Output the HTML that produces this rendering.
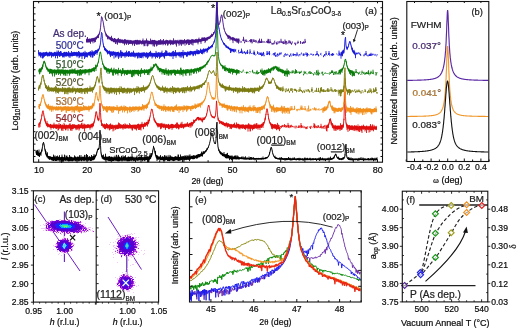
<!DOCTYPE html>
<html><head><meta charset="utf-8"><style>
html,body{margin:0;padding:0;background:#fff;width:520px;height:328px;overflow:hidden}
svg{display:block}
text{stroke:#222;stroke-width:0.22px}
</style></head><body>
<svg width="520" height="328" viewBox="0 0 520 328">
<rect width="520" height="328" fill="#fff"/>
<path d="M36 151.7 36.5 150.9 37 152.2 37.5 151.7 38 151.7 38.5 152.6 39 152.6 39.5 152.7 40 152.9 40.5 151.9 41 151.5 41.5 150.3 42 148.6 42.5 146 43 143.1 43.5 142 44 143.6 44.5 146.3 45 148.9 45.5 150.9 46 151.9 46.5 153.8 47 154.3 47.5 155 48 155.8 48.5 155.9 49 155.9 49.5 156.2 50 156.1 50.5 156.4 51 156.3 51.5 156.9 52 157.1 52.5 156.8 53 157.2 53.5 156.8 54 156.7 54.5 156.4 55 156.2 55.5 157.4 56 156.1 56.5 156.4 57 156 57.5 157.4 58 157 58.5 156.8 59 156.4 59.5 157.1 60 156.9 60.5 157.2 61 156.9 61.5 156.8 62 156.8 62.5 156.5 63 157.3 63.5 156.7 64 157.5 64.5 156.7 65 156.9 65.5 157.4 66 157.3 66.5 157.5 67 157.1 67.5 157 68 156.9 68.5 157.5 69 156.6 69.5 157.2 70 157.2 70.5 156.3 71 156.7 71.5 156.7 72 156.9 72.5 157.3 73 157.4 73.5 157.4 74 157.1 74.5 157.4 75 156.9 75.5 156.2 76 156.5 76.5 157.2 77 157.2 77.5 156.5 78 156.2 78.5 156.7 79 157.3 79.5 157 80 157.4 80.5 157 81 156.3 81.5 157.3 82 157 82.5 156.7 83 156.2 83.5 156.7 84 156.9 84.5 156.6 85 157.2 85.5 157.4 86 156.3 86.5 156.9 87 156.2 87.5 157.3 88 157.5 88.5 156.7 89 156.4 89.5 156 90 156.5 90.5 157.3 91 156.5 91.5 156.7 92 156.9 92.5 155.9 93 156 93.5 155.7 94 155.8 94.5 155.4 95 155 95.5 155 96 153.8 96.5 152.2 97 150.9 97.5 149.1 98 148.2 98.5 148.6 99 148.2 99.5 143.3 100 129.9 100.5 144.8 101 151.3 101.5 153.7 102 155.1 102.5 155.2 103 155.5 103.5 156.8 104 157 104.5 156.9 105 155.8 105.5 156.7 106 156.1 106.5 156.9 107 156.5 107.5 156.9 108 156.3 108.5 156.8 109 156.1 109.5 156.3 110 156.1 110.5 157.1 111 157.2 111.5 156.6 112 156.6 112.5 157 113 157.4 113.5 157.3 114 156.1 114.5 157.2 115 157.2 115.5 156.9 116 157.5 116.5 157.4 117 156.5 117.5 156.9 118 157.4 118.5 156.3 119 157.3 119.5 156.6 120 156.6 120.5 157.6 121 157.6 121.5 156.5 122 157.5 122.5 157.4 123 156.4 123.5 156.9 124 156.3 124.5 156.3 125 156.6 125.5 157.6 126 156.9 126.5 157.3 127 157.4 127.5 157 128 156.5 128.5 156.3 129 156.9 129.5 156.9 130 156.4 130.5 156.8 131 156.4 131.5 156.9 132 156.2 132.5 156.6 133 157 133.5 157.4 134 156.3 134.5 157.6 135 157.6 135.5 157.6 136 156.4 136.5 156.6 137 157.6 137.5 157.6 138 157.4 138.5 156.6 139 157.1 139.5 156.4 140 156.2 140.5 156.6 141 156.9 141.5 156.3 142 157.2 142.5 156.5 143 157.5 143.5 157.1 144 156.6 144.5 156.4 145 156.8 145.5 156.7 146 156.3 146.5 156.3 147 156.2 147.5 155.9 148 157 148.5 156.6 149 155.8 149.5 155.4 150 155.3 150.5 155.5 151 154.5 151.5 154.1 152 153.5 152.5 150.8 153 148.7 153.5 146.8 154 147 154.5 149.4 155 152 155.5 152.7 156 154.4 156.5 154.9 157 155.3 157.5 155.2 158 155.9 158.5 156.4 159 156.4 159.5 156.7 160 156.1 160.5 156 161 157 161.5 157.3 162 156.1 162.5 156.4 163 156 163.5 156.9 164 157.1 164.5 156.1 165 157.4 165.5 156.3 166 156.3 166.5 156.2 167 156.8 167.5 157.1 168 157.4 168.5 156.8 169 156 169.5 156.9 170 156.7 170.5 157.2 171 156.4 171.5 156.2 172 157 172.5 156.6 173 157 173.5 157 174 157.3 174.5 156.8 175 156.1 175.5 156.2 176 156.3 176.5 156.8 177 156.6 177.5 156.4 178 157.1 178.5 156.1 179 156.9 179.5 156.7 180 157.2 180.5 156.6 181 156.1 181.5 156.6 182 156.4 182.5 156.3 183 155.8 183.5 155.9 184 156.4 184.5 156.6 185 155.8 185.5 156.2 186 155.8 186.5 156.7 187 156.5 187.5 155.9 188 156 188.5 156.3 189 156.2 189.5 156.2 190 155.5 190.5 156.5 191 156.2 191.5 155.5 192 156.1 192.5 155.5 193 155.7 193.5 155.1 194 155 194.5 155.6 195 155.6 195.5 155.7 196 155.1 196.5 155 197 154.5 197.5 154.4 198 154.2 198.5 154.1 199 154.1 199.5 154.1 200 154.2 200.5 153.4 201 153.1 201.5 153.6 202 153.2 202.5 152.6 203 152.6 203.5 152 204 151.2 204.5 151.4 205 150.7 205.5 150.2 206 149.9 206.5 149.3 207 148.6 207.5 148.1 208 147.2 208.5 145.9 209 145 209.5 143.4 210 141.3 210.5 138.7 211 135.8 211.5 133.4 212 132.6 212.5 134.2 213 136.6 213.5 139.4 214 141.4 214.5 142.9 215 143.6 215.5 143.3 216 139.7 216.5 125.8 217 121.8 217.5 140.5 218 146.3 218.5 148.6 219 150.1 219.5 150.5 220 151 220.5 151.3 221 151.8 221.5 152.2 222 152.7 222.5 152.8 223 153.4 223.5 153.6 224 154 224.5 153.9 225 154.3 225.5 154.3 226 154.1 226.5 154.6 227 154.9 227.5 155.1 228 154.9 228.5 155 229 155 229.5 155.8 230 155.7 230.5 155.7 231 155.6 231.5 156 232 156.5 232.5 155.9 233 156.7 233.5 156.4 234 155.9 234.5 156.1 235 156.2 235.5 156.9 236 157.2 236.5 157.2 237 156.6 237.5 156.5 238 156.5 238.5 157.1 239 156.9 239.5 156.9 240 157.6 240.5 157.2 241 157.1 241.5 157.5 242 157.4 242.5 157.8 243 157.8 243.5 157.8 244 157.6 244.5 157.4 245 157.6 245.5 157.7 246 157.9 246.5 158 247 157.8 247.5 157.8 248 157.9 248.5 158.1 249 157.5 249.5 157.8 250 157.8 250.5 157.8 251 157.8 251.5 157.8 252 157.8 252.5 158 253 158.1 253.5 157.9 254 157.7 254.5 158 255 157.9 255.5 158.2 256 157.9 256.5 158.1 257 157.7 257.5 158.2 258 158.1 258.5 157.7 259 158.2 259.5 158 260 157.9 260.5 157.9 261 157.8 261.5 157.5 262 158.2 262.5 157.7 263 157.9 263.5 157.9 264 158 264.5 157.8 265 157.3 265.5 157.2 266 157 266.5 157.1 267 157.1 267.5 156.8 268 156.3 268.5 155.5 269 154.6 269.5 153 270 151.3 270.5 148.8 271 147.1 271.5 147.2 272 149.2 272.5 151.8 273 153.4 273.5 154.8 274 155.8 274.5 156.4 275 156.7 275.5 157.3 276 157.1 276.5 157.6 277 157.4 277.5 157.9 278 157.8 278.5 158.1 279 157.9 279.5 157.8 280 157.9 280.5 158.2 281 157.7 281.5 157.8 282 157.8 282.5 158.1 283 158.1 283.5 158.3 284 158.4 284.5 158.1 285 158 285.5 158.2 286 158.1 286.5 158.1 287 158.2 287.5 158.3 288 157.9 288.5 158.5 289 158.4 289.5 158 290 158.2 290.5 158.2 291 158.3 291.5 158.4 292 158.2 292.5 158.2 293 158.4 293.5 158.3 294 158.3 294.5 158.2 295 158.5 295.5 158.6 296 158.6 296.5 158.4 297 158.3 297.5 158.1 298 158.4 298.5 158.1 299 158.4 299.5 158.6 300 158.7 300.5 158.3 301 158.4 301.5 158.6 302 158.5 302.5 158.2 303 158 303.5 158.7 304 158.7 304.5 158.7 305 158.5 305.5 158.4 306 158.5 306.5 158.2 307 158.5 307.5 158.5 308 158.5 308.5 158.4 309 158.6 309.5 158.3 310 158.3 310.5 158.3 311 158.4 311.5 158.5 312 158.4 312.5 158.2 313 158.1 313.5 158.2 314 158.6 314.5 158.5 315 158.2 315.5 158.1 316 158.6 316.5 158.6 317 158.6 317.5 158.3 318 158.6 318.5 158.3 319 158.4 319.5 158.2 320 158.5 320.5 158.3 321 158.1 321.5 158.6 322 158.5 322.5 158.3 323 158.1 323.5 158.4 324 158.5 324.5 158.3 325 158.4 325.5 158.4 326 158.3 326.5 158.6 327 158.7 327.5 158.3 328 158.2 328.5 158.4 329 158.4 329.5 158.2 330 158.4 330.5 158.4 331 158.1 331.5 158.2 332 158 332.5 157.8 333 157.6 333.5 157 334 156.3 334.5 155.7 335 154.1 335.5 153.6 336 154 336.5 155.3 337 156.4 337.5 156.9 338 157.4 338.5 157.9 339 157.5 339.5 158.1 340 158.2 340.5 158.4 341 158.1 341.5 158.3 342 157.9 342.5 158 343 157.9 343.5 158 344 157.5 344.5 156.9 345 155 345.5 146.9 346 144 346.5 153.9 347 156.7 347.5 157.6 348 157.8 348.5 157.8 349 158.4 349.5 158 350 158.1 350.5 158.6 351 158.4 351.5 158.6 352 158.4 352.5 158.2 353 158.1 353.5 158.7 354 158.7 354.5 158.2 355 158.8 355.5 158.2 356 158.5 356.5 158.4 357 158.2 357.5 158.7 358 158.3 358.5 158.4 359 158.2 359.5 158.4 360 158.3 360.5 158.2 361 158.6 361.5 158.6 362 158.8 362.5 158.3 363 158.5 363.5 158.2 364 158.6 364.5 158.2 365 158.6 365.5 158.3 366 158.7 366.5 158.8 367 158.7 367.5 158.3 368 158.3 368.5 158.8 369 158.7 369.5 158.4 370 158.7 370.5 158.3 371 158.3 371.5 158.7 372 158.8 372.5 158.6 373 158.6 373.5 158.6 374 158.5 374.5 158.2 375 158.7 375.5 158.2 376 158.4 376.5 158.5 377 158.7 L377 160.4 376.5 160.1 376 160.4 375.5 160.5 375 160.6 374.5 160.4 374 160.3 373.5 160.6 373 160 372.5 160.6 372 160 371.5 160.5 371 160.5 370.5 160.3 370 160.3 369.5 160.6 369 160.2 368.5 160.6 368 160.4 367.5 160 367 160.5 366.5 160.1 366 160.4 365.5 160.2 365 160.2 364.5 160.5 364 160.2 363.5 160.6 363 160.2 362.5 160.2 362 160 361.5 160.2 361 160 360.5 160 360 160.3 359.5 160.5 359 160.1 358.5 160.6 358 160.2 357.5 160.5 357 160.6 356.5 160 356 160.1 355.5 160.5 355 160 354.5 160.2 354 160.3 353.5 160.5 353 160.4 352.5 159.9 352 160.2 351.5 160.2 351 160.5 350.5 160.1 350 160.4 349.5 159.9 349 159.9 348.5 160.1 348 159.5 347.5 159.1 347 158.3 346.5 155.2 346 144.2 345.5 147.5 345 156.2 344.5 158.6 344 159.1 343.5 159.4 343 159.6 342.5 159.7 342 159.8 341.5 160.2 341 159.9 340.5 159.7 340 159.8 339.5 159.9 339 159.9 338.5 159.5 338 159 337.5 158.8 337 158.2 336.5 157 336 155.8 335.5 154.9 335 155.7 334.5 156.9 334 158.3 333.5 159 333 159.3 332.5 159.5 332 159.7 331.5 160 331 159.7 330.5 160.2 330 160 329.5 159.8 329 159.9 328.5 160.1 328 160.1 327.5 160.2 327 160.2 326.5 160.2 326 160.1 325.5 160.4 325 160.4 324.5 160.3 324 160.5 323.5 160.5 323 160.1 322.5 160.5 322 160 321.5 160.5 321 160 320.5 160.5 320 160.3 319.5 160.5 319 160.1 318.5 160.3 318 160.1 317.5 160.3 317 159.9 316.5 160 316 159.9 315.5 159.9 315 160 314.5 160 314 159.9 313.5 160.3 313 160.2 312.5 160 312 160.5 311.5 160 311 160.5 310.5 160.5 310 159.9 309.5 160 309 160.4 308.5 159.8 308 160.4 307.5 160.1 307 160.2 306.5 160.2 306 160 305.5 160.3 305 160.3 304.5 160.3 304 160.4 303.5 160.3 303 160.5 302.5 160.1 302 160.1 301.5 160.3 301 160 300.5 160.3 300 160.3 299.5 160.5 299 160.4 298.5 160.2 298 160.1 297.5 160 297 160 296.5 160.5 296 160.3 295.5 160.2 295 159.8 294.5 159.9 294 160.1 293.5 160.1 293 160 292.5 160.3 292 160.3 291.5 160.4 291 160.3 290.5 160.4 290 160.4 289.5 160 289 160 288.5 159.8 288 160.1 287.5 160.3 287 159.7 286.5 160.2 286 160.2 285.5 160.1 285 159.7 284.5 159.7 284 160 283.5 160.1 283 159.7 282.5 159.7 282 159.8 281.5 159.7 281 159.6 280.5 160 280 159.9 279.5 159.7 279 159.3 278.5 159.4 278 159.6 277.5 159.4 277 159 276.5 159.1 276 158.9 275.5 158.7 275 158.4 274.5 157.9 274 157.1 273.5 156.3 273 155 272.5 152.7 272 150.4 271.5 147.9 271 147.7 270.5 149.6 270 152.5 269.5 154.4 269 155.8 268.5 157.1 268 157.5 267.5 158.5 267 158.3 266.5 158.6 266 158.7 265.5 159.3 265 159.2 264.5 159.1 264 159.6 263.5 159.6 263 159.4 262.5 159.3 262 159.7 261.5 159.7 261 159.6 260.5 159.5 260 159.8 259.5 159.6 259 159.4 258.5 159.7 258 159.6 257.5 159.4 257 160 256.5 159.5 256 159.5 255.5 159.7 255 159.4 254.5 159.6 254 159.6 253.5 159.8 253 159.6 252.5 159.3 252 159.8 251.5 159.7 251 159.6 250.5 159.8 250 159.7 249.5 159.9 249 159.7 248.5 159.4 248 159.2 247.5 159.5 247 159.5 246.5 159.7 246 159.4 245.5 159.7 245 159.4 244.5 159.6 244 159.8 243.5 159.6 243 159.3 242.5 159.3 242 159.2 241.5 159.3 241 159.1 240.5 159.1 240 159.3 239.5 159.5 239 159.4 238.5 159.5 238 159.4 237.5 159.2 237 159.2 236.5 159.6 236 159.4 235.5 159.5 235 159.1 234.5 159.3 234 159.4 233.5 159.3 233 159.3 232.5 159.1 232 158.8 231.5 159 231 159 230.5 159.4 230 158.7 229.5 158.6 229 158.5 228.5 158.3 228 158.7 227.5 158.2 227 158.2 226.5 158.4 226 158.4 225.5 158.1 225 157.7 224.5 156.8 224 156.8 223.5 156.4 223 155.9 222.5 156.3 222 155.8 221.5 154.8 221 154.6 220.5 154.5 220 153.8 219.5 153 219 151.5 218.5 150.2 218 147.7 217.5 141.1 217 122.4 216.5 126.4 216 140.4 215.5 143.8 215 144.2 214.5 143.5 214 142.1 213.5 140 213 137.2 212.5 134.6 212 133.3 211.5 134 211 136.4 210.5 139.3 210 141.9 209.5 144 209 145.8 208.5 147 208 148.7 207.5 149.5 207 150.5 206.5 151.5 206 152.2 205.5 152.3 205 153.3 204.5 154.1 204 153.8 203.5 154.3 203 154.9 202.5 155.4 202 155.9 201.5 156.3 201 156.4 200.5 156.4 200 157.1 199.5 157.2 199 157.5 198.5 157.2 198 158.1 197.5 158.4 197 158.5 196.5 158.8 196 158.6 195.5 158 195 158.8 194.5 158.9 194 159.3 193.5 159 193 159.7 192.5 159.1 192 159 191.5 158.8 191 159 190.5 159.5 190 160.2 189.5 159.4 189 160.3 188.5 159.9 188 159.6 187.5 160 187 159.8 186.5 160 186 160.5 185.5 159.7 185 159.9 184.5 160 184 160.9 183.5 159.8 183 159.8 182.5 159.6 182 159.8 181.5 160.2 181 160.4 180.5 160.5 180 160.4 179.5 160.7 179 161 178.5 160.7 178 161.2 177.5 160.3 177 160.4 176.5 160.3 176 159.8 175.5 160.5 175 160.7 174.5 160.8 174 161 173.5 161.2 173 161 172.5 160.7 172 160.4 171.5 160.5 171 160 170.5 160.6 170 161 169.5 161.2 169 161.2 168.5 160.9 168 160.7 167.5 161.2 167 160.5 166.5 160 166 160 165.5 160.6 165 160.6 164.5 160.8 164 160.7 163.5 161 163 160.5 162.5 159.9 162 160.6 161.5 159.9 161 160.3 160.5 160.3 160 160 159.5 159.6 159 159.7 158.5 159.6 158 160.3 157.5 159.5 157 159.5 156.5 158.6 156 158.2 155.5 156.6 155 153.9 154.5 151.2 154 148 153.5 147.8 153 150.8 152.5 153.5 152 156.2 151.5 157 151 158.8 150.5 158.9 150 159.5 149.5 160.1 149 159.7 148.5 159.5 148 160.1 147.5 160.3 147 160.4 146.5 159.9 146 159.9 145.5 160.6 145 160.8 144.5 161.4 144 160.2 143.5 160.1 143 161.2 142.5 161.5 142 160.3 141.5 160.5 141 160.3 140.5 160.3 140 160.6 139.5 160.2 139 160.6 138.5 160.4 138 161 137.5 161 137 160.3 136.5 161.1 136 160.3 135.5 161.5 135 160.5 134.5 161.3 134 160.7 133.5 161.5 133 160.6 132.5 160.3 132 161.4 131.5 160.8 131 160.8 130.5 160.8 130 160.8 129.5 161.2 129 161.6 128.5 161 128 161.4 127.5 161.3 127 161.2 126.5 161.3 126 160.2 125.5 161.3 125 160.3 124.5 161.3 124 160.4 123.5 161 123 160.2 122.5 161.3 122 161.6 121.5 161.2 121 160.3 120.5 161.1 120 160.7 119.5 161.2 119 161.6 118.5 161.2 118 161.4 117.5 161.2 117 161.1 116.5 160.7 116 161 115.5 160.8 115 160.4 114.5 160.6 114 161.1 113.5 161 113 161.1 112.5 161.3 112 161.1 111.5 160.8 111 161.5 110.5 161 110 160.9 109.5 161.1 109 161.4 108.5 160.7 108 161 107.5 160.3 107 160.8 106.5 160.1 106 160 105.5 161 105 159.7 104.5 160.6 104 159.5 103.5 159.4 103 159.7 102.5 158.6 102 159.1 101.5 157.3 101 154.6 100.5 145.8 100 130.6 99.5 143.7 99 149.8 98.5 150.2 98 149.4 97.5 151 97 153.5 96.5 155.3 96 156.6 95.5 157.6 95 158.8 94.5 159.5 94 160.2 93.5 159.8 93 160.8 92.5 160.1 92 160.6 91.5 160.9 91 161 90.5 161 90 161.2 89.5 160.4 89 160.1 88.5 161.2 88 160.8 87.5 160.4 87 161.4 86.5 160.4 86 161.1 85.5 160.1 85 161.1 84.5 160.4 84 161.5 83.5 160.6 83 161 82.5 160.2 82 160.7 81.5 161.6 81 160.9 80.5 160.5 80 160.4 79.5 161.6 79 160.5 78.5 161.5 78 161.3 77.5 160.3 77 161.6 76.5 160.6 76 161 75.5 161.4 75 160.6 74.5 160.4 74 161.2 73.5 160.4 73 161 72.5 161.3 72 161.5 71.5 160.7 71 161.4 70.5 160.7 70 161.3 69.5 161.2 69 161.3 68.5 161.4 68 161.3 67.5 160.8 67 160.8 66.5 160.6 66 160.7 65.5 161.1 65 160.7 64.5 160.3 64 161.2 63.5 161.6 63 161 62.5 161.4 62 161.5 61.5 160.6 61 161.6 60.5 160.3 60 160.2 59.5 160.9 59 160.3 58.5 160.8 58 160.4 57.5 160.4 57 160.8 56.5 161.1 56 161.1 55.5 160.9 55 161 54.5 160.3 54 161 53.5 161 53 161.1 52.5 160.6 52 160.8 51.5 160.3 51 159.9 50.5 159.5 50 159.5 49.5 159.9 49 159.7 48.5 158.5 48 159.3 47.5 157.6 47 157.8 46.5 156.7 46 155.9 45.5 154.2 45 151.5 44.5 147.8 44 144.6 43.5 142.6 43 144.2 42.5 147.5 42 151.1 41.5 152.3 41 153.9 40.5 155.4 40 155.3 39.5 156.5 39 156.7 38.5 155.9 38 156 37.5 155.8 37 155.1 36.5 155 36 154.8Z" fill="#000000" stroke="none"/><path d="M36 153.4 L36.5 153.6 L37 153.8 L37.5 154 L38 154.2 L38.5 154.3 L39 154.3 L39.5 154.3 L40 154.1 L40.5 153.6 L41 152.7 L41.5 151.4 L42 149.5 L42.5 146.7 L43 143.7 L43.5 142.3 L44 144 L44.5 147.2 L45 150.2 L45.5 152.4 L46 154 L46.5 155.1 L47 155.9 L47.5 156.5 L48 157 L48.5 157.3 L49 157.7 L49.5 158 L50 158.2 L50.5 158.3 L51 158.4 L51.5 158.5 L52 158.5 L52.5 158.6 L53 158.6 L53.5 158.6 L54 158.7 L54.5 158.7 L55 158.7 L55.5 158.7 L56 158.7 L56.5 158.8 L57 158.8 L57.5 158.8 L58 158.8 L58.5 158.8 L59 158.8 L59.5 158.8 L60 158.8 L60.5 158.8 L61 158.9 L61.5 158.9 L62 158.9 L62.5 158.9 L63 158.9 L63.5 158.9 L64 158.9 L64.5 158.9 L65 158.9 L65.5 158.9 L66 158.9 L66.5 158.9 L67 158.9 L67.5 158.9 L68 158.9 L68.5 158.9 L69 158.9 L69.5 158.9 L70 158.9 L70.5 158.9 L71 158.9 L71.5 158.9 L72 158.9 L72.5 158.9 L73 158.9 L73.5 158.9 L74 158.9 L74.5 158.9 L75 158.9 L75.5 158.9 L76 158.9 L76.5 158.9 L77 158.9 L77.5 158.9 L78 158.9 L78.5 158.9 L79 158.9 L79.5 158.9 L80 158.9 L80.5 158.9 L81 158.9 L81.5 158.9 L82 158.9 L82.5 158.9 L83 158.9 L83.5 158.9 L84 158.9 L84.5 158.9 L85 158.9 L85.5 158.8 L86 158.8 L86.5 158.8 L87 158.8 L87.5 158.8 L88 158.8 L88.5 158.8 L89 158.7 L89.5 158.7 L90 158.7 L90.5 158.6 L91 158.6 L91.5 158.5 L92 158.4 L92.5 158.3 L93 158.2 L93.5 158 L94 157.8 L94.5 157.5 L95 157.1 L95.5 156.5 L96 155.5 L96.5 154.1 L97 152.1 L97.5 149.9 L98 148.8 L98.5 149.2 L99 149.1 L99.5 143.5 L100 130.2 L100.5 145.3 L101 153.1 L101.5 155.7 L102 156.8 L102.5 157.4 L103 157.8 L103.5 158 L104 158.2 L104.5 158.4 L105 158.5 L105.5 158.5 L106 158.6 L106.5 158.6 L107 158.7 L107.5 158.7 L108 158.7 L108.5 158.8 L109 158.8 L109.5 158.8 L110 158.8 L110.5 158.8 L111 158.9 L111.5 158.9 L112 158.9 L112.5 158.9 L113 158.9 L113.5 158.9 L114 158.9 L114.5 158.9 L115 158.9 L115.5 158.9 L116 158.9 L116.5 158.9 L117 158.9 L117.5 158.9 L118 158.9 L118.5 158.9 L119 158.9 L119.5 158.9 L120 158.9 L120.5 158.9 L121 158.9 L121.5 158.9 L122 158.9 L122.5 158.9 L123 159 L123.5 159 L124 159 L124.5 159 L125 159 L125.5 159 L126 159 L126.5 159 L127 159 L127.5 159 L128 158.9 L128.5 158.9 L129 158.9 L129.5 158.9 L130 158.9 L130.5 158.9 L131 158.9 L131.5 158.9 L132 158.9 L132.5 158.9 L133 158.9 L133.5 158.9 L134 158.9 L134.5 158.9 L135 158.9 L135.5 158.9 L136 158.9 L136.5 158.9 L137 158.9 L137.5 158.9 L138 158.9 L138.5 158.9 L139 158.9 L139.5 158.9 L140 158.9 L140.5 158.9 L141 158.8 L141.5 158.8 L142 158.8 L142.5 158.8 L143 158.8 L143.5 158.8 L144 158.8 L144.5 158.7 L145 158.7 L145.5 158.7 L146 158.6 L146.5 158.6 L147 158.5 L147.5 158.4 L148 158.4 L148.5 158.2 L149 158.1 L149.5 157.9 L150 157.6 L150.5 157.2 L151 156.7 L151.5 155.8 L152 154.5 L152.5 152.5 L153 149.6 L153.5 147.2 L154 147.5 L154.5 150.2 L155 152.9 L155.5 154.8 L156 156 L156.5 156.8 L157 157.3 L157.5 157.6 L158 157.9 L158.5 158.1 L159 158.2 L159.5 158.3 L160 158.4 L160.5 158.5 L161 158.5 L161.5 158.5 L162 158.6 L162.5 158.6 L163 158.6 L163.5 158.6 L164 158.7 L164.5 158.7 L165 158.7 L165.5 158.7 L166 158.7 L166.5 158.7 L167 158.7 L167.5 158.7 L168 158.7 L168.5 158.7 L169 158.7 L169.5 158.7 L170 158.7 L170.5 158.7 L171 158.7 L171.5 158.7 L172 158.7 L172.5 158.7 L173 158.6 L173.5 158.6 L174 158.6 L174.5 158.6 L175 158.6 L175.5 158.6 L176 158.6 L176.5 158.6 L177 158.6 L177.5 158.5 L178 158.5 L178.5 158.5 L179 158.5 L179.5 158.5 L180 158.5 L180.5 158.4 L181 158.4 L181.5 158.4 L182 158.4 L182.5 158.4 L183 158.3 L183.5 158.3 L184 158.3 L184.5 158.2 L185 158.2 L185.5 158.2 L186 158.1 L186.5 158.1 L187 158.1 L187.5 158 L188 158 L188.5 157.9 L189 157.9 L189.5 157.8 L190 157.8 L190.5 157.7 L191 157.7 L191.5 157.6 L192 157.5 L192.5 157.5 L193 157.4 L193.5 157.3 L194 157.2 L194.5 157.1 L195 157 L195.5 156.9 L196 156.8 L196.5 156.7 L197 156.5 L197.5 156.4 L198 156.2 L198.5 156.1 L199 155.9 L199.5 155.7 L200 155.5 L200.5 155.2 L201 155 L201.5 154.7 L202 154.4 L202.5 154.1 L203 153.7 L203.5 153.4 L204 152.9 L204.5 152.5 L205 152 L205.5 151.4 L206 150.8 L206.5 150.2 L207 149.5 L207.5 148.6 L208 147.7 L208.5 146.6 L209 145.3 L209.5 143.7 L210 141.6 L210.5 139.1 L211 136.2 L211.5 133.7 L212 133 L212.5 134.4 L213 137 L213.5 139.6 L214 141.7 L214.5 143.1 L215 143.9 L215.5 143.5 L216 140.1 L216.5 126 L217 122.1 L217.5 140.7 L218 146.9 L218.5 149.4 L219 150.8 L219.5 151.7 L220 152.4 L220.5 153 L221 153.4 L221.5 153.9 L222 154.2 L222.5 154.6 L223 154.9 L223.5 155.2 L224 155.4 L224.5 155.6 L225 155.8 L225.5 156 L226 156.2 L226.5 156.4 L227 156.5 L227.5 156.7 L228 156.8 L228.5 156.9 L229 157 L229.5 157.2 L230 157.3 L230.5 157.3 L231 157.4 L231.5 157.5 L232 157.6 L232.5 157.7 L233 157.7 L233.5 157.8 L234 157.8 L234.5 157.9 L235 158 L235.5 158 L236 158.1 L236.5 158.1 L237 158.1 L237.5 158.2 L238 158.2 L238.5 158.3 L239 158.3 L239.5 158.3 L240 158.4 L240.5 158.4 L241 158.4 L241.5 158.4 L242 158.5 L242.5 158.5 L243 158.5 L243.5 158.5 L244 158.6 L244.5 158.6 L245 158.6 L245.5 158.6 L246 158.6 L246.5 158.6 L247 158.7 L247.5 158.7 L248 158.7 L248.5 158.7 L249 158.7 L249.5 158.7 L250 158.7 L250.5 158.7 L251 158.8 L251.5 158.8 L252 158.8 L252.5 158.8 L253 158.8 L253.5 158.8 L254 158.8 L254.5 158.8 L255 158.8 L255.5 158.8 L256 158.8 L256.5 158.8 L257 158.8 L257.5 158.8 L258 158.8 L258.5 158.8 L259 158.8 L259.5 158.8 L260 158.8 L260.5 158.8 L261 158.8 L261.5 158.7 L262 158.7 L262.5 158.7 L263 158.6 L263.5 158.6 L264 158.5 L264.5 158.5 L265 158.4 L265.5 158.3 L266 158.1 L266.5 158 L267 157.7 L267.5 157.4 L268 156.9 L268.5 156.3 L269 155.3 L269.5 153.9 L270 151.8 L270.5 149.3 L271 147.3 L271.5 147.6 L272 149.8 L272.5 152.3 L273 154.2 L273.5 155.6 L274 156.5 L274.5 157.1 L275 157.5 L275.5 157.9 L276 158.1 L276.5 158.3 L277 158.4 L277.5 158.5 L278 158.6 L278.5 158.7 L279 158.7 L279.5 158.8 L280 158.8 L280.5 158.9 L281 158.9 L281.5 158.9 L282 159 L282.5 159 L283 159 L283.5 159 L284 159 L284.5 159.1 L285 159.1 L285.5 159.1 L286 159.1 L286.5 159.1 L287 159.1 L287.5 159.1 L288 159.1 L288.5 159.1 L289 159.1 L289.5 159.2 L290 159.2 L290.5 159.2 L291 159.2 L291.5 159.2 L292 159.2 L292.5 159.2 L293 159.2 L293.5 159.2 L294 159.2 L294.5 159.2 L295 159.2 L295.5 159.2 L296 159.2 L296.5 159.2 L297 159.2 L297.5 159.2 L298 159.2 L298.5 159.2 L299 159.2 L299.5 159.2 L300 159.2 L300.5 159.2 L301 159.2 L301.5 159.3 L302 159.3 L302.5 159.3 L303 159.3 L303.5 159.3 L304 159.3 L304.5 159.3 L305 159.3 L305.5 159.3 L306 159.3 L306.5 159.3 L307 159.3 L307.5 159.3 L308 159.3 L308.5 159.3 L309 159.3 L309.5 159.3 L310 159.3 L310.5 159.3 L311 159.3 L311.5 159.3 L312 159.3 L312.5 159.3 L313 159.3 L313.5 159.3 L314 159.3 L314.5 159.3 L315 159.3 L315.5 159.3 L316 159.3 L316.5 159.3 L317 159.3 L317.5 159.3 L318 159.3 L318.5 159.3 L319 159.3 L319.5 159.3 L320 159.3 L320.5 159.3 L321 159.3 L321.5 159.3 L322 159.3 L322.5 159.3 L323 159.3 L323.5 159.3 L324 159.3 L324.5 159.3 L325 159.3 L325.5 159.3 L326 159.3 L326.5 159.2 L327 159.2 L327.5 159.2 L328 159.2 L328.5 159.2 L329 159.2 L329.5 159.1 L330 159.1 L330.5 159 L331 159 L331.5 158.9 L332 158.7 L332.5 158.6 L333 158.3 L333.5 157.9 L334 157.2 L334.5 156.2 L335 155 L335.5 154.4 L336 155 L336.5 156.2 L337 157.2 L337.5 157.9 L338 158.3 L338.5 158.5 L339 158.7 L339.5 158.8 L340 158.9 L340.5 159 L341 159 L341.5 159 L342 159 L342.5 159 L343 158.9 L343.5 158.7 L344 158.4 L344.5 157.7 L345 155.5 L345.5 147.2 L346 144.1 L346.5 154.7 L347 157.4 L347.5 158.4 L348 158.7 L348.5 159 L349 159.1 L349.5 159.2 L350 159.2 L350.5 159.2 L351 159.3 L351.5 159.3 L352 159.3 L352.5 159.3 L353 159.3 L353.5 159.3 L354 159.4 L354.5 159.4 L355 159.4 L355.5 159.4 L356 159.4 L356.5 159.4 L357 159.4 L357.5 159.4 L358 159.4 L358.5 159.4 L359 159.4 L359.5 159.4 L360 159.4 L360.5 159.4 L361 159.4 L361.5 159.4 L362 159.4 L362.5 159.4 L363 159.4 L363.5 159.4 L364 159.4 L364.5 159.4 L365 159.4 L365.5 159.4 L366 159.4 L366.5 159.4 L367 159.4 L367.5 159.4 L368 159.4 L368.5 159.4 L369 159.4 L369.5 159.4 L370 159.4 L370.5 159.4 L371 159.4 L371.5 159.4 L372 159.4 L372.5 159.4 L373 159.5 L373.5 159.5 L374 159.5 L374.5 159.5 L375 159.5 L375.5 159.5 L376 159.5 L376.5 159.5 L377 159.5M36 153.4v-3M36.5 153.6v-3M37.5 154v-4.1M38 154.2v-3.2M39 154.3v-4.8M39.5 154.3v2.7M41 152.7v3M42 149.5v2.1M43 143.7v0.9M45.5 152.4v-2.9M46 154v-2.9M47.5 156.5v-4.2M53.5 158.6v-4M55 158.7v-3.3M57.5 158.8v-3.2M59.5 158.8v-3.6M60 158.8v3.2M61.5 158.9v4.1M62 158.9v-4.3M64.5 158.9v-4.3M65 158.9v-3.5M66.5 158.9v-3.1M67 158.9v-3.4M69.5 158.9v-3.9M74.5 158.9v-3.5M77 158.9v4M79.5 158.9v-3.7M81 158.9v-3.8M84.5 158.9v-4M86 158.8v-3.7M86.5 158.8v-4.8M87.5 158.8v-3.8M91.5 158.5v-3.5M94 157.8v-3.8M98.5 149.2v-1.3M99.5 143.5v0.6M103.5 158v-3.5M105.5 158.5v-4.8M106 158.6v4M115 158.9v-3.3M116.5 158.9v-4.1M118 158.9v-3.3M118.5 158.9v-4M121.5 158.9v-3.1M123 159v-3.7M125.5 159v-3.8M132 158.9v-5.3M137 158.9v-3.5M141 158.8v3.9M141.5 158.8v-4M145 158.7v-3.5M147.5 158.4v4M148.5 158.2v4.1M149 158.1v3.6M150 157.6v-4.3M151 156.7v-3.5M151.5 155.8v-2.6M153.5 147.2v-1.3M155.5 154.8v-4M157 157.3v3.7M160.5 158.5v-3.4M164 158.7v3.9M164.5 158.7v-3.5M165 158.7v-3.4M167 158.7v-3.3M169 158.7v-3.8M170.5 158.7v-3.3M178 158.5v-4M178.5 158.5v-3.8M180.5 158.4v-3.9M182.5 158.4v3.6M185 158.2v-3M187 158.1v-3.1M189 157.9v-3.1M189.5 157.8v3.4M190 157.8v-3.4M201.5 154.7v-3.1M202.5 154.1v2.5M203 153.7v-2.2M203.5 153.4v-2.1M207 149.5v-1.5M208.5 146.6v1M215.5 143.5v-0.5M217.5 140.7v-0.5M219 150.8v-1.7M224 155.4v-3.4M226.5 156.4v-2.7M227.5 156.7v-3.8M229.5 157.2v3M231.5 157.5v2.5M232 157.6v-2.3M232.5 157.7v2.8M235 158v-2.7M235.5 158v-2.3M236 158.1v-2.1M237 158.1v-2.9M238 158.2v-2.3M241.5 158.4v-1.7M242 158.5v-1.7M243 158.5v-2.1M244 158.6v-1.7M245.5 158.6v-2.3M247 158.7v-1.5M249 158.7v-2.2M250.5 158.7v-1.7M251.5 158.8v-1.7M253 158.8v-1.6M253.5 158.8v-1.4M255 158.8v1.6M263 158.6v-2.1M269.5 153.9v-1.7M270.5 149.3v0.8M275 157.5v-1.9M280 158.8v-1.6M281.5 158.9v-1.7M285 159.1v1.7M288.5 159.1v-2.1M290 159.2v-1.5M293 159.2v-1.7M294.5 159.2v-1.8M299 159.2v-1.4M300 159.2v-1.3M303 159.3v1.5M304.5 159.3v-1.5M305 159.3v-1.8M306 159.3v-1.4M307.5 159.3v-1.5M310 159.3v-1.6M316.5 159.3v1.8M319 159.3v-1.7M319.5 159.3v1.6M320 159.3v-1.7M320.5 159.3v-2.1M322.5 159.3v-1.6M325.5 159.3v1.9M328 159.2v-1.4M329 159.2v-1.7M330.5 159v-2.4M334 157.2v1.4M334.5 156.2v1.1M336 155v-1.1M338.5 158.5v-1.8M343 158.9v-1.9M343.5 158.7v-1.6M345 155.5v-1.2M348.5 159v-1.7M349 159.1v-1.9M351 159.3v-1.9M353 159.3v1.5M358 159.4v1.4M359 159.4v-1.6M361 159.4v-2.3M363 159.4v-1.9M363.5 159.4v1.8M368.5 159.4v-1.4M371 159.4v-1.5M372 159.4v-1.9M372.5 159.4v-1.4M373 159.5v-1.5M373.5 159.5v1.8M375 159.5v-1.8M376.5 159.5v-1.4M377 159.5v-2.2" fill="none" stroke="#000000" stroke-width="0.9" stroke-linejoin="round"/><path d="M38.5 123 39 122.9 39.5 122.3 40 121.6 40.5 119.8 41 118.7 41.5 116.6 42 114 42.5 111.3 43 110.6 43.5 112.4 44 114.9 44.5 118.1 45 119 45.5 120.5 46 121.4 46.5 123 47 123.3 47.5 122.7 48 123.6 48.5 123.5 49 124.4 49.5 124.4 50 124.1 50.5 123.8 51 124.2 51.5 124.9 52 123.8 52.5 124.9 53 124.5 53.5 124.3 54 124.7 54.5 124.6 55 123.9 55.5 124.6 56 124.5 56.5 123.8 57 124.9 57.5 124 58 124.8 58.5 124.9 59 124 59.5 125.3 60 124.1 60.5 124.1 61 124 61.5 125.3 62 125.1 62.5 124.2 63 124.8 63.5 125.4 64 124.4 64.5 124.2 65 124 65.5 125.2 66 125.1 66.5 124.2 67 125.3 67.5 125 68 124.8 68.5 124.8 69 124.6 69.5 124.1 70 124.5 70.5 124.5 71 124.6 71.5 125.1 72 124.8 72.5 124 73 124.1 73.5 124.3 74 124.7 74.5 124.1 75 124.5 75.5 124.9 76 124.7 76.5 125.2 77 124.6 77.5 125 78 124.3 78.5 124.2 79 123.9 79.5 124.2 80 125.3 80.5 124.3 81 124.2 81.5 124.1 82 124.7 82.5 124.7 83 124.6 83.5 125.1 84 123.9 84.5 123.9 85 124.9 85.5 123.9 86 125 86.5 125.1 87 124.1 87.5 124 88 124.9 88.5 123.7 89 124.5 89.5 124.7 90 124.5 90.5 124.6 91 123.5 91.5 124.1 92 123.3 92.5 123.3 93 123.3 93.5 122 94 120.6 94.5 120 95 117 95.5 114.3 96 111.4 96.5 111.7 97 114.1 97.5 117 98 118.3 98.5 118.7 99 117.3 99.5 111.6 100 102.9 100.5 112 101 118.5 101.5 121 102 123.2 102.5 123.6 103 123.5 103.5 124.4 104 123.9 104.5 123.5 105 124.5 105.5 124 106 124.8 106.5 124 107 123.9 107.5 124 108 124.6 108.5 124.8 109 125.2 109.5 124.1 110 124 110.5 124.5 111 124.2 111.5 125.1 112 124.3 112.5 125 113 124.3 113.5 125.4 114 124.9 114.5 125.1 115 125.4 115.5 125.1 116 124.1 116.5 125 117 125.3 117.5 124.4 118 124.3 118.5 124.9 119 124.1 119.5 124.4 120 124.6 120.5 124.1 121 124.2 121.5 124.5 122 125.1 122.5 124.7 123 124.5 123.5 124.1 124 124 124.5 125.3 125 124.6 125.5 124 126 124.8 126.5 124.3 127 125.1 127.5 124.1 128 125.1 128.5 125 129 125 129.5 125.2 130 124.4 130.5 124.1 131 125.1 131.5 125 132 124.7 132.5 124.9 133 124.3 133.5 125.1 134 124.4 134.5 124.5 135 125 135.5 124.5 136 124.6 136.5 125 137 124.6 137.5 124.1 138 123.8 138.5 123.6 139 123.9 139.5 124.3 140 124.7 140.5 123.8 141 123.9 141.5 123.4 142 124.2 142.5 123.6 143 124.3 143.5 123.8 144 123.5 144.5 122.9 145 123.3 145.5 122.7 146 122 146.5 121.8 147 122 147.5 121.9 148 120.8 148.5 119.9 149 119.1 149.5 117.7 150 116.3 150.5 113.9 151 111.2 151.5 109 152 108.7 152.5 110.6 153 113.3 153.5 115.4 154 117.6 154.5 119.1 155 119.6 155.5 120.6 156 121.3 156.5 122.2 157 122.8 157.5 123 158 123.2 158.5 123.1 159 123.4 159.5 123.3 160 123.8 160.5 123.3 161 123 161.5 123.3 162 123.7 162.5 124.2 163 123.5 163.5 123.5 164 124.6 164.5 123.6 165 123.5 165.5 124.6 166 124.6 166.5 123.9 167 124.2 167.5 124.8 168 124.1 168.5 123.8 169 123.9 169.5 124.9 170 124.9 170.5 124.2 171 124 171.5 123.7 172 124 172.5 124 173 123.7 173.5 124.4 174 124.7 174.5 124.8 175 124.4 175.5 123.7 176 124.1 176.5 124.9 177 123.6 177.5 123.7 178 124.8 178.5 123.7 179 124.6 179.5 124.7 180 124.2 180.5 123.7 181 124.3 181.5 124.1 182 123.5 182.5 124.4 183 123.7 183.5 124.1 184 124.4 184.5 123.4 185 123.4 185.5 123.7 186 123.6 186.5 123.6 187 123.2 187.5 124 188 123.8 188.5 123.7 189 123.5 189.5 122.8 190 122.9 190.5 122.4 191 122.4 191.5 121.8 192 121.7 192.5 122.3 193 121.9 193.5 120.8 194 120.2 194.5 119.8 195 120 195.5 118.9 196 118.7 196.5 118 197 117.1 197.5 116.9 198 116.7 198.5 116.9 199 116.9 199.5 117.7 200 117.8 200.5 117.7 201 118 201.5 118.8 202 118.7 202.5 118.5 203 118.2 203.5 118.3 204 117.6 204.5 117.3 205 117.1 205.5 116.6 206 115.7 206.5 114.4 207 112.5 207.5 109.9 208 106.7 208.5 104.7 209 105.5 209.5 108.2 210 110.8 210.5 112.8 211 114.2 211.5 115 212 115.4 212.5 116.1 213 116 213.5 116.5 214 116.4 214.5 116.5 215 115.9 215.5 114.5 216 109.7 216.5 100.6 217 106.5 217.5 114.2 218 117 218.5 118.4 219 119.7 219.5 120.5 220 120 220.5 120.9 221 121.5 221.5 120.9 222 121.1 222.5 121.6 223 122.4 223.5 121.6 224 122.3 224.5 122.9 225 123 225.5 123.2 226 122.3 226.5 122.4 227 122.5 227.5 123.4 228 123.1 228.5 123.2 229 123.6 229.5 124.1 230 124.2 230.5 124.2 231 123.8 231.5 123.9 232 124.5 232.5 124.5 233 124.1 233.5 123.8 234 124 234.5 123.7 235 124 235.5 124.7 236 124.8 236.5 124.4 237 124.1 237.5 123.8 238 123.8 238.5 123.7 239 123.9 239.5 124.6 240 124.4 240.5 125.1 241 123.9 241.5 124.4 242 125.2 242.5 124 243 124.3 243.5 123.9 244 125.2 244.5 124.7 245 125.2 245.5 124 246 125.2 246.5 124.4 247 124.4 247.5 124.6 248 124.8 248.5 124.8 249 124.3 249.5 124.6 250 125 250.5 124.4 251 124.5 251.5 124.9 252 124.5 252.5 125.3 253 124.9 253.5 124.3 254 124.3 254.5 124.4 255 124 255.5 124.9 256 124.1 256.5 124.3 257 124.3 257.5 124.9 258 125.2 258.5 124.1 259 125.1 259.5 124.2 260 125 260.5 124.6 261 124.1 261.5 123.4 262 123.9 262.5 122.7 263 122.3 263.5 122 264 121.7 264.5 120.5 265 118.4 265.5 116.4 266 113.4 266.5 110 267 108.5 267.5 109.9 268 113.4 268.5 116.4 269 118.6 269.5 120.5 270 121.9 270.5 121.9 271 123.4 271.5 123.6 272 123.5 272.5 124.1 273 124.1 273.5 124.8 274 124 274.5 124.1 275 124.8 275.5 124.1 276 124.3 276.5 124.7 277 125.3 277.5 125.7 278 124.4 278.5 124.4 279 124.9 279.5 125 L279.5 129.1 279 129.4 278.5 129.5 278 128.9 277.5 129.5 277 129.2 276.5 129 276 128.3 275.5 129.2 275 128.7 274.5 128.4 274 128.7 273.5 128.4 273 127.8 272.5 127.9 272 127.8 271.5 127 271 126.9 270.5 125.5 270 124.2 269.5 123.2 269 120.9 268.5 118.4 268 114.4 267.5 110.6 267 109 266.5 110.6 266 114.3 265.5 118.5 265 121 264.5 122.7 264 124.7 263.5 125.8 263 125.8 262.5 127.1 262 127.4 261.5 128 261 128.1 260.5 127.5 260 127.7 259.5 128.3 259 128.2 258.5 127.9 258 128.4 257.5 128.2 257 128.3 256.5 129 256 128.5 255.5 128.6 255 128.1 254.5 129.2 254 128.9 253.5 129.3 253 129.1 252.5 128.7 252 128.9 251.5 128.8 251 128.7 250.5 128.7 250 129.3 249.5 128.7 249 128.6 248.5 128.8 248 128.9 247.5 128 247 129.3 246.5 128.2 246 128.1 245.5 128.4 245 128.7 244.5 129.2 244 129 243.5 127.7 243 129.1 242.5 128.9 242 128 241.5 128.4 241 128.4 240.5 128.1 240 128.3 239.5 128.5 239 128.8 238.5 127.9 238 128.8 237.5 127.6 237 127.4 236.5 128.5 236 128.5 235.5 127.6 235 128.3 234.5 127.7 234 127.5 233.5 127.9 233 127 232.5 128.1 232 127.8 231.5 127.3 231 127.9 230.5 127.6 230 126.6 229.5 126.9 229 127.1 228.5 126.6 228 127.2 227.5 127 227 126.7 226.5 125.8 226 125.8 225.5 126.1 225 126.1 224.5 126.3 224 125.9 223.5 125.2 223 124.9 222.5 124.9 222 124.6 221.5 124 221 124.4 220.5 123.2 220 123.2 219.5 122.8 219 121.7 218.5 121.4 218 119.1 217.5 115.6 217 107.3 216.5 101.3 216 110.4 215.5 115.9 215 117.7 214.5 118.7 214 118.2 213.5 118.2 213 118 212.5 117.7 212 117.1 211.5 116.6 211 115.3 210.5 113.6 210 111.4 209.5 108.6 209 106 208.5 105.4 208 107.3 207.5 110.4 207 113.5 206.5 115.7 206 117.3 205.5 118.3 205 119.2 204.5 119.9 204 119.9 203.5 120.3 203 120.4 202.5 120.6 202 120.7 201.5 120.6 201 121 200.5 120.2 200 120 199.5 119.8 199 119.3 198.5 119.3 198 119.2 197.5 119.1 197 119.8 196.5 119.9 196 120.7 195.5 121.2 195 122.6 194.5 123 194 123.1 193.5 124.5 193 124 192.5 125.3 192 124.9 191.5 125.7 191 125.3 190.5 126.5 190 125.5 189.5 126.1 189 127.1 188.5 127.2 188 127 187.5 126.7 187 126.3 186.5 127.2 186 126.6 185.5 127.3 185 127.5 184.5 127.3 184 127.7 183.5 127.9 183 128 182.5 127.2 182 128.3 181.5 128.1 181 127.7 180.5 128.1 180 127.2 179.5 127.4 179 128.4 178.5 128 178 128.1 177.5 128 177 128.4 176.5 128.8 176 128.5 175.5 127.7 175 127.8 174.5 127.7 174 127.9 173.5 128.2 173 128 172.5 128.6 172 128 171.5 128 171 127.9 170.5 128.8 170 127.8 169.5 127.6 169 128.2 168.5 128.4 168 128.4 167.5 128.1 167 127.7 166.5 128.1 166 128 165.5 128.4 165 128.5 164.5 127.2 164 128.4 163.5 127.6 163 128.2 162.5 127.1 162 127.2 161.5 127.6 161 127 160.5 127.7 160 127.5 159.5 126.9 159 126.2 158.5 127.1 158 126.7 157.5 126.6 157 125.8 156.5 125.2 156 124.1 155.5 123.2 155 122.7 154.5 121.8 154 119.3 153.5 117.4 153 114.5 152.5 111.3 152 109.4 151.5 109.6 151 111.9 150.5 115.1 150 117.8 149.5 120 149 121.3 148.5 123.1 148 123.8 147.5 124.5 147 125.1 146.5 125.6 146 125.7 145.5 126.9 145 126.6 144.5 127 144 126.7 143.5 127.4 143 127.1 142.5 127.6 142 127.1 141.5 127.8 141 127.5 140.5 127.9 140 127.8 139.5 127.8 139 127.8 138.5 127.7 138 128.1 137.5 128.8 137 128.7 136.5 128.2 136 128.6 135.5 129.1 135 129.1 134.5 128.9 134 128.3 133.5 128.7 133 128 132.5 128.8 132 128.9 131.5 128.5 131 128.3 130.5 128.3 130 129.2 129.5 128 129 128.4 128.5 128.8 128 128.2 127.5 128.3 127 128.6 126.5 128.3 126 128.4 125.5 128.7 125 128.8 124.5 128.8 124 128.2 123.5 128.3 123 128.7 122.5 128.5 122 127.9 121.5 128.4 121 128.3 120.5 129.1 120 128.1 119.5 128.6 119 128.8 118.5 128.7 118 129.3 117.5 128.8 117 129.4 116.5 129 116 128.4 115.5 128.4 115 128.3 114.5 128.3 114 128.2 113.5 128.9 113 128.5 112.5 128.8 112 129 111.5 129.1 111 128.9 110.5 128.8 110 128.6 109.5 128 109 128.8 108.5 128 108 127.9 107.5 128.6 107 127.9 106.5 128.6 106 127.8 105.5 128.9 105 127.5 104.5 128 104 127.8 103.5 127.6 103 127.9 102.5 126.7 102 125.5 101.5 124.8 101 121.2 100.5 113 100 103.5 99.5 112.1 99 119.4 98.5 121.1 98 121.4 97.5 118.8 97 115.7 96.5 112.2 96 112 95.5 115.5 95 119.4 94.5 122.5 94 124.3 93.5 125.8 93 126.4 92.5 127.3 92 126.8 91.5 127.3 91 127.7 90.5 127.7 90 128.4 89.5 128 89 127.6 88.5 128.1 88 127.9 87.5 128.2 87 127.8 86.5 128 86 129 85.5 127.9 85 128.8 84.5 128.4 84 128.3 83.5 129.2 83 127.9 82.5 129.2 82 129.1 81.5 127.9 81 128.2 80.5 128.2 80 128.3 79.5 129.3 79 129.4 78.5 128.6 78 128.1 77.5 129.3 77 129.4 76.5 128.2 76 128.4 75.5 128.7 75 128.4 74.5 128.1 74 128.3 73.5 128.9 73 129.2 72.5 128.9 72 128.9 71.5 129.3 71 129 70.5 128.3 70 128.8 69.5 128.8 69 128.4 68.5 128.3 68 128.6 67.5 128.6 67 128.8 66.5 128.5 66 129.1 65.5 128.5 65 128.8 64.5 128.7 64 129.3 63.5 128.5 63 128.8 62.5 129.1 62 128.7 61.5 128.1 61 128.9 60.5 128.5 60 127.9 59.5 129.2 59 128.4 58.5 128.1 58 128 57.5 128.3 57 128.6 56.5 128.9 56 129 55.5 128.4 55 128.3 54.5 127.8 54 128.3 53.5 129 53 128.2 52.5 127.9 52 127.8 51.5 127.9 51 127.9 50.5 127.8 50 128.6 49.5 127.2 49 127.1 48.5 126.7 48 127.7 47.5 127.2 47 126.4 46.5 125.9 46 125.4 45.5 123.5 45 122.2 44.5 119.5 44 116.9 43.5 113.3 43 111.1 42.5 112 42 115.2 41.5 118.5 41 121.6 40.5 123.7 40 124.5 39.5 125.8 39 126.9 38.5 126.8ZM325.5 125.8 326 124.6 326.5 125.4 327 125.5 327.5 124.6 328 124.3 328.5 123.5 329 122.2 329.5 119.7 330 118 330.5 118 331 120.3 331.5 122.1 332 123.1 332.5 124.6 333 124 333.5 124.8 334 125.7 334.5 125.6 335 124.6 335.5 125.1 336 126.1 336.5 126 337 124.7 337.5 125.9 338 125.5 338.5 125.3 339 126.2 339.5 125.5 340 125.3 340.5 126 341 125.2 341.5 124.7 342 124.7 342.5 124.9 343 123.9 343.5 122.6 344 117.8 344.5 98.7 345 91.5 345.5 115.8 346 122.1 346.5 123.1 347 124.1 347.5 124.2 348 125.3 348.5 125.1 349 125.2 349.5 124.8 350 125.2 350.5 125.6 351 126.1 351.5 125.2 352 125 352.5 125.5 353 125.7 353.5 126.5 354 125 354.5 125.2 355 125.5 355.5 125.7 356 125.4 356.5 125.2 357 126 357.5 126.3 358 126 358.5 126.4 359 125.9 359.5 125.4 360 126 360.5 125.9 361 126.3 361.5 125.1 362 126.3 362.5 125.2 363 126.2 363.5 125.2 364 126.4 364.5 125.7 365 125.7 365.5 126.4 366 125.7 366.5 125.8 367 125.3 367.5 126.5 368 125.9 368.5 126.6 369 125.4 369.5 126.6 370 125.3 370.5 125.5 371 125.2 371.5 125.8 372 126.5 372.5 125.5 373 126.6 373.5 126.5 374 126.2 374.5 125.9 375 126.5 375.5 125.9 376 126.4 376.5 126.3 377 125.3 L377 130.4 376.5 129.6 376 130 375.5 130 375 129.3 374.5 129.7 374 129.5 373.5 129.4 373 130.1 372.5 130.3 372 130.6 371.5 130.5 371 130 370.5 130.3 370 129.9 369.5 129.4 369 129.7 368.5 129.9 368 129.7 367.5 130.6 367 129.2 366.5 129.4 366 129.4 365.5 130.4 365 129.6 364.5 129.5 364 129.2 363.5 130.3 363 129.1 362.5 129.6 362 129.5 361.5 130 361 130.5 360.5 129.7 360 129.4 359.5 129.9 359 129.4 358.5 129.5 358 130.4 357.5 130.1 357 130 356.5 129.9 356 130.2 355.5 129.6 355 129.9 354.5 129.3 354 130.4 353.5 129.3 353 129.9 352.5 130.4 352 129.4 351.5 130.2 351 130.1 350.5 129.9 350 129.4 349.5 130 349 129 348.5 128.5 348 129.2 347.5 128.7 347 128.4 346.5 127.6 346 124.9 345.5 117.5 345 92 344.5 99.3 344 119.5 343.5 125.4 343 126.9 342.5 128.8 342 128.9 341.5 129 341 128.9 340.5 129.7 340 129.5 339.5 129 339 129.6 338.5 129.3 338 130 337.5 129.6 337 130.1 336.5 129.1 336 129.5 335.5 129.7 335 128.7 334.5 128.5 334 128.9 333.5 129.1 333 127.7 332.5 128.5 332 127.5 331.5 125.6 331 123.4 330.5 120.4 330 120 329.5 122.7 329 125.6 328.5 127.2 328 128.3 327.5 127.7 327 128.4 326.5 128.5 326 129.2 325.5 129.4Z" fill="#e01010" stroke="none"/><path d="M38.5 124.9 L39 124.4 L39.5 123.9 L40 123 L40.5 121.8 L41 120.1 L41.5 117.7 L42 114.6 L42.5 111.7 L43 110.8 L43.5 112.7 L44 115.9 L44.5 118.8 L45 120.9 L45.5 122.4 L46 123.4 L46.5 124.1 L47 124.6 L47.5 125 L48 125.3 L48.5 125.6 L49 125.7 L49.5 125.9 L50 126 L50.5 126.1 L51 126.2 L51.5 126.2 L52 126.3 L52.5 126.3 L53 126.4 L53.5 126.4 L54 126.4 L54.5 126.5 L55 126.5 L55.5 126.5 L56 126.5 L56.5 126.6 L57 126.6 L57.5 126.6 L58 126.6 L58.5 126.6 L59 126.6 L59.5 126.6 L60 126.6 L60.5 126.6 L61 126.6 L61.5 126.7 L62 126.7 L62.5 126.7 L63 126.7 L63.5 126.7 L64 126.7 L64.5 126.7 L65 126.7 L65.5 126.7 L66 126.7 L66.5 126.7 L67 126.7 L67.5 126.7 L68 126.7 L68.5 126.7 L69 126.7 L69.5 126.7 L70 126.7 L70.5 126.7 L71 126.7 L71.5 126.7 L72 126.7 L72.5 126.7 L73 126.7 L73.5 126.7 L74 126.7 L74.5 126.7 L75 126.7 L75.5 126.7 L76 126.7 L76.5 126.7 L77 126.7 L77.5 126.7 L78 126.7 L78.5 126.7 L79 126.7 L79.5 126.7 L80 126.7 L80.5 126.7 L81 126.7 L81.5 126.7 L82 126.7 L82.5 126.6 L83 126.6 L83.5 126.6 L84 126.6 L84.5 126.6 L85 126.6 L85.5 126.6 L86 126.5 L86.5 126.5 L87 126.5 L87.5 126.4 L88 126.4 L88.5 126.3 L89 126.3 L89.5 126.2 L90 126.1 L90.5 126 L91 125.8 L91.5 125.6 L92 125.4 L92.5 125 L93 124.5 L93.5 123.8 L94 122.7 L94.5 121 L95 118.4 L95.5 114.8 L96 111.7 L96.5 111.9 L97 115.1 L97.5 118.1 L98 119.9 L98.5 120.2 L99 118.3 L99.5 111.8 L100 103.2 L100.5 112.6 L101 120 L101.5 122.9 L102 124.3 L102.5 125 L103 125.4 L103.5 125.7 L104 125.9 L104.5 126.1 L105 126.2 L105.5 126.3 L106 126.3 L106.5 126.4 L107 126.4 L107.5 126.5 L108 126.5 L108.5 126.5 L109 126.6 L109.5 126.6 L110 126.6 L110.5 126.6 L111 126.6 L111.5 126.6 L112 126.6 L112.5 126.7 L113 126.7 L113.5 126.7 L114 126.7 L114.5 126.7 L115 126.7 L115.5 126.7 L116 126.7 L116.5 126.7 L117 126.7 L117.5 126.7 L118 126.7 L118.5 126.7 L119 126.7 L119.5 126.7 L120 126.7 L120.5 126.7 L121 126.7 L121.5 126.7 L122 126.7 L122.5 126.7 L123 126.7 L123.5 126.7 L124 126.7 L124.5 126.7 L125 126.7 L125.5 126.7 L126 126.7 L126.5 126.7 L127 126.6 L127.5 126.6 L128 126.6 L128.5 126.6 L129 126.6 L129.5 126.6 L130 126.6 L130.5 126.6 L131 126.6 L131.5 126.6 L132 126.5 L132.5 126.5 L133 126.5 L133.5 126.5 L134 126.5 L134.5 126.5 L135 126.4 L135.5 126.4 L136 126.4 L136.5 126.4 L137 126.3 L137.5 126.3 L138 126.3 L138.5 126.2 L139 126.2 L139.5 126.1 L140 126.1 L140.5 126 L141 125.9 L141.5 125.9 L142 125.8 L142.5 125.7 L143 125.6 L143.5 125.4 L144 125.3 L144.5 125.1 L145 124.9 L145.5 124.7 L146 124.4 L146.5 124 L147 123.6 L147.5 123.1 L148 122.5 L148.5 121.6 L149 120.5 L149.5 119 L150 117 L150.5 114.4 L151 111.5 L151.5 109.2 L152 109 L152.5 110.9 L153 113.8 L153.5 116.5 L154 118.6 L154.5 120.2 L155 121.4 L155.5 122.3 L156 122.9 L156.5 123.5 L157 123.9 L157.5 124.2 L158 124.5 L158.5 124.8 L159 125 L159.5 125.1 L160 125.3 L160.5 125.4 L161 125.5 L161.5 125.6 L162 125.7 L162.5 125.8 L163 125.8 L163.5 125.9 L164 125.9 L164.5 126 L165 126 L165.5 126 L166 126.1 L166.5 126.1 L167 126.1 L167.5 126.1 L168 126.2 L168.5 126.2 L169 126.2 L169.5 126.2 L170 126.2 L170.5 126.2 L171 126.2 L171.5 126.2 L172 126.2 L172.5 126.2 L173 126.2 L173.5 126.2 L174 126.2 L174.5 126.2 L175 126.2 L175.5 126.1 L176 126.1 L176.5 126.1 L177 126.1 L177.5 126.1 L178 126.1 L178.5 126 L179 126 L179.5 126 L180 126 L180.5 125.9 L181 125.9 L181.5 125.9 L182 125.8 L182.5 125.8 L183 125.7 L183.5 125.7 L184 125.6 L184.5 125.6 L185 125.5 L185.5 125.5 L186 125.4 L186.5 125.3 L187 125.2 L187.5 125.1 L188 125 L188.5 124.9 L189 124.8 L189.5 124.6 L190 124.5 L190.5 124.3 L191 124.1 L191.5 123.9 L192 123.6 L192.5 123.3 L193 122.9 L193.5 122.5 L194 122.1 L194.5 121.5 L195 120.9 L195.5 120.3 L196 119.6 L196.5 118.9 L197 118.4 L197.5 118 L198 117.9 L198.5 118 L199 118.2 L199.5 118.5 L200 118.9 L200.5 119.2 L201 119.4 L201.5 119.6 L202 119.6 L202.5 119.6 L203 119.5 L203.5 119.3 L204 119 L204.5 118.6 L205 118 L205.5 117.3 L206 116.3 L206.5 114.9 L207 112.9 L207.5 110.2 L208 107.1 L208.5 105 L209 105.8 L209.5 108.4 L210 111.2 L210.5 113.2 L211 114.6 L211.5 115.6 L212 116.3 L212.5 116.8 L213 117.2 L213.5 117.5 L214 117.6 L214.5 117.5 L215 116.9 L215.5 115.1 L216 110.1 L216.5 100.9 L217 106.9 L217.5 114.9 L218 118.2 L218.5 119.8 L219 120.7 L219.5 121.4 L220 121.8 L220.5 122.2 L221 122.5 L221.5 122.8 L222 123.1 L222.5 123.3 L223 123.5 L223.5 123.7 L224 123.9 L224.5 124.1 L225 124.2 L225.5 124.4 L226 124.5 L226.5 124.7 L227 124.8 L227.5 124.9 L228 125 L228.5 125.1 L229 125.2 L229.5 125.3 L230 125.4 L230.5 125.4 L231 125.5 L231.5 125.6 L232 125.7 L232.5 125.7 L233 125.8 L233.5 125.8 L234 125.9 L234.5 125.9 L235 126 L235.5 126 L236 126.1 L236.5 126.1 L237 126.2 L237.5 126.2 L238 126.2 L238.5 126.3 L239 126.3 L239.5 126.3 L240 126.4 L240.5 126.4 L241 126.4 L241.5 126.4 L242 126.5 L242.5 126.5 L243 126.5 L243.5 126.5 L244 126.5 L244.5 126.6 L245 126.6 L245.5 126.6 L246 126.6 L246.5 126.6 L247 126.6 L247.5 126.7 L248 126.7 L248.5 126.7 L249 126.7 L249.5 126.7 L250 126.7 L250.5 126.7 L251 126.7 L251.5 126.7 L252 126.7 L252.5 126.7 L253 126.7 L253.5 126.7 L254 126.7 L254.5 126.7 L255 126.7 L255.5 126.7 L256 126.6 L256.5 126.6 L257 126.6 L257.5 126.5 L258 126.5 L258.5 126.4 L259 126.4 L259.5 126.3 L260 126.2 L260.5 126.1 L261 125.9 L261.5 125.7 L262 125.4 L262.5 125.1 L263 124.6 L263.5 124 L264 123.1 L264.5 121.8 L265 120 L265.5 117.3 L266 113.9 L266.5 110.4 L267 108.7 L267.5 110.4 L268 113.9 L268.5 117.4 L269 120 L269.5 121.9 L270 123.2 L270.5 124.1 L271 124.7 L271.5 125.2 L272 125.6 L272.5 125.8 L273 126.1 L273.5 126.2 L274 126.4 L274.5 126.5 L275 126.6 L275.5 126.7 L276 126.8 L276.5 126.8 L277 126.9 L277.5 126.9 L278 127 L278.5 127 L279 127 L279.5 127.1M325.5 127.2 L326 127.1 L326.5 126.9 L327 126.7 L327.5 126.4 L328 125.9 L328.5 125 L329 123.6 L329.5 121.3 L330 119 L330.5 119.3 L331 121.8 L331.5 123.9 L332 125.2 L332.5 126 L333 126.5 L333.5 126.8 L334 127 L334.5 127.1 L335 127.2 L335.5 127.3 L336 127.3 L336.5 127.4 L337 127.4 L337.5 127.4 L338 127.4 L338.5 127.4 L339 127.4 L339.5 127.4 L340 127.3 L340.5 127.3 L341 127.2 L341.5 127 L342 126.8 L342.5 126.4 L343 125.6 L343.5 123.8 L344 118.7 L344.5 98.9 L345 91.7 L345.5 116.7 L346 123.3 L346.5 125.4 L347 126.3 L347.5 126.8 L348 127.1 L348.5 127.3 L349 127.4 L349.5 127.5 L350 127.5 L350.5 127.6 L351 127.6 L351.5 127.6 L352 127.7 L352.5 127.7 L353 127.7 L353.5 127.7 L354 127.7 L354.5 127.7 L355 127.8 L355.5 127.8 L356 127.8 L356.5 127.8 L357 127.8 L357.5 127.8 L358 127.8 L358.5 127.8 L359 127.8 L359.5 127.8 L360 127.8 L360.5 127.8 L361 127.8 L361.5 127.8 L362 127.8 L362.5 127.9 L363 127.9 L363.5 127.9 L364 127.9 L364.5 127.9 L365 127.9 L365.5 127.9 L366 127.9 L366.5 127.9 L367 127.9 L367.5 127.9 L368 127.9 L368.5 127.9 L369 127.9 L369.5 127.9 L370 127.9 L370.5 127.9 L371 127.9 L371.5 127.9 L372 127.9 L372.5 127.9 L373 127.9 L373.5 127.9 L374 127.9 L374.5 127.9 L375 127.9 L375.5 127.9 L376 127.9 L376.5 127.9 L377 127.9M39 124.4v3.4M40 123v4.1M42 114.6v1.2M43 110.8v0.5M45 120.9v-2.7M47 124.6v-3.7M51 126.2v3.5M54 126.4v-3.7M58 126.6v4.1M58.5 126.6v3.4M59 126.6v-3.7M61.5 126.7v3.8M62 126.7v3.9M63 126.7v4.2M64 126.7v-3.8M65.5 126.7v3.6M66 126.7v3.5M68 126.7v4M70 126.7v-3.6M70.5 126.7v3.7M71 126.7v4M72 126.7v4.1M76 126.7v3.5M77 126.7v3.1M79 126.7v3.9M81.5 126.7v-3.6M82 126.7v-4M84 126.6v-3.1M84.5 126.6v5M90 126.1v3.6M92 125.4v2.9M93.5 123.8v2.6M95.5 114.8v1.5M96 111.7v0.6M97.5 118.1v-1.8M99 118.3v1.9M101 120v2.4M101.5 122.9v3.1M104.5 126.1v2.9M105.5 126.3v3M106.5 126.4v-3.3M108 126.5v2.9M109.5 126.6v3.8M110 126.6v3.3M110.5 126.6v-3.2M113 126.7v4.7M114 126.7v3.9M115.5 126.7v3.1M118.5 126.7v-4.2M119.5 126.7v-3.5M123 126.7v3M125 126.7v-3.4M129.5 126.6v-3.4M132 126.5v3.8M132.5 126.5v4M135 126.4v3.1M136 126.4v3.1M136.5 126.4v4.1M138.5 126.2v3.8M139.5 126.1v3.8M140 126.1v3.9M140.5 126v3.2M141 125.9v4.6M142 125.8v-3.9M143.5 125.4v3.8M144.5 125.1v-2.7M147.5 123.1v3.4M148 122.5v-2.8M148.5 121.6v2.7M149 120.5v2.1M149.5 119v2M154 118.6v2M158 124.5v3M160.5 125.4v3.8M161.5 125.6v3M162 125.7v-2.9M165.5 126v3.9M168.5 126.2v3M169.5 126.2v3M172 126.2v3.7M176.5 126.1v-3.5M177.5 126.1v-3.6M178.5 126v3.3M179 126v3.2M181 125.9v-3.3M182 125.8v-4M183.5 125.7v3M187.5 125.1v-2.9M190 124.5v3.2M191 124.1v3.4M192 123.6v2.9M192.5 123.3v2.4M193.5 122.5v-2.9M196.5 118.9v1.9M198 117.9v1.9M198.5 118v2.5M199 118.2v1.8M199.5 118.5v1.8M201 119.4v-2M202 119.6v2.3M202.5 119.6v2.8M203 119.5v-2.4M206.5 114.9v-1.3M207.5 110.2v0.8M209 105.8v0.5M211 114.6v1.2M212 116.3v1.2M218 118.2v2.2M219.5 121.4v2.5M226 124.5v2.7M227.5 124.9v2.7M230 125.4v3.6M230.5 125.4v3M231.5 125.6v3.5M234.5 125.9v-3.2M236.5 126.1v-3.7M239 126.3v2.9M240 126.4v3M245.5 126.6v3.2M248 126.7v4.9M248.5 126.7v-3.4M249 126.7v-2.9M250 126.7v4.8M250.5 126.7v4.5M252.5 126.7v3.7M255 126.7v-3.2M256.5 126.6v-3.4M257 126.6v-3.2M258 126.5v3.2M260 126.2v3.8M263 124.6v3.3M265 120v-2.3M265.5 117.3v1.5M266 113.9v1M267.5 110.4v0.8M268 113.9v1.1M268.5 117.4v1.4M271.5 125.2v3.6M272.5 125.8v3.5M276.5 126.8v3.4M277.5 126.9v-4M279.5 127.1v4M326.5 126.9v4.1M327 126.7v4.8M328.5 125v2.9M330 119v2.5M330.5 119.3v1.6M331 121.8v2.7M332.5 126v-2.9M334 127v3.6M335 127.2v3.6M336 127.3v3.7M340 127.3v3.7M340.5 127.3v-4.1M341.5 127v2.9M342 126.8v2.9M343.5 123.8v3.9M344 118.7v1.5M344.5 98.9v0.8M347 126.3v3.8M348 127.1v4.8M349.5 127.5v3.3M354 127.7v3.3M355 127.8v3.3M357 127.8v3.5M358 127.8v-3.4M358.5 127.8v3.7M359.5 127.8v4.2M361 127.8v3.6M361.5 127.8v3.4M362 127.8v5.2M363.5 127.9v-3.2M365 127.9v3.6M366.5 127.9v5.1M369 127.9v4.7M370 127.9v4.1M370.5 127.9v-3.9M372.5 127.9v-3.5M373.5 127.9v3.4M374 127.9v-3.1M280 127.6L280.3 128.4M280 127.6v1.6M280.5 127.3L280.7 126M281 126.8L281.5 125.5M281.5 127.6L281.9 126.8M281.5 127.6v-1.6M282.5 126.9L282.7 124.9M283 127L283.2 125M284 127.4L284.3 126.1M284.5 126.7L284.8 125.4M284.5 126.7v-2.6M285 127L285.5 125M285.5 126.9L286 126.9M285.5 126.9v0M286 127.8L286.4 125.8M286.5 127.1L286.9 126.3M286.5 127.1v-1.6M287 126.7L287.4 125.4M287.5 127.6L287.9 127.6M287.5 127.6v0M288 126.9L288.4 124.9M288 126.9v-4M288.5 127.6L288.7 126.3M288.5 127.6v-2.6M289 126.8L289.3 126.8M289 126.8v0M289.5 127.8L289.9 127.8M290 127.5L290.2 126.2M290 127.5v-2.6M290.5 127.1L290.7 126.3M290.5 127.1v-1.6M291 126.8L291.5 124.8M291.5 126.8L291.8 126.8M291.5 126.8v0M292 127.2L292.3 126.4M292 127.2v-1.6M292.5 127L292.7 126.2M293 127L293.5 127M294 127.2L294.2 125.9M294.5 127.5L294.9 128.3M295 127.6L295.2 127.6M295 127.6v0M295.5 127.5L295.9 128.3M296 127.1L296.2 126.3M296 127.1v-1.6M296.5 127.4L296.9 126.6M297 128L297.4 127.2M298 127.4L298.2 127.4M298 127.4v0M298.5 127.9L298.7 125.9M299 127.7L299.2 126.4M299 127.7v-2.6M299.5 127.5L299.7 127.5M300 127.2L300.2 125.9M300.5 127.4L300.8 128.2M301 127L301.2 125M301 127v-4M301.5 127.7L301.8 126.4M301.5 127.7v-2.6M302 127.5L302.2 127.5M302.5 127.6L302.9 125.6M303 127.9L303.3 127.9M303 127.9v0M303.5 127.6L303.7 126.8M304 127L304.3 126.2M304.5 127.3L304.8 128.1M305 127.6L305.4 128.4M305.5 127.9L306 126.6M306 127.6L306.5 128.4M306 127.6v1.6M306.5 127L306.8 127.8M306.5 127v1.6M307 127.9L307.4 128.7M307.5 127.6L307.7 126.3M309 127.1L309.2 127.1M309 127.1v0M310 127.8L310.3 127M310 127.8v-1.6M310.5 127.4L310.8 128.2M310.5 127.4v1.6M311 127.4L311.5 126.6M311 127.4v-1.6M312 127.2L312.3 127.2M313 127.3L313.4 128.1M313.5 127.1L313.8 126.3M314 127L314.3 125M314 127v-4M314.5 128.1L314.8 126.1M314.5 128.1v-4M315 127.2L315.4 125.9M315 127.2v-2.6M315.5 128.1L315.7 127.3M316 127.6L316.3 127.6M316 127.6v0M316.5 127.2L316.7 125.9M317 128.1L317.2 127.3M317 128.1v-1.6M318 127.7L318.3 126.4M318 127.7v-2.6M318.5 127.1L318.8 126.3M318.5 127.1v-1.6M319.5 127.3L319.8 128.1M320 128.1L320.5 126.1M320.5 127L320.8 127M321 127.8L321.5 125.8M321 127.8v-4M322 127.2L322.3 128M322 127.2v1.6M322.5 127.5L322.9 126.2M323.5 127.4L324 126.6M323.5 127.4v-1.6M324 127.4L324.2 128.2M324 127.4v1.6M324.5 126.9L324.9 124.9" fill="none" stroke="#e01010" stroke-width="0.9" stroke-linejoin="round"/><path d="M38.5 104.4 39 104 39.5 103.9 40 103.5 40.5 102.8 41 101 41.5 99.1 42 97 42.5 94.9 43 93.9 43.5 95.3 44 97.9 44.5 99.9 45 101 45.5 102.3 46 103.2 46.5 104.3 47 104.7 47.5 104.7 48 105.9 48.5 105.3 49 105.9 49.5 105.2 50 106.4 50.5 105.6 51 105.4 51.5 106.4 52 105.5 52.5 105.6 53 106.9 53.5 105.9 54 107 54.5 106.2 55 106.4 55.5 106.7 56 106.6 56.5 105.9 57 106.6 57.5 106.9 58 106.1 58.5 106.5 59 105.9 59.5 106.8 60 106.7 60.5 106 61 106.4 61.5 106.4 62 106.8 62.5 107.2 63 105.8 63.5 107.1 64 105.9 64.5 106.7 65 105.8 65.5 106.6 66 105.8 66.5 106.4 67 106.9 67.5 106.1 68 106.2 68.5 106.2 69 106.6 69.5 106.9 70 106.3 70.5 107.1 71 106.2 71.5 106.3 72 106.7 72.5 106.1 73 107 73.5 106.7 74 106.1 74.5 106.7 75 106.2 75.5 106.3 76 105.8 76.5 105.8 77 106.2 77.5 106 78 107 78.5 106.2 79 106 79.5 106.7 80 106.4 80.5 106.5 81 105.8 81.5 106.8 82 106.6 82.5 107.2 83 106.6 83.5 106.2 84 105.8 84.5 105.8 85 106.7 85.5 105.6 86 106.8 86.5 105.8 87 106.8 87.5 106.4 88 106.8 88.5 105.6 89 105.6 89.5 106.5 90 105.9 90.5 106.1 91 105.6 91.5 105.3 92 105.7 92.5 104.3 93 104.5 93.5 103.5 94 102.9 94.5 101.1 95 98.4 95.5 95 96 92 96.5 92.2 97 95.1 97.5 97.8 98 99.2 98.5 99.3 99 97.9 99.5 92 100 85.5 100.5 93 101 99.3 101.5 102.5 102 103.7 102.5 104.5 103 105.9 103.5 106.2 104 106.2 104.5 106.3 105 106.5 105.5 106.8 106 106.6 106.5 106.1 107 105.8 107.5 106.6 108 106.6 108.5 106.6 109 106.2 109.5 106.1 110 105.9 110.5 106.7 111 106.2 111.5 106.8 112 106.1 112.5 107 113 106 113.5 106.6 114 106.3 114.5 106.6 115 106.9 115.5 106.7 116 107.3 116.5 107.3 117 106.6 117.5 106.7 118 106.2 118.5 107.4 119 106.6 119.5 106.7 120 106.5 120.5 106.3 121 106.6 121.5 106.6 122 106.7 122.5 106.5 123 107.1 123.5 106.6 124 106.4 124.5 107.1 125 105.9 125.5 106.3 126 106 126.5 107 127 106.8 127.5 107 128 107.3 128.5 107.4 129 107 129.5 106.1 130 107.1 130.5 106.3 131 107 131.5 107.3 132 107.1 132.5 106.3 133 106.6 133.5 106.5 134 106.6 134.5 106.9 135 106.5 135.5 105.9 136 106.9 136.5 106.1 137 106.8 137.5 106.8 138 106.6 138.5 106.9 139 105.6 139.5 106.4 140 106.6 140.5 106.8 141 106.7 141.5 106.4 142 106 142.5 105.7 143 105 143.5 105 144 105.8 144.5 105.1 145 104.5 145.5 105.4 146 104.1 146.5 104.4 147 103.5 147.5 103.6 148 102.6 148.5 102 149 101.3 149.5 99.4 150 97.7 150.5 95.9 151 93.7 151.5 91.8 152 91.8 152.5 93.2 153 95.5 153.5 97.6 154 99.4 154.5 101.1 155 102 155.5 102.9 156 103.8 156.5 103.7 157 104.2 157.5 105.1 158 105.2 158.5 104.5 159 105.7 159.5 105.6 160 104.9 160.5 106.2 161 105.9 161.5 105.4 162 106.6 162.5 106.6 163 105.5 163.5 105.9 164 106.5 164.5 106.2 165 106.6 165.5 105.7 166 105.7 166.5 107 167 106.3 167.5 106.8 168 106.5 168.5 106.1 169 106.1 169.5 106.9 170 106.7 170.5 106.6 171 106.6 171.5 106.2 172 106.1 172.5 106.7 173 106.6 173.5 107.1 174 106.7 174.5 105.8 175 106.5 175.5 106.4 176 106.3 176.5 106.4 177 106 177.5 106.8 178 106.7 178.5 105.9 179 106.4 179.5 105.7 180 106.9 180.5 106 181 106.4 181.5 106.4 182 105.8 182.5 106.8 183 106.2 183.5 106.6 184 106.4 184.5 105.7 185 106.3 185.5 105.7 186 106.8 186.5 105.3 187 105.4 187.5 105.7 188 106.3 188.5 105.6 189 106.2 189.5 105.9 190 106.3 190.5 106.2 191 106 191.5 105.9 192 105 192.5 105.7 193 104.8 193.5 105.8 194 105.7 194.5 105.5 195 104.3 195.5 104.3 196 105.2 196.5 103.9 197 104.7 197.5 104.5 198 103.9 198.5 104.2 199 103.1 199.5 103.5 200 103.1 200.5 102.8 201 102.8 201.5 102 202 101.4 202.5 101.4 203 101.4 203.5 100.3 204 99.8 204.5 99.1 205 98.1 205.5 97 206 95.2 206.5 92.7 207 89.3 207.5 85.1 208 82.2 208.5 82.3 209 85.1 209.5 88.8 210 91.8 210.5 93.8 211 95 211.5 95.9 212 96.6 212.5 97.3 213 97.6 213.5 97.8 214 98.3 214.5 97.8 215 97.4 215.5 95.5 216 88.9 216.5 72.9 217 83.8 217.5 95 218 98.9 218.5 100.5 219 101.6 219.5 102 220 102.2 220.5 103.1 221 103.2 221.5 103.5 222 103.9 222.5 103.4 223 103.4 223.5 103.6 224 104.4 224.5 105 225 104.8 225.5 104.7 226 105.1 226.5 104.7 227 104.8 227.5 104.7 228 105.4 228.5 105.8 229 105 229.5 105.1 230 106.2 230.5 106.2 231 105.7 231.5 105.5 232 105.4 232.5 106.7 233 106.6 233.5 106.3 234 106.2 234.5 105.9 235 106.3 235.5 106.4 236 106.8 236.5 106.3 237 106.4 237.5 105.9 238 107 238.5 107.2 239 106.9 239.5 106.9 240 106.8 240.5 107.2 241 106.5 241.5 106.3 242 107.5 242.5 106.3 243 107.5 243.5 107.2 244 106.9 244.5 107 245 107.4 245.5 106.6 246 106.5 246.5 107.4 247 107.5 247.5 107 248 107.6 248.5 106.4 249 106.6 249.5 106.6 250 107.2 250.5 106.7 251 107.3 251.5 107.2 252 107.7 252.5 107.8 253 106.9 253.5 107.6 254 106.4 254.5 107 255 107 255.5 106.5 256 107.4 256.5 107.8 257 107.5 257.5 107.1 258 107.5 258.5 107.3 259 106.6 259.5 107.1 260 107.1 260.5 107.1 261 106.6 261.5 105.8 262 106.8 262.5 105.7 263 105.5 263.5 105.4 264 105.1 264.5 104.5 265 104.1 265.5 102.3 266 100.3 266.5 98.6 267 96.9 267.5 96.1 268 96.7 268.5 99.1 269 101.1 269.5 102 270 103.5 270.5 104.2 271 105.2 271.5 106.3 272 106 272.5 106.1 273 107.1 273.5 106.7 274 106.2 274.5 107.6 275 107.7 275.5 107.7 276 106.9 276.5 106.7 277 107.8 277.5 106.8 278 107.8 278.5 107.4 279 107.1 279.5 108 280 107.5 280.5 107 281 107.8 281.5 107.1 282 107.6 282.5 106.9 283 107.8 283.5 107.1 284 108.3 284.5 107.9 285 108.2 285.5 107.8 286 107.8 286.5 108.1 287 107.8 287.5 107.4 288 107.6 288.5 108.1 289 107.4 289.5 107.4 L289.5 112.2 289 111.2 288.5 111.5 288 111.6 287.5 111.2 287 111.5 286.5 112.3 286 111.2 285.5 111.7 285 111 284.5 112 284 111.8 283.5 112.3 283 110.8 282.5 111.7 282 110.8 281.5 110.8 281 110.8 280.5 111.4 280 111.2 279.5 110.7 279 111.3 278.5 111.3 278 111.4 277.5 111.9 277 110.7 276.5 111.7 276 110.8 275.5 110.8 275 111 274.5 110.8 274 110.5 273.5 110.8 273 110.9 272.5 109.5 272 109.7 271.5 109 271 109 270.5 108.1 270 107 269.5 105.1 269 102.7 268.5 100.7 268 98 267.5 97.3 267 98.1 266.5 100.2 266 103.4 265.5 105.3 265 106.1 264.5 107.6 264 108 263.5 109 263 109.2 262.5 110.3 262 110 261.5 109.9 261 110.6 260.5 110.8 260 111.1 259.5 110.1 259 110.4 258.5 110.9 258 110.5 257.5 110.5 257 110.6 256.5 111 256 111.6 255.5 110.8 255 110.5 254.5 110.5 254 111.3 253.5 111.7 253 110.8 252.5 110.5 252 110.9 251.5 111.5 251 110.9 250.5 111.2 250 110.5 249.5 110.6 249 111.5 248.5 111.6 248 111.4 247.5 110.9 247 111.4 246.5 111.3 246 111.5 245.5 110.2 245 111.4 244.5 111.4 244 110.4 243.5 111.1 243 110.9 242.5 111.1 242 110 241.5 110 241 111.3 240.5 109.9 240 110.6 239.5 110.9 239 110.9 238.5 110.3 238 109.8 237.5 109.8 237 109.7 236.5 109.8 236 109.5 235.5 109.8 235 109.5 234.5 109.3 234 109.9 233.5 110.4 233 109.2 232.5 110.1 232 110.3 231.5 109 231 109.1 230.5 108.9 230 109.8 229.5 109.3 229 108.6 228.5 108.7 228 109.3 227.5 108.9 227 108.8 226.5 108 226 108.5 225.5 108.2 225 107.6 224.5 108.1 224 108 223.5 107 223 107.3 222.5 106.7 222 106.1 221.5 105.9 221 105.5 220.5 105.9 220 104.8 219.5 104.6 219 103.3 218.5 102.9 218 100.6 217.5 96.1 217 84.4 216.5 73.5 216 89.6 215.5 96.4 215 98.8 214.5 99.4 214 99.5 213.5 99.8 213 99.3 212.5 98.6 212 98.1 211.5 97.3 211 96 210.5 94.5 210 92.3 209.5 89.3 209 85.8 208.5 82.9 208 82.8 207.5 85.8 207 89.7 206.5 93.2 206 96 205.5 98.5 205 100 204.5 101.1 204 102.1 203.5 102.5 203 103.3 202.5 103.8 202 104.1 201.5 104.7 201 104.9 200.5 105.8 200 105.6 199.5 106.8 199 106.9 198.5 107.4 198 106.8 197.5 106.9 197 108 196.5 108 196 108.2 195.5 108.2 195 108.5 194.5 108 194 108.6 193.5 109 193 109.3 192.5 109.2 192 109.5 191.5 108.7 191 108.9 190.5 109.6 190 108.9 189.5 108.7 189 109.7 188.5 109.4 188 109.3 187.5 110.1 187 110.4 186.5 109.3 186 109.5 185.5 109.2 185 110.5 184.5 110.6 184 110 183.5 109.4 183 110.6 182.5 110 182 109.4 181.5 110.1 181 110.2 180.5 110.9 180 110.5 179.5 110.3 179 109.8 178.5 109.5 178 110.7 177.5 111 177 110.4 176.5 110.4 176 109.8 175.5 109.9 175 110.4 174.5 109.9 174 110.2 173.5 110.8 173 111 172.5 110.8 172 111.1 171.5 109.7 171 109.7 170.5 110 170 110.3 169.5 111 169 109.7 168.5 110.9 168 110.4 167.5 110.6 167 110 166.5 109.7 166 110.4 165.5 110.4 165 110.4 164.5 110.1 164 109.9 163.5 109.6 163 110.4 162.5 109.5 162 109.7 161.5 110 161 110.1 160.5 109.1 160 108.8 159.5 109.4 159 109.2 158.5 108.6 158 108.3 157.5 108 157 107.8 156.5 106.6 156 106 155.5 105.9 155 104.5 154.5 102.8 154 101.2 153.5 99.4 153 96.3 152.5 93.9 152 92.4 151.5 92.7 151 94.3 150.5 97.2 150 99.9 149.5 102.1 149 103.8 148.5 105.1 148 105.4 147.5 106.8 147 107 146.5 107.8 146 108.1 145.5 108.7 145 108.6 144.5 108.8 144 108.8 143.5 108.5 143 109.6 142.5 109 142 109.9 141.5 110.4 141 110.5 140.5 109.5 140 110.2 139.5 110.5 139 110.1 138.5 110.1 138 110.4 137.5 109.6 137 110.1 136.5 110.2 136 109.7 135.5 111 135 110.6 134.5 109.9 134 109.9 133.5 110.6 133 110.7 132.5 111.1 132 110.4 131.5 110.6 131 110 130.5 111 130 110.3 129.5 110.5 129 110.1 128.5 110.6 128 110.5 127.5 111.2 127 110.2 126.5 110.9 126 110.3 125.5 111 125 110.9 124.5 110.2 124 110.4 123.5 110.7 123 110 122.5 110.5 122 111 121.5 110 121 110.1 120.5 111.3 120 111.2 119.5 111.2 119 110.7 118.5 110.7 118 110.3 117.5 110.3 117 110.9 116.5 110.2 116 110.5 115.5 110 115 109.9 114.5 110.8 114 110 113.5 110.1 113 110.8 112.5 110 112 110.9 111.5 111.2 111 110.7 110.5 111.1 110 110.4 109.5 110 109 110.7 108.5 110.3 108 110.5 107.5 109.9 107 110.1 106.5 110.8 106 110.7 105.5 110.7 105 109.2 104.5 110.4 104 108.9 103.5 108.9 103 109.5 102.5 108.6 102 107.3 101.5 105.4 101 101.4 100.5 93.6 100 86.2 99.5 92.8 99 99.3 98.5 102.2 98 101.2 97.5 99.4 97 96.2 96.5 92.9 96 92.7 95.5 96.1 95 99.9 94.5 103 94 105.4 93.5 106.2 93 108 92.5 108.7 92 108.3 91.5 109.7 91 109.6 90.5 108.9 90 110.1 89.5 110 89 110.5 88.5 110.1 88 110.4 87.5 110 87 110.1 86.5 109.9 86 110.4 85.5 110 85 109.7 84.5 111 84 109.8 83.5 110.7 83 110.2 82.5 111.1 82 111.1 81.5 110.9 81 110.7 80.5 110.9 80 111.2 79.5 111 79 110 78.5 110.7 78 110.3 77.5 109.8 77 110.9 76.5 110.9 76 109.8 75.5 110.8 75 110.5 74.5 110.9 74 110.4 73.5 110.4 73 110.1 72.5 109.9 72 110.5 71.5 109.8 71 110.3 70.5 110.4 70 111.2 69.5 111 69 110.9 68.5 111.2 68 111 67.5 110.9 67 110.4 66.5 110.3 66 110.5 65.5 109.8 65 110.7 64.5 109.9 64 110.3 63.5 111 63 110.5 62.5 110.4 62 110.7 61.5 110.3 61 110.9 60.5 109.7 60 109.8 59.5 109.7 59 110.4 58.5 110.4 58 110.1 57.5 111 57 110 56.5 110.2 56 110.9 55.5 110.4 55 110 54.5 109.5 54 109.4 53.5 110.3 53 109.6 52.5 109.7 52 110.1 51.5 110.1 51 110.2 50.5 110.5 50 109.1 49.5 109 49 109.5 48.5 109.2 48 109.1 47.5 109 47 107.9 46.5 107.4 46 107.4 45.5 105.5 45 104.3 44.5 102.2 44 99.7 43.5 96.8 43 94.8 42.5 95.9 42 98.1 41.5 101.5 41 103.8 40.5 104.7 40 105.9 39.5 106.9 39 108 38.5 108.9ZM322.5 107.5 323 108.1 323.5 107.1 324 107.5 324.5 106.8 325 106.8 325.5 107.7 326 107.2 326.5 106 327 106.6 327.5 105.5 328 103.3 328.5 101.8 329 100.7 329.5 100.4 330 102.1 330.5 103.9 331 105.5 331.5 105.7 332 106.3 332.5 107.3 333 106.6 333.5 107.3 334 107.3 334.5 107.3 335 108.1 335.5 107.3 336 107.9 336.5 107.8 337 108.4 337.5 108.2 338 107.9 338.5 107.5 339 107.9 339.5 107.8 340 107.4 340.5 107.9 341 108.4 341.5 107.5 342 106.8 342.5 107.7 343 106.5 343.5 104.9 344 101.1 344.5 84.4 345 77.9 345.5 99.7 346 105.1 346.5 106.5 347 107.5 347.5 107.4 348 107 348.5 108.2 349 107.2 349.5 108.2 350 107.5 350.5 108 351 107.7 351.5 107.6 352 107.6 352.5 108.7 353 107.6 353.5 108.8 354 107.8 354.5 108.9 355 108.5 355.5 108.8 356 108 356.5 108.5 357 108.1 357.5 108.7 358 108.4 358.5 107.7 359 108.1 359.5 108.3 360 107.9 360.5 107.5 361 108.6 361.5 108.9 362 108.7 362.5 108.8 363 108.5 363.5 107.9 364 107.9 364.5 108.9 365 108.9 365.5 108.6 366 107.8 366.5 108.4 367 108.3 367.5 108.7 368 108.3 368.5 108.2 369 108.6 369.5 108.2 370 108 370.5 108.6 371 108.4 371.5 109 372 108.8 372.5 109.1 373 109.1 373.5 109 374 107.8 374.5 108 375 108.3 375.5 108 376 108.9 376.5 108.6 377 108.3 L377 112.8 376.5 111.9 376 111.8 375.5 112.5 375 111.8 374.5 112.3 374 112.5 373.5 112.3 373 112.9 372.5 112.2 372 112 371.5 112.8 371 112.3 370.5 112.7 370 112.3 369.5 112.1 369 111.9 368.5 111.8 368 112.9 367.5 112.3 367 112.2 366.5 111.8 366 112.6 365.5 112.8 365 112.1 364.5 111.6 364 112.8 363.5 112.2 363 112.9 362.5 112.4 362 112.2 361.5 112.4 361 112.4 360.5 112.3 360 112.5 359.5 112.9 359 111.7 358.5 112.3 358 112.5 357.5 112 357 112.7 356.5 112.5 356 112.4 355.5 112 355 112.2 354.5 112.1 354 112.6 353.5 111.7 353 111.7 352.5 112.1 352 112.3 351.5 111.8 351 112.3 350.5 112.8 350 112.4 349.5 111.8 349 112.5 348.5 111 348 112 347.5 111.8 347 110.7 346.5 110 346 107.9 345.5 101.3 345 78.5 344.5 85 344 103.7 343.5 108.8 343 110.5 342.5 110.3 342 110.7 341.5 112.2 341 111.7 340.5 111.9 340 111.8 339.5 111.1 339 111.3 338.5 111.9 338 111.9 337.5 111.7 337 112 336.5 111.7 336 111.2 335.5 112.1 335 111.2 334.5 110.8 334 111.3 333.5 111.3 333 110.8 332.5 111.1 332 110.6 331.5 109.8 331 107.8 330.5 106.7 330 104.3 329.5 102.2 329 102.2 328.5 104.6 328 106.3 327.5 108.9 327 109.6 326.5 110.3 326 110.8 325.5 110.5 325 111.2 324.5 111.2 324 111.8 323.5 111 323 111.4 322.5 112.1Z" fill="#f28e1c" stroke="none"/><path d="M38.5 106.6 L39 106.2 L39.5 105.7 L40 104.9 L40.5 103.8 L41 102.2 L41.5 100.1 L42 97.5 L42.5 95.2 L43 94.5 L43.5 96 L44 98.6 L44.5 101.1 L45 102.9 L45.5 104.3 L46 105.2 L46.5 105.9 L47 106.4 L47.5 106.8 L48 107.1 L48.5 107.3 L49 107.5 L49.5 107.6 L50 107.7 L50.5 107.8 L51 107.9 L51.5 108 L52 108 L52.5 108.1 L53 108.1 L53.5 108.2 L54 108.2 L54.5 108.2 L55 108.3 L55.5 108.3 L56 108.3 L56.5 108.3 L57 108.3 L57.5 108.3 L58 108.4 L58.5 108.4 L59 108.4 L59.5 108.4 L60 108.4 L60.5 108.4 L61 108.4 L61.5 108.4 L62 108.4 L62.5 108.5 L63 108.5 L63.5 108.5 L64 108.5 L64.5 108.5 L65 108.5 L65.5 108.5 L66 108.5 L66.5 108.5 L67 108.5 L67.5 108.5 L68 108.5 L68.5 108.5 L69 108.5 L69.5 108.5 L70 108.5 L70.5 108.5 L71 108.5 L71.5 108.5 L72 108.5 L72.5 108.5 L73 108.5 L73.5 108.5 L74 108.5 L74.5 108.5 L75 108.5 L75.5 108.5 L76 108.5 L76.5 108.5 L77 108.5 L77.5 108.5 L78 108.5 L78.5 108.5 L79 108.5 L79.5 108.5 L80 108.5 L80.5 108.5 L81 108.5 L81.5 108.5 L82 108.5 L82.5 108.5 L83 108.5 L83.5 108.4 L84 108.4 L84.5 108.4 L85 108.4 L85.5 108.4 L86 108.3 L86.5 108.3 L87 108.3 L87.5 108.2 L88 108.2 L88.5 108.1 L89 108 L89.5 107.9 L90 107.8 L90.5 107.7 L91 107.5 L91.5 107.3 L92 107 L92.5 106.5 L93 105.9 L93.5 105.1 L94 103.8 L94.5 101.9 L95 99.1 L95.5 95.4 L96 92.4 L96.5 92.6 L97 95.6 L97.5 98.6 L98 100.4 L98.5 100.7 L99 98.6 L99.5 92.4 L100 85.8 L100.5 93.3 L101 100.6 L101.5 103.9 L102 105.6 L102.5 106.5 L103 107 L103.5 107.4 L104 107.6 L104.5 107.8 L105 108 L105.5 108.1 L106 108.2 L106.5 108.2 L107 108.3 L107.5 108.3 L108 108.4 L108.5 108.4 L109 108.4 L109.5 108.5 L110 108.5 L110.5 108.5 L111 108.5 L111.5 108.6 L112 108.6 L112.5 108.6 L113 108.6 L113.5 108.6 L114 108.6 L114.5 108.6 L115 108.6 L115.5 108.6 L116 108.6 L116.5 108.7 L117 108.7 L117.5 108.7 L118 108.7 L118.5 108.7 L119 108.7 L119.5 108.7 L120 108.7 L120.5 108.7 L121 108.7 L121.5 108.7 L122 108.7 L122.5 108.7 L123 108.7 L123.5 108.7 L124 108.7 L124.5 108.7 L125 108.7 L125.5 108.7 L126 108.7 L126.5 108.7 L127 108.7 L127.5 108.6 L128 108.6 L128.5 108.6 L129 108.6 L129.5 108.6 L130 108.6 L130.5 108.6 L131 108.6 L131.5 108.6 L132 108.6 L132.5 108.6 L133 108.5 L133.5 108.5 L134 108.5 L134.5 108.5 L135 108.5 L135.5 108.4 L136 108.4 L136.5 108.4 L137 108.4 L137.5 108.3 L138 108.3 L138.5 108.2 L139 108.2 L139.5 108.1 L140 108.1 L140.5 108 L141 107.9 L141.5 107.9 L142 107.8 L142.5 107.7 L143 107.5 L143.5 107.4 L144 107.2 L144.5 107.1 L145 106.8 L145.5 106.6 L146 106.3 L146.5 105.9 L147 105.5 L147.5 104.9 L148 104.2 L148.5 103.4 L149 102.2 L149.5 100.7 L150 98.8 L150.5 96.5 L151 94 L151.5 92.3 L152 92.1 L152.5 93.6 L153 96 L153.5 98.4 L154 100.4 L154.5 101.9 L155 103.1 L155.5 104.1 L156 104.8 L156.5 105.4 L157 105.8 L157.5 106.2 L158 106.5 L158.5 106.8 L159 107 L159.5 107.2 L160 107.3 L160.5 107.5 L161 107.6 L161.5 107.7 L162 107.8 L162.5 107.9 L163 107.9 L163.5 108 L164 108.1 L164.5 108.1 L165 108.2 L165.5 108.2 L166 108.2 L166.5 108.3 L167 108.3 L167.5 108.3 L168 108.3 L168.5 108.3 L169 108.4 L169.5 108.4 L170 108.4 L170.5 108.4 L171 108.4 L171.5 108.4 L172 108.4 L172.5 108.4 L173 108.4 L173.5 108.4 L174 108.4 L174.5 108.4 L175 108.4 L175.5 108.4 L176 108.4 L176.5 108.4 L177 108.4 L177.5 108.4 L178 108.3 L178.5 108.3 L179 108.3 L179.5 108.3 L180 108.3 L180.5 108.3 L181 108.2 L181.5 108.2 L182 108.2 L182.5 108.2 L183 108.1 L183.5 108.1 L184 108.1 L184.5 108.1 L185 108 L185.5 108 L186 107.9 L186.5 107.9 L187 107.9 L187.5 107.8 L188 107.8 L188.5 107.7 L189 107.6 L189.5 107.6 L190 107.5 L190.5 107.4 L191 107.4 L191.5 107.3 L192 107.2 L192.5 107.1 L193 107 L193.5 106.9 L194 106.8 L194.5 106.7 L195 106.6 L195.5 106.4 L196 106.3 L196.5 106.1 L197 106 L197.5 105.8 L198 105.6 L198.5 105.4 L199 105.1 L199.5 104.9 L200 104.6 L200.5 104.3 L201 104 L201.5 103.7 L202 103.2 L202.5 102.8 L203 102.3 L203.5 101.7 L204 101 L204.5 100.1 L205 99 L205.5 97.6 L206 95.6 L206.5 93 L207 89.5 L207.5 85.4 L208 82.4 L208.5 82.5 L209 85.5 L209.5 89.1 L210 92 L210.5 94.1 L211 95.6 L211.5 96.6 L212 97.4 L212.5 98 L213 98.4 L213.5 98.7 L214 98.9 L214.5 98.7 L215 98.1 L215.5 96 L216 89.3 L216.5 73.1 L217 84 L217.5 95.6 L218 99.6 L218.5 101.4 L219 102.4 L219.5 103.1 L220 103.6 L220.5 104 L221 104.4 L221.5 104.7 L222 105 L222.5 105.3 L223 105.5 L223.5 105.7 L224 105.9 L224.5 106.1 L225 106.3 L225.5 106.4 L226 106.6 L226.5 106.7 L227 106.9 L227.5 107 L228 107.1 L228.5 107.2 L229 107.3 L229.5 107.4 L230 107.5 L230.5 107.6 L231 107.7 L231.5 107.8 L232 107.8 L232.5 107.9 L233 108 L233.5 108 L234 108.1 L234.5 108.2 L235 108.2 L235.5 108.3 L236 108.3 L236.5 108.4 L237 108.4 L237.5 108.4 L238 108.5 L238.5 108.5 L239 108.6 L239.5 108.6 L240 108.6 L240.5 108.7 L241 108.7 L241.5 108.7 L242 108.7 L242.5 108.8 L243 108.8 L243.5 108.8 L244 108.8 L244.5 108.9 L245 108.9 L245.5 108.9 L246 108.9 L246.5 108.9 L247 109 L247.5 109 L248 109 L248.5 109 L249 109 L249.5 109 L250 109 L250.5 109 L251 109.1 L251.5 109.1 L252 109.1 L252.5 109.1 L253 109.1 L253.5 109.1 L254 109.1 L254.5 109.1 L255 109.1 L255.5 109 L256 109 L256.5 109 L257 109 L257.5 109 L258 108.9 L258.5 108.9 L259 108.9 L259.5 108.8 L260 108.7 L260.5 108.6 L261 108.5 L261.5 108.4 L262 108.2 L262.5 108 L263 107.7 L263.5 107.3 L264 106.8 L264.5 106.1 L265 105.1 L265.5 103.7 L266 101.9 L266.5 99.6 L267 97.5 L267.5 96.6 L268 97.5 L268.5 99.7 L269 101.9 L269.5 103.8 L270 105.2 L270.5 106.2 L271 106.9 L271.5 107.4 L272 107.8 L272.5 108.2 L273 108.4 L273.5 108.6 L274 108.7 L274.5 108.9 L275 109 L275.5 109.1 L276 109.1 L276.5 109.2 L277 109.3 L277.5 109.3 L278 109.3 L278.5 109.4 L279 109.4 L279.5 109.4 L280 109.5 L280.5 109.5 L281 109.5 L281.5 109.5 L282 109.6 L282.5 109.6 L283 109.6 L283.5 109.6 L284 109.6 L284.5 109.6 L285 109.7 L285.5 109.7 L286 109.7 L286.5 109.7 L287 109.7 L287.5 109.7 L288 109.7 L288.5 109.7 L289 109.7 L289.5 109.7M322.5 109.7 L323 109.7 L323.5 109.6 L324 109.5 L324.5 109.4 L325 109.2 L325.5 109 L326 108.7 L326.5 108.3 L327 107.7 L327.5 106.7 L328 105.3 L328.5 103.3 L329 101.5 L329.5 101.3 L330 102.9 L330.5 104.9 L331 106.5 L331.5 107.5 L332 108.2 L332.5 108.7 L333 109 L333.5 109.2 L334 109.4 L334.5 109.5 L335 109.6 L335.5 109.7 L336 109.7 L336.5 109.8 L337 109.8 L337.5 109.8 L338 109.8 L338.5 109.8 L339 109.8 L339.5 109.8 L340 109.8 L340.5 109.7 L341 109.7 L341.5 109.5 L342 109.3 L342.5 109 L343 108.3 L343.5 106.7 L344 102.2 L344.5 84.6 L345 78.2 L345.5 100.3 L346 106.2 L346.5 108.1 L347 108.9 L347.5 109.4 L348 109.6 L348.5 109.8 L349 109.9 L349.5 110 L350 110 L350.5 110.1 L351 110.1 L351.5 110.1 L352 110.1 L352.5 110.2 L353 110.2 L353.5 110.2 L354 110.2 L354.5 110.2 L355 110.2 L355.5 110.2 L356 110.3 L356.5 110.3 L357 110.3 L357.5 110.3 L358 110.3 L358.5 110.3 L359 110.3 L359.5 110.3 L360 110.3 L360.5 110.3 L361 110.3 L361.5 110.3 L362 110.3 L362.5 110.3 L363 110.3 L363.5 110.3 L364 110.3 L364.5 110.3 L365 110.4 L365.5 110.4 L366 110.4 L366.5 110.4 L367 110.4 L367.5 110.4 L368 110.4 L368.5 110.4 L369 110.4 L369.5 110.4 L370 110.4 L370.5 110.4 L371 110.4 L371.5 110.4 L372 110.4 L372.5 110.4 L373 110.4 L373.5 110.4 L374 110.4 L374.5 110.4 L375 110.4 L375.5 110.4 L376 110.4 L376.5 110.4 L377 110.4M39.5 105.7v3.5M40.5 103.8v2.2M42 97.5v1.3M48.5 107.3v-3.4M49.5 107.6v2.9M51.5 108v3.8M53 108.1v3.3M61.5 108.4v3.5M62 108.4v3.2M66 108.5v4.2M66.5 108.5v4.3M72 108.5v3.9M73 108.5v3M74 108.5v3.7M74.5 108.5v4.3M77.5 108.5v-4.1M78 108.5v3.6M78.5 108.5v3.2M79.5 108.5v4.2M80 108.5v3.3M83.5 108.4v-3.4M89 108v3.7M92.5 106.5v-2.9M93 105.9v-3.1M94 103.8v2.5M99.5 92.4v0.6M100 85.8v0.5M103.5 107.4v3.6M106 108.2v3M106.5 108.2v3.9M107 108.3v4.2M107.5 108.3v3.9M111.5 108.6v3.2M112 108.6v4.4M113 108.6v4.1M113.5 108.6v3.5M117 108.7v-3.7M118.5 108.7v5.1M121.5 108.7v-3M122.5 108.7v3.8M124 108.7v-3.4M124.5 108.7v3.7M127.5 108.6v4.8M129.5 108.6v3.3M130 108.6v4.2M131.5 108.6v3.4M134 108.5v3.4M138 108.3v3.5M138.5 108.2v2.8M142.5 107.7v-3.7M143 107.5v2.8M144 107.2v3.5M146.5 105.9v3.3M147.5 104.9v3.1M149 102.2v1.9M149.5 100.7v1.6M152 92.1v0.6M155 103.1v2.7M161.5 107.7v3.3M163 107.9v2.9M163.5 108v3.2M164 108.1v-3.8M165.5 108.2v3.4M166 108.2v3.6M168 108.3v2.9M169 108.4v3M170.5 108.4v3.3M172.5 108.4v3.3M173 108.4v3M173.5 108.4v3.4M174 108.4v3.7M175.5 108.4v-2.9M176.5 108.4v-4M179 108.3v4.6M183 108.1v4M184 108.1v-3.1M186.5 107.9v3.9M187 107.9v3.1M190.5 107.4v3.3M191 107.4v3.6M195 106.6v-3.1M195.5 106.4v2.6M198 105.6v-2.5M200.5 104.3v3.4M202 103.2v2.2M205.5 97.6v-1.2M208 82.4v0.5M210 92v0.6M212 97.4v1.7M213 98.4v1.4M213.5 98.7v-1.3M215 98.1v1.2M217.5 95.6v0.8M219.5 103.1v2.5M222 105v2.7M222.5 105.3v2.3M224.5 106.1v-2.6M227 106.9v3.1M227.5 107v3.6M228 107.1v3.3M230.5 107.6v3.4M232 107.8v3.6M233 108v3.4M234.5 108.2v3.6M235 108.2v3.4M236.5 108.4v4M240 108.6v4.7M242 108.7v4.7M243.5 108.8v-3.6M245 108.9v3.4M247.5 109v2.9M248.5 109v3.5M250 109v-3.7M253 109.1v-3.3M254 109.1v-4.1M256 109v3.9M257 109v4.1M257.5 109v4M258 108.9v2.8M259 108.9v3.8M260 108.7v4.8M264.5 106.1v3.2M268 97.5v1M270 105.2v3.1M271.5 107.4v4.2M272 107.8v4.2M273.5 108.6v-3.9M274 108.7v3.6M274.5 108.9v3.6M276 109.1v3.4M276.5 109.2v2.9M281.5 109.5v-3.8M282 109.6v3.2M282.5 109.6v4.1M283 109.6v-3.7M284 109.6v3.3M284.5 109.6v-3.4M285 109.7v4.1M286.5 109.7v3.1M288 109.7v4.2M289.5 109.7v4M323 109.7v3.3M325 109.2v-3.2M328 105.3v2.7M330 102.9v-1.9M332.5 108.7v-3.2M334 109.4v3.9M334.5 109.5v3M335 109.6v3.7M344 102.2v1.9M345.5 100.3v1.5M346 106.2v2.9M346.5 108.1v4.7M350 110v3.1M350.5 110.1v-4.1M351 110.1v4.8M353 110.2v-3.3M356 110.3v3M356.5 110.3v3M357 110.3v-3.2M358 110.3v3.9M359 110.3v4.1M361 110.3v3.3M362.5 110.3v4.8M364 110.3v4.6M366 110.4v3.8M367 110.4v-3.1M371 110.4v3.2M371.5 110.4v3.9M372 110.4v3.9M376 110.4v-4M290 109.7L290.2 107.7M290.5 109.2L290.7 110M290.5 109.2v1.6M291 110L291.4 108M291 110v-4M291.5 109.2L291.7 110M292 110.2L292.2 108.2M292 110.2v-4M293.5 110.1L293.9 108.8M294 109.3L294.4 108.5M294.5 109.8L294.9 107.8M294.5 109.8v-4M296.5 110.3L296.9 109M297 109.7L297.5 110.5M297 109.7v1.6M297.5 110.1L297.9 108.8M298 109.6L298.3 109.6M298.5 109.6L298.7 108.8M299 110.2L299.5 108.9M299.5 109.8L299.7 109.8M299.5 109.8v0M300 110.4L300.2 109.6M300.5 109.3L300.9 107.3M301 109.5L301.4 107.5M301 109.5v-4M301.5 109.4L301.9 108.6M301.5 109.4v-1.6M302 109.7L302.3 107.7M302 109.7v-4M302.5 110.1L303 109.3M303 109.7L303.4 108.9M303.5 109.4L303.8 108.1M304.5 109.4L304.9 110.2M305 110L305.3 108M305 110v-4M305.5 109.8L305.7 108.5M306 110.4L306.5 111.2M306.5 109.7L307 109.7M307 110.5L307.2 111.3M307.5 109.7L307.7 108.4M308 109.9L308.3 110.7M308 109.9v1.6M308.5 109.5L308.7 107.5M308.5 109.5v-4M309 110L309.4 110.8M309 110v1.6M309.5 109.7L309.9 108.9M310 110.3L310.2 110.3M310.5 110.4L310.7 109.6M310.5 110.4v-1.6M311.5 110.3L311.8 110.3M311.5 110.3v0M312 109.6L312.5 108.3M313 109.9L313.4 109.9M313 109.9v0M313.5 109.6L313.8 108.3M314 110L314.2 110M314 110v0M314.5 109.8L314.8 108.5M314.5 109.8v-2.6M315 109.7L315.4 110.5M315.5 110.1L315.8 109.3M315.5 110.1v-1.6M316 109.5L316.5 108.7M316 109.5v-1.6M316.5 110.3L316.8 109.5M317 109.3L317.2 110.1M317.5 109.5L317.8 109.5M318 109.6L318.2 110.4M318.5 109.9L318.7 108.6M319 109.8L319.2 108.5M319.5 110.4L320 110.4M320 110L320.2 110M320 110v0M320.5 109.3L320.8 110.1M321 110.2L321.5 108.9M322 109.9L322.2 107.9" fill="none" stroke="#f28e1c" stroke-width="0.9" stroke-linejoin="round"/><path d="M38.5 85.5 39 85.7 39.5 84.5 40 84.8 40.5 83.1 41 81.8 41.5 79.3 42 77.2 42.5 74.9 43 74.8 43.5 76.4 44 79.1 44.5 81.4 45 82.7 45.5 83.6 46 85.2 46.5 85 47 85.5 47.5 86.9 48 86.5 48.5 86.6 49 86.4 49.5 86.9 50 87.8 50.5 87.4 51 87.5 51.5 87.5 52 86.9 52.5 87.8 53 88.1 53.5 87.6 54 87.5 54.5 87.1 55 87.6 55.5 88.1 56 87.2 56.5 87.8 57 87.6 57.5 87.9 58 88.3 58.5 87.6 59 87.5 59.5 88.4 60 88 60.5 88.1 61 88.4 61.5 88.4 62 87.2 62.5 87.4 63 88.1 63.5 87.6 64 88.7 64.5 87.3 65 87.9 65.5 87.5 66 88.3 66.5 88.2 67 88.2 67.5 87.3 68 88.1 68.5 88 69 87.3 69.5 87.4 70 88.2 70.5 88.3 71 87.6 71.5 88.6 72 88.2 72.5 87.5 73 87.4 73.5 88.5 74 88.7 74.5 87.6 75 87.9 75.5 88.5 76 88 76.5 88.7 77 87.7 77.5 88 78 87.7 78.5 88.7 79 87.8 79.5 88.2 80 88 80.5 88.3 81 87.8 81.5 87.9 82 87.9 82.5 88.7 83 88.4 83.5 88.7 84 88.2 84.5 88 85 88.6 85.5 87.7 86 88 86.5 87.9 87 87.8 87.5 87.2 88 87.7 88.5 88.4 89 88.3 89.5 87.4 90 87.9 90.5 87.2 91 87.5 91.5 87.5 92 86.9 92.5 87.5 93 87 93.5 86.7 94 86 94.5 84.7 95 83.9 95.5 82.5 96 80.6 96.5 78.5 97 76.3 97.5 76.2 98 77.8 98.5 79.9 99 80.7 99.5 80 100 77.6 100.5 70.9 101 67.5 101.5 75.1 102 80.7 102.5 83.7 103 85.7 103.5 85.5 104 86 104.5 86.5 105 87.4 105.5 87.2 106 87.1 106.5 88.3 107 87.3 107.5 88.4 108 87.2 108.5 88.3 109 87.3 109.5 88.4 110 88 110.5 87.5 111 87.3 111.5 87.8 112 87.6 112.5 88.3 113 87.8 113.5 88.3 114 87.5 114.5 87.8 115 88.4 115.5 87.8 116 88.8 116.5 87.6 117 87.9 117.5 88.5 118 88 118.5 87.8 119 88 119.5 87.6 120 88.4 120.5 88.5 121 88.4 121.5 88.6 122 88.3 122.5 87.9 123 87.7 123.5 88 124 87.8 124.5 87.5 125 88 125.5 88.9 126 88.1 126.5 89 127 88 127.5 87.5 128 88.2 128.5 87.6 129 88.9 129.5 87.5 130 88.7 130.5 87.7 131 88.5 131.5 88.3 132 88.7 132.5 88.9 133 87.8 133.5 87.8 134 88.7 134.5 87.9 135 88.5 135.5 87.5 136 88.6 136.5 87.9 137 87.4 137.5 87.9 138 87.7 138.5 87.5 139 87.6 139.5 87.4 140 88.2 140.5 87.2 141 87.7 141.5 87 142 87.3 142.5 87.2 143 86.8 143.5 87.9 144 86.7 144.5 87.4 145 86.5 145.5 87.1 146 86.6 146.5 86.8 147 85.6 147.5 85.9 148 85.3 148.5 84.4 149 84.2 149.5 82.8 150 82.2 150.5 80.5 151 79.1 151.5 77.3 152 75.9 152.5 75.2 153 75.5 153.5 76.7 154 78.4 154.5 80.4 155 81.9 155.5 83.1 156 83.6 156.5 84.8 157 84.8 157.5 85.7 158 85.4 158.5 86.5 159 85.8 159.5 86.8 160 87.4 160.5 87.4 161 86.7 161.5 87.7 162 87.7 162.5 86.7 163 87.6 163.5 87.3 164 87.5 164.5 87.7 165 87.1 165.5 88.4 166 88 166.5 87.9 167 87.6 167.5 87.5 168 88.6 168.5 88.5 169 88.3 169.5 88.2 170 87.6 170.5 87.6 171 87.3 171.5 88.1 172 88.1 172.5 88.5 173 87.4 173.5 87.4 174 87.3 174.5 87.6 175 87.4 175.5 87.9 176 87.5 176.5 88.2 177 87.6 177.5 87.6 178 87.8 178.5 87.4 179 87.6 179.5 88.2 180 88.5 180.5 88.1 181 88.3 181.5 87.2 182 87.7 182.5 87.4 183 87.1 183.5 87.3 184 87.2 184.5 87.6 185 87.3 185.5 86.9 186 87.6 186.5 87.2 187 86.8 187.5 87.8 188 88 188.5 87.4 189 86.7 189.5 87.2 190 87.6 190.5 86.4 191 87.1 191.5 87 192 87.5 192.5 86.9 193 86.1 193.5 86.7 194 86.2 194.5 85.9 195 87 195.5 86 196 86.5 196.5 85.9 197 85.4 197.5 85.8 198 85.2 198.5 85.6 199 85 199.5 84.7 200 84.7 200.5 84.7 201 84 201.5 84.4 202 83.9 202.5 83.1 203 83.1 203.5 83.1 204 82.1 204.5 81.5 205 81.5 205.5 80.3 206 80.1 206.5 78.5 207 77.5 207.5 76.1 208 74.1 208.5 72 209 70.5 209.5 70.2 210 70.9 210.5 72.1 211 72.9 211.5 73.1 212 72.4 212.5 71.6 213 70.5 213.5 70.7 214 71.8 214.5 73.7 215 75.1 215.5 75.5 216 74 216.5 66 217 51.8 217.5 67.5 218 76.9 218.5 80 219 81.3 219.5 82.9 220 82.6 220.5 83.6 221 83.6 221.5 84.8 222 84.8 222.5 84.8 223 85 223.5 84.8 224 85.7 224.5 86 225 85.7 225.5 86.4 226 85.6 226.5 86.6 227 87 227.5 86.4 228 87 228.5 86.2 229 87.3 229.5 86.9 230 86.9 230.5 87.1 231 87.8 231.5 87.2 232 87.8 232.5 88 233 86.9 233.5 87.8 234 88.1 234.5 88.3 235 87.1 235.5 87.2 236 87.4 236.5 87.3 237 88.1 237.5 87.7 238 87.5 238.5 88.2 239 87.6 239.5 87.5 240 87.9 240.5 87.8 241 88.7 241.5 88.2 242 88.3 242.5 88.3 243 87.5 243.5 87.5 244 88.7 244.5 88 245 88.6 245.5 87.9 246 87.5 246.5 88.7 247 88.3 247.5 88.4 248 87.9 248.5 87.7 249 88.8 249.5 88.6 250 88.3 250.5 87.5 251 87.7 251.5 87.9 252 87.4 252.5 88.2 253 87.6 253.5 88.3 254 88.3 254.5 87.3 255 87.4 255.5 87.6 256 88.2 256.5 88 257 87 257.5 87.6 258 88.1 258.5 87.7 259 87.1 259.5 86.6 260 87 260.5 87 261 86.1 261.5 86.4 262 86.1 262.5 85.3 263 84.9 263.5 83.9 264 83.4 264.5 82.2 265 81 265.5 79.4 266 78.1 266.5 77.8 267 77.7 267.5 78.6 268 79.9 268.5 81 269 81.3 269.5 81.5 270 81.9 270.5 81.7 271 81.1 271.5 80 272 79.2 272.5 78.2 273 77.7 273.5 78 274 79.2 274.5 80.6 275 82.3 275.5 82.7 276 84.5 276.5 84.5 277 85.3 277.5 85.6 278 86.3 278.5 86.6 279 87.1 279.5 87.7 280 87.1 280.5 87.3 281 87.9 281.5 87.2 L281.5 91 281 91.2 280.5 90.7 280 91.3 279.5 90 279 89.7 278.5 90.3 278 89.1 277.5 88.7 277 88.8 276.5 88.1 276 86.5 275.5 86 275 84 274.5 82 274 80.7 273.5 79.1 273 78.8 272.5 79.3 272 80.9 271.5 82 271 82.9 270.5 83.9 270 84 269.5 83.9 269 83.4 268.5 82.7 268 81.3 267.5 79.9 267 78.9 266.5 78.6 266 79.5 265.5 80.9 265 83 264.5 84.3 264 85.8 263.5 87.1 263 87.6 262.5 88.8 262 88.9 261.5 88.8 261 89.3 260.5 90.1 260 90.3 259.5 90.9 259 90.1 258.5 90.3 258 91.2 257.5 90.9 257 90.8 256.5 91.1 256 91.7 255.5 90.9 255 92.2 254.5 91.9 254 92.3 253.5 91.7 253 92.1 252.5 92.1 252 92.5 251.5 92.2 251 91.4 250.5 92 250 91.8 249.5 92.4 249 92.1 248.5 92.4 248 91.9 247.5 91.9 247 91.4 246.5 92.1 246 91.9 245.5 91.9 245 91.5 244.5 92.4 244 92.1 243.5 91.4 243 92.3 242.5 92.4 242 91.9 241.5 91.5 241 91.6 240.5 91.7 240 91.9 239.5 91.8 239 91.6 238.5 92.3 238 90.9 237.5 92 237 91.1 236.5 91.9 236 91.4 235.5 92 235 91.7 234.5 90.7 234 91.1 233.5 91.8 233 91.7 232.5 90.6 232 90.4 231.5 91.2 231 90.4 230.5 90 230 90.6 229.5 90.5 229 90.4 228.5 90.8 228 90.3 227.5 89.7 227 89.9 226.5 89.9 226 89.1 225.5 89.6 225 88.6 224.5 89 224 88.2 223.5 88.4 223 88.3 222.5 87.9 222 87.7 221.5 87.4 221 87 220.5 86.2 220 86 219.5 85 219 83.6 218.5 81.8 218 77.9 217.5 68.3 217 52.5 216.5 66.6 216 74.6 215.5 76.1 215 75.6 214.5 74.2 214 72.5 213.5 71.2 213 71.1 212.5 72 212 73 211.5 73.7 211 73.5 210.5 72.5 210 71.6 209.5 70.9 209 71 208.5 72.6 208 74.8 207.5 76.7 207 78.7 206.5 80.1 206 81.4 205.5 82.1 205 83.2 204.5 83.7 204 84.7 203.5 85 203 85.5 202.5 85.9 202 86.3 201.5 86.9 201 86.9 200.5 87.4 200 87.4 199.5 88.4 199 88.3 198.5 88.4 198 88.8 197.5 89 197 89.5 196.5 88.8 196 89.1 195.5 90.1 195 89.6 194.5 89.8 194 89.8 193.5 89.7 193 89.6 192.5 90.7 192 90.2 191.5 91 191 90.9 190.5 90.3 190 90.9 189.5 90.3 189 91.1 188.5 91.5 188 90.4 187.5 90.6 187 91.4 186.5 91.5 186 91.1 185.5 90.7 185 91.2 184.5 91.3 184 91.1 183.5 91.8 183 91.6 182.5 91.6 182 90.8 181.5 91.9 181 91.1 180.5 92.1 180 92.3 179.5 92.2 179 91.3 178.5 92.2 178 92.4 177.5 91.5 177 91 176.5 92.5 176 92.3 175.5 92.3 175 91.7 174.5 92.2 174 92 173.5 91.7 173 92 172.5 91.3 172 91.3 171.5 91.6 171 91.1 170.5 92.5 170 92.4 169.5 92.3 169 91.2 168.5 92 168 91.8 167.5 91.2 167 91.8 166.5 92 166 91.1 165.5 92 165 92.1 164.5 91.7 164 92 163.5 91.2 163 91.1 162.5 90.7 162 90.7 161.5 90.3 161 91.2 160.5 91.2 160 89.9 159.5 90.1 159 89.9 158.5 89.6 158 89.6 157.5 88.1 157 88.4 156.5 87.5 156 86.1 155.5 85 155 83.8 154.5 81.9 154 80.2 153.5 77.8 153 76.3 152.5 75.8 152 76.7 151.5 78.6 151 81 150.5 83.1 150 84.4 149.5 86.3 149 86.6 148.5 87.8 148 88.3 147.5 88.7 147 89.7 146.5 89.4 146 89.9 145.5 90.3 145 90.8 144.5 90.5 144 90.4 143.5 91.2 143 91 142.5 90.9 142 91.7 141.5 91.9 141 91.9 140.5 90.9 140 91.3 139.5 91.1 139 91.2 138.5 91.1 138 92.1 137.5 92 137 92.3 136.5 92.2 136 91.5 135.5 91.9 135 91.3 134.5 92.5 134 91.5 133.5 91.3 133 91.7 132.5 91.7 132 92.3 131.5 92.9 131 92.4 130.5 92.3 130 91.6 129.5 91.8 129 92.2 128.5 92.2 128 91.5 127.5 92.1 127 92 126.5 91.8 126 92.2 125.5 91.6 125 92.3 124.5 92.9 124 92.8 123.5 91.7 123 92 122.5 92.9 122 92.3 121.5 92.4 121 91.9 120.5 92 120 92 119.5 92 119 92.7 118.5 92.1 118 92.6 117.5 91.8 117 91.9 116.5 91.5 116 92.7 115.5 92.1 115 92.9 114.5 91.8 114 92.1 113.5 92.5 113 92.6 112.5 91.9 112 92.5 111.5 92.4 111 92.7 110.5 92.4 110 92.4 109.5 91.7 109 92.1 108.5 92.5 108 91.1 107.5 92.2 107 91.2 106.5 92.2 106 91.3 105.5 90.9 105 91.2 104.5 90.5 104 90.7 103.5 89.2 103 88.5 102.5 86.8 102 83.1 101.5 75.7 101 68.3 100.5 71.6 100 78.9 99.5 82.3 99 82.5 98.5 82 98 79.3 97.5 77 97 77.3 96.5 79.6 96 83.2 95.5 85.9 95 86.8 94.5 88.3 94 89.7 93.5 90.3 93 90.5 92.5 90.2 92 91.5 91.5 91.2 91 91.6 90.5 92.1 90 91.3 89.5 92.3 89 91.1 88.5 92.3 88 91.3 87.5 91.3 87 91.9 86.5 91.9 86 91.5 85.5 92.4 85 91.8 84.5 92.2 84 92.5 83.5 92 83 91.5 82.5 92.8 82 91.9 81.5 91.9 81 92.5 80.5 91.8 80 92.7 79.5 92.5 79 92.3 78.5 92.5 78 92.8 77.5 91.6 77 92.4 76.5 92.4 76 92.2 75.5 91.5 75 91.9 74.5 91.3 74 91.6 73.5 92.1 73 92.7 72.5 92.6 72 92.2 71.5 91.5 71 91.7 70.5 92.6 70 92.1 69.5 91.4 69 92.6 68.5 92.2 68 91.8 67.5 92.7 67 91.9 66.5 92.2 66 91.6 65.5 92.7 65 91.6 64.5 92.5 64 91.4 63.5 92.1 63 91.5 62.5 92.4 62 91.7 61.5 92.1 61 91.3 60.5 91.5 60 92.6 59.5 91.4 59 92.1 58.5 91.9 58 91.6 57.5 91.8 57 91.6 56.5 91.8 56 92.5 55.5 92.4 55 91.3 54.5 91 54 91.8 53.5 92.3 53 90.9 52.5 91.4 52 91.7 51.5 91.4 51 91.4 50.5 91.1 50 91.6 49.5 90.7 49 90.3 48.5 90.2 48 90.7 47.5 90.6 47 89.1 46.5 89.6 46 88.9 45.5 87.5 45 86.2 44.5 83.6 44 81 43.5 77.6 43 75.4 42.5 75.8 42 78.2 41.5 81.5 41 84.4 40.5 85.6 40 87.7 39.5 88.4 39 89.8 38.5 89.5ZM338.5 90.2 339 89.8 339.5 90 340 89.5 340.5 89.3 341 89.5 341.5 88.9 342 89.9 342.5 89.4 343 88.9 343.5 87.9 344 84.3 344.5 72.2 345 67.4 345.5 83 346 87.2 346.5 88.2 347 89.5 347.5 89.4 348 90 348.5 89 349 89.2 349.5 89 350 89 350.5 89.5 351 90.2 351.5 90 L351.5 93.2 351 93 350.5 93.8 350 93 349.5 92.9 349 92.9 348.5 93.1 348 92.6 347.5 92.5 347 92.5 346.5 91.4 346 90.3 345.5 85.2 345 68.1 344.5 72.9 344 87 343.5 90.5 343 91.9 342.5 92.2 342 92.5 341.5 93.7 341 93.8 340.5 92.8 340 93.1 339.5 93.2 339 93.9 338.5 94Z" fill="#7c7c12" stroke="none"/><path d="M38.5 87.9 L39 87.4 L39.5 86.8 L40 85.9 L40.5 84.7 L41 82.9 L41.5 80.5 L42 77.7 L42.5 75.4 L43 75.2 L43.5 77.1 L44 80 L44.5 82.5 L45 84.4 L45.5 85.7 L46 86.7 L46.5 87.4 L47 87.9 L47.5 88.3 L48 88.5 L48.5 88.8 L49 89 L49.5 89.1 L50 89.2 L50.5 89.3 L51 89.4 L51.5 89.5 L52 89.5 L52.5 89.6 L53 89.6 L53.5 89.7 L54 89.7 L54.5 89.7 L55 89.7 L55.5 89.8 L56 89.8 L56.5 89.8 L57 89.8 L57.5 89.9 L58 89.9 L58.5 89.9 L59 89.9 L59.5 89.9 L60 89.9 L60.5 89.9 L61 89.9 L61.5 89.9 L62 90 L62.5 90 L63 90 L63.5 90 L64 90 L64.5 90 L65 90 L65.5 90 L66 90 L66.5 90 L67 90 L67.5 90 L68 90 L68.5 90 L69 90 L69.5 90 L70 90 L70.5 90 L71 90 L71.5 90 L72 90 L72.5 90.1 L73 90.1 L73.5 90.1 L74 90.1 L74.5 90.1 L75 90.1 L75.5 90.1 L76 90.1 L76.5 90.1 L77 90.1 L77.5 90.1 L78 90.1 L78.5 90.1 L79 90.1 L79.5 90 L80 90 L80.5 90 L81 90 L81.5 90 L82 90 L82.5 90 L83 90 L83.5 90 L84 90 L84.5 90 L85 90 L85.5 89.9 L86 89.9 L86.5 89.9 L87 89.9 L87.5 89.8 L88 89.8 L88.5 89.8 L89 89.7 L89.5 89.7 L90 89.6 L90.5 89.5 L91 89.4 L91.5 89.3 L92 89.1 L92.5 88.9 L93 88.6 L93.5 88.2 L94 87.6 L94.5 86.9 L95 85.8 L95.5 84.1 L96 81.8 L96.5 78.9 L97 76.7 L97.5 76.7 L98 78.7 L98.5 80.8 L99 81.8 L99.5 81.2 L100 78.1 L100.5 71.3 L101 67.9 L101.5 75.4 L102 81.9 L102.5 85.1 L103 86.8 L103.5 87.8 L104 88.4 L104.5 88.8 L105 89.1 L105.5 89.3 L106 89.4 L106.5 89.6 L107 89.7 L107.5 89.7 L108 89.8 L108.5 89.9 L109 89.9 L109.5 89.9 L110 90 L110.5 90 L111 90 L111.5 90.1 L112 90.1 L112.5 90.1 L113 90.1 L113.5 90.1 L114 90.1 L114.5 90.2 L115 90.2 L115.5 90.2 L116 90.2 L116.5 90.2 L117 90.2 L117.5 90.2 L118 90.2 L118.5 90.2 L119 90.2 L119.5 90.2 L120 90.2 L120.5 90.2 L121 90.2 L121.5 90.2 L122 90.2 L122.5 90.2 L123 90.2 L123.5 90.2 L124 90.2 L124.5 90.2 L125 90.2 L125.5 90.2 L126 90.2 L126.5 90.2 L127 90.2 L127.5 90.2 L128 90.2 L128.5 90.2 L129 90.2 L129.5 90.2 L130 90.2 L130.5 90.2 L131 90.2 L131.5 90.2 L132 90.1 L132.5 90.1 L133 90.1 L133.5 90.1 L134 90.1 L134.5 90.1 L135 90.1 L135.5 90 L136 90 L136.5 90 L137 90 L137.5 89.9 L138 89.9 L138.5 89.9 L139 89.8 L139.5 89.8 L140 89.7 L140.5 89.7 L141 89.6 L141.5 89.5 L142 89.5 L142.5 89.4 L143 89.3 L143.5 89.2 L144 89 L144.5 88.9 L145 88.7 L145.5 88.5 L146 88.3 L146.5 88 L147 87.7 L147.5 87.3 L148 86.8 L148.5 86.2 L149 85.5 L149.5 84.6 L150 83.4 L150.5 81.9 L151 80.1 L151.5 78.1 L152 76.4 L152.5 75.5 L153 75.9 L153.5 77.4 L154 79.3 L154.5 81.2 L155 82.8 L155.5 84.1 L156 85.1 L156.5 85.9 L157 86.6 L157.5 87.1 L158 87.5 L158.5 87.8 L159 88.1 L159.5 88.4 L160 88.6 L160.5 88.8 L161 88.9 L161.5 89 L162 89.2 L162.5 89.3 L163 89.3 L163.5 89.4 L164 89.5 L164.5 89.5 L165 89.6 L165.5 89.6 L166 89.7 L166.5 89.7 L167 89.7 L167.5 89.8 L168 89.8 L168.5 89.8 L169 89.8 L169.5 89.9 L170 89.9 L170.5 89.9 L171 89.9 L171.5 89.9 L172 89.9 L172.5 89.9 L173 89.9 L173.5 89.9 L174 89.9 L174.5 89.9 L175 89.9 L175.5 89.9 L176 89.9 L176.5 89.9 L177 89.9 L177.5 89.8 L178 89.8 L178.5 89.8 L179 89.8 L179.5 89.8 L180 89.8 L180.5 89.7 L181 89.7 L181.5 89.7 L182 89.7 L182.5 89.6 L183 89.6 L183.5 89.6 L184 89.5 L184.5 89.5 L185 89.5 L185.5 89.4 L186 89.4 L186.5 89.4 L187 89.3 L187.5 89.3 L188 89.2 L188.5 89.1 L189 89.1 L189.5 89 L190 89 L190.5 88.9 L191 88.8 L191.5 88.7 L192 88.6 L192.5 88.6 L193 88.5 L193.5 88.4 L194 88.3 L194.5 88.1 L195 88 L195.5 87.9 L196 87.7 L196.5 87.6 L197 87.4 L197.5 87.3 L198 87.1 L198.5 86.9 L199 86.7 L199.5 86.5 L200 86.2 L200.5 86 L201 85.7 L201.5 85.4 L202 85.1 L202.5 84.7 L203 84.4 L203.5 83.9 L204 83.5 L204.5 82.9 L205 82.3 L205.5 81.5 L206 80.6 L206.5 79.5 L207 78.1 L207.5 76.4 L208 74.4 L208.5 72.3 L209 70.8 L209.5 70.5 L210 71.2 L210.5 72.3 L211 73.1 L211.5 73.3 L212 72.8 L212.5 71.8 L213 70.9 L213.5 70.9 L214 72.1 L214.5 73.9 L215 75.4 L215.5 75.9 L216 74.3 L216.5 66.3 L217 52.2 L217.5 67.9 L218 77.5 L218.5 81 L219 82.7 L219.5 83.7 L220 84.4 L220.5 84.9 L221 85.3 L221.5 85.7 L222 86.1 L222.5 86.3 L223 86.6 L223.5 86.8 L224 87.1 L224.5 87.3 L225 87.5 L225.5 87.6 L226 87.8 L226.5 87.9 L227 88.1 L227.5 88.2 L228 88.3 L228.5 88.4 L229 88.6 L229.5 88.7 L230 88.8 L230.5 88.8 L231 88.9 L231.5 89 L232 89.1 L232.5 89.2 L233 89.2 L233.5 89.3 L234 89.3 L234.5 89.4 L235 89.5 L235.5 89.5 L236 89.6 L236.5 89.6 L237 89.6 L237.5 89.7 L238 89.7 L238.5 89.8 L239 89.8 L239.5 89.8 L240 89.8 L240.5 89.9 L241 89.9 L241.5 89.9 L242 89.9 L242.5 90 L243 90 L243.5 90 L244 90 L244.5 90 L245 90 L245.5 90 L246 90 L246.5 90 L247 90 L247.5 90 L248 90 L248.5 90 L249 90 L249.5 90 L250 90 L250.5 90 L251 90 L251.5 90 L252 89.9 L252.5 89.9 L253 89.9 L253.5 89.8 L254 89.8 L254.5 89.8 L255 89.7 L255.5 89.7 L256 89.6 L256.5 89.5 L257 89.4 L257.5 89.3 L258 89.2 L258.5 89.1 L259 89 L259.5 88.8 L260 88.6 L260.5 88.4 L261 88.1 L261.5 87.8 L262 87.4 L262.5 87 L263 86.4 L263.5 85.6 L264 84.7 L264.5 83.4 L265 82 L265.5 80.3 L266 78.9 L266.5 78.2 L267 78.4 L267.5 79.4 L268 80.6 L268.5 81.6 L269 82.3 L269.5 82.7 L270 82.8 L270.5 82.5 L271 82 L271.5 81.1 L272 80 L272.5 78.9 L273 78.3 L273.5 78.6 L274 79.8 L274.5 81.5 L275 83.1 L275.5 84.4 L276 85.5 L276.5 86.3 L277 87 L277.5 87.5 L278 87.9 L278.5 88.3 L279 88.6 L279.5 88.8 L280 89.1 L280.5 89.3 L281 89.4 L281.5 89.6M338.5 91.5 L339 91.5 L339.5 91.5 L340 91.5 L340.5 91.4 L341 91.4 L341.5 91.3 L342 91.1 L342.5 90.8 L343 90.3 L343.5 89.1 L344 85.7 L344.5 72.5 L345 67.7 L345.5 84.3 L346 88.7 L346.5 90.2 L347 90.8 L347.5 91.1 L348 91.3 L348.5 91.4 L349 91.5 L349.5 91.5 L350 91.6 L350.5 91.6 L351 91.6 L351.5 91.7M38.5 87.9v2.7M40 85.9v2.8M41 82.9v2M42 77.7v-1M43 75.2v0.7M44 80v1.4M45.5 85.7v2.4M47.5 88.3v3M48.5 88.8v-3.4M49 89v3M55.5 89.8v-4M56 89.8v3.8M56.5 89.8v-3.2M57.5 89.9v3.1M58.5 89.9v3.7M62.5 90v-3.1M64.5 90v4.2M65 90v3.8M66 90v3.9M67 90v4.2M68 90v4.3M69 90v-3.1M70 90v3.1M72 90v3.1M73 90.1v-3.8M75.5 90.1v3.9M79.5 90v3M81 90v3.5M82 90v3.9M84.5 90v3.9M85 90v4.1M87 89.9v3.3M87.5 89.8v3.9M90 89.6v-3.9M92.5 88.9v3.8M95.5 84.1v-2M99 81.8v1.6M102 81.9v1.8M106 89.4v3.3M107 89.7v3.9M109 89.9v4.3M109.5 89.9v4M111 90v3.4M112 90.1v3.5M114.5 90.2v4M116.5 90.2v4.8M119.5 90.2v4.1M120 90.2v-4M121.5 90.2v-3.6M122.5 90.2v3.1M123.5 90.2v3.1M126 90.2v3.4M127 90.2v3.3M127.5 90.2v3.1M129.5 90.2v3.3M130 90.2v2.9M134.5 90.1v5M136.5 90v3.3M137 90v-4M138 89.9v2.9M138.5 89.9v-3.3M139.5 89.8v3.8M143.5 89.2v-3.9M144.5 88.9v3.7M151.5 78.1v0.9M162.5 89.3v-3.6M164 89.5v3.5M164.5 89.5v3.1M165.5 89.6v-3.1M167 89.7v3.7M172 89.9v3M172.5 89.9v-3.9M173.5 89.9v4.2M175.5 89.9v3.4M176 89.9v3.1M179.5 89.8v3.3M182.5 89.6v3.5M183 89.6v3.2M184.5 89.5v3.8M186 89.4v3.4M187.5 89.3v-3.4M190 89v3.2M190.5 88.9v-3.1M191.5 88.7v2.9M194.5 88.1v3.2M199 86.7v2.7M201.5 85.4v2.6M202 85.1v2.1M204.5 82.9v2.1M206 80.6v2M207.5 76.4v-0.7M208 74.4v0.6M209.5 70.5v0.6M212 72.8v-0.5M213.5 70.9v-0.6M217 52.2v0.6M219.5 83.7v1.8M221 85.3v2.1M222.5 86.3v-2.7M225 87.5v3.1M225.5 87.6v4M226 87.8v3.1M229.5 88.7v-3.5M233.5 89.3v3.5M237.5 89.7v3.7M238 89.7v3.5M239.5 89.8v2.8M242.5 90v-3.8M244.5 90v-3M248.5 90v2.7M252.5 89.9v3.3M254 89.8v3.5M254.5 89.8v3.5M258.5 89.1v2.8M259 89v2.8M259.5 88.8v-3.3M266 78.9v1M268.5 81.6v2.2M271 82v1.7M271.5 81.1v2M272.5 78.9v-1.3M276.5 86.3v2.4M339 91.5v4.2M340.5 91.4v5M341 91.4v4.7M343.5 89.1v2.9M344 85.7v2.5M345.5 84.3v-1.8M347.5 91.1v3.5M349.5 91.5v3.9M282 89.7L282.2 88.4M282 89.7v-2.6M282.5 90L282.7 90.8M282.5 90v1.6M283 90.4L283.3 88.4M283 90.4v-4M283.5 90.4L283.8 91.2M284 90.5L284.3 90.5M284 90.5v0M285 89.9L285.2 88.6M285.5 90.7L285.8 91.5M285.5 90.7v1.6M286 90.4L286.5 88.4M287 90L287.5 90.8M287 90v1.6M287.5 91.1L287.8 90.3M288 90.2L288.2 88.9M288.5 91.1L288.8 89.8M288.5 91.1v-2.6M289.5 91.2L289.8 92M289.5 91.2v1.6M290 90.2L290.4 90.2M290.5 90.4L290.9 88.4M291 90.9L291.5 89.6M291 90.9v-2.6M292 90.6L292.4 89.3M292 90.6v-2.6M292.5 91.1L292.7 91.9M292.5 91.1v1.6M293 90.4L293.5 89.6M294.5 90.4L294.8 89.6M294.5 90.4v-1.6M295 90.8L295.3 88.8M295.5 90.7L295.9 89.9M295.5 90.7v-1.6M296 91L296.4 90.2M296 91v-1.6M296.5 90.7L296.8 91.5M296.5 90.7v1.6M297 90.8L297.4 90M298 91.5L298.3 91.5M298 91.5v0M299 91.7L299.2 90.4M299 91.7v-2.6M299.5 90.8L299.8 90.8M299.5 90.8v0M300 91.1L300.2 89.1M300 91.1v-4M300.5 91.1L300.7 90.3M301 90.7L301.5 89.9M301.5 91.6L301.8 90.8M301.5 91.6v-1.6M302 91.5L302.5 91.5M302.5 91.5L303 92.3M302.5 91.5v1.6M303 91.3L303.5 91.3M303.5 90.7L303.7 89.9M304 91.3L304.5 92.1M304.5 91.2L304.8 92M304.5 91.2v1.6M305 90.9L305.2 89.6M305.5 91.5L305.7 91.5M306.5 91.6L306.8 89.6M308 91.6L308.4 90.3M308 91.6v-2.6M308.5 90.9L308.9 90.1M308.5 90.9v-1.6M309 91.2L309.4 90.4M309.5 91L310 91.8M309.5 91v1.6M310 91.9L310.2 91.9M311.5 91.4L311.9 90.1M311.5 91.4v-2.6M312 91.2L312.3 89.2M312 91.2v-4M312.5 92L313 92M313 91.9L313.4 92.7M315 91.9L315.2 91.1M315 91.9v-1.6M315.5 90.9L315.7 90.9M316 90.9L316.3 89.6M316.5 91.8L316.9 89.8M316.5 91.8v-4M317.5 91.9L317.8 91.1M318.5 91.9L318.7 89.9M318.5 91.9v-4M319 91.6L319.4 91.6M319 91.6v0M319.5 90.9L319.9 90.9M320 91.6L320.2 92.4M320 91.6v1.6M320.5 91.6L320.8 89.6M320.5 91.6v-4M321 91L321.2 90.2M321 91v-1.6M321.5 91.1L321.7 89.1M321.5 91.1v-4M322 91.6L322.3 90.8M322 91.6v-1.6M322.5 91.5L322.7 89.5M323 91.8L323.3 91.8M323.5 91.9L323.8 90.6M323.5 91.9v-2.6M324 92L324.2 90.7M324 92v-2.6M324.5 91L325 91M325 91.3L325.4 90.5M325.5 92L325.7 90.7M326 91.7L326.4 89.7M327 91.1L327.3 91.1M327.5 91.1L327.8 89.8M327.5 91.1v-2.6M328 92L328.2 90M328 92v-4M329 91.6L329.4 90.3M329 91.6v-2.6M331 91.1L331.2 89.1M331 91.1v-4M331.5 91.1L331.7 91.1M332 91.3L332.4 90M332 91.3v-2.6M332.5 91.3L332.8 92.1M333 91.6L333.2 91.6M333 91.6v0M333.5 91.4L333.9 91.4M334 91.5L334.3 90.7M334 91.5v-1.6M334.5 91L334.8 89M335.5 91.9L335.7 90.6M335.5 91.9v-2.6M336 91.9L336.5 89.9M336.5 91.1L336.9 90.3M337.5 91.8L337.8 91.8M337.5 91.8v0M338 91.6L338.2 89.6M352 91.9L352.4 89.9M352.5 91.2L353 90.4M353 91.7L353.3 91.7M353.5 91.3L353.9 92.1M354.5 91.2L354.9 89.2M355 91.5L355.2 91.5M355 91.5v0M355.5 91.3L355.8 92.1M355.5 91.3v1.6M356 91.5L356.3 90.7M356.5 92.1L357 91.3M357 92.3L357.5 91M357 92.3v-2.6M358 91.2L358.4 89.9M358.5 92.1L359 91.3M359 92L359.2 90.7M359 92v-2.6M359.5 91.8L359.7 91M360 92.3L360.3 91.5M360 92.3v-1.6M361 92.2L361.4 93M361 92.2v1.6M361.5 91.6L361.9 91.6M361.5 91.6v0M362 91.3L362.2 90M362.5 91.4L362.8 91.4M362.5 91.4v0M363 92.3L363.2 93.1M363.5 92.2L364 91.4M365 91.6L365.5 90.3M365 91.6v-2.6M365.5 92.1L365.7 90.8M367.5 91.6L367.9 92.4M367.5 91.6v1.6M368 91.4L368.3 92.2M368 91.4v1.6M368.5 91.8L368.7 89.8M369 92.4L369.3 92.4M369.5 92.3L370 92.3M370 92.2L370.2 90.2M370 92.2v-4M370.5 91.8L371 91M371 91.4L371.2 90.1M371 91.4v-2.6M371.5 91.7L371.8 92.5M371.5 91.7v1.6M372 92.1L372.4 91.3M373.5 92.3L373.8 90.3M373.5 92.3v-4M374.5 92.1L374.9 90.8M374.5 92.1v-2.6M375.5 91.5L375.8 89.5M375.5 91.5v-4M376 91.3L376.3 89.3M376 91.3v-4M376.5 92.2L376.9 93M377 92.3L377.3 93.1M377 92.3v1.6" fill="none" stroke="#7c7c12" stroke-width="0.9" stroke-linejoin="round"/><path d="M38.5 69.5 39 69.2 39.5 68.2 40 68.3 40.5 68.6 41 67.7 41.5 67.1 42 66.6 42.5 64.8 43 63.9 43.5 61.8 44 60.5 44.5 60.7 45 62 45.5 63.6 46 64.8 46.5 66.7 47 67 47.5 67.5 48 68.5 48.5 69.2 49 68 49.5 69.2 50 69.3 50.5 68.6 51 69.1 51.5 69.3 52 68.9 52.5 70.1 53 69.1 53.5 69.7 54 70.1 54.5 69.3 55 68.9 55.5 70 56 69.4 56.5 69.9 57 69.3 57.5 69.3 58 70.1 58.5 69.2 59 69.4 59.5 69.4 60 69.2 60.5 69.8 61 69.3 61.5 69.1 62 70.3 62.5 69.2 63 69.9 63.5 69.8 64 70.3 64.5 69.4 65 70.1 65.5 69.2 66 70.1 66.5 69.7 67 69.9 67.5 69.6 68 70.2 68.5 70.2 69 69.4 69.5 69.4 70 69.7 70.5 69.1 71 70.2 71.5 69.2 72 70.2 72.5 69 73 69.6 73.5 69.6 74 69 74.5 69.3 75 69.3 75.5 70.4 76 69.9 76.5 70.3 77 70.2 77.5 70.1 78 69.1 78.5 70.2 79 70 79.5 69.7 80 69.1 80.5 68.9 81 69.3 81.5 70 82 69.5 82.5 69.2 83 70.2 83.5 69.2 84 69.7 84.5 69.3 85 69.2 85.5 69.1 86 69.3 86.5 69.2 87 69.7 87.5 69.2 88 69.6 88.5 69.1 89 68.9 89.5 68.5 90 68.9 90.5 69.3 91 68.5 91.5 68.8 92 67.9 92.5 68.2 93 68 93.5 67.1 94 67.5 94.5 67.3 95 66.9 95.5 66.3 96 66.3 96.5 65.1 97 64 97.5 63.4 98 61.9 98.5 60 99 57.7 99.5 54.6 100 51.9 100.5 51.6 101 54.1 101.5 57.3 102 59.9 102.5 62 103 63.1 103.5 64.4 104 65 104.5 65.7 105 66.7 105.5 66.8 106 67.2 106.5 67.2 107 68.2 107.5 68.4 108 68.1 108.5 68.5 109 68.3 109.5 68.9 110 69.2 110.5 68.3 111 69.4 111.5 69.6 112 69.5 112.5 69.5 113 69.7 113.5 69.3 114 68.8 114.5 70 115 69.7 115.5 69.3 116 69.1 116.5 68.9 117 70.2 117.5 69.7 118 69.2 118.5 70.4 119 69.7 119.5 70.3 120 69.5 120.5 69.2 121 69.8 121.5 70.6 122 70.6 122.5 70.1 123 69.5 123.5 70.4 124 69.7 124.5 70.1 125 70.4 125.5 69.7 126 70.3 126.5 70.2 127 69.7 127.5 70.1 128 69.6 128.5 70.1 129 70.6 129.5 70.2 130 69.5 130.5 70 131 69.4 131.5 70.8 132 70.3 132.5 69.7 133 69.8 133.5 70 134 69.9 134.5 69.5 135 69.8 135.5 70 136 70 136.5 69.8 137 70.3 137.5 69.8 138 69.9 138.5 69.6 139 70.1 139.5 70.7 140 69.9 140.5 69.5 141 69.8 141.5 69.7 142 70.1 142.5 70.1 143 69.5 143.5 70.4 144 69.3 144.5 69.2 145 69 145.5 70.2 146 70.1 146.5 68.9 147 69.6 147.5 69.7 148 69.4 148.5 68.9 149 69.4 149.5 68.8 150 68.4 150.5 68.1 151 68.7 151.5 67.4 152 67.5 152.5 67 153 66.3 153.5 65.9 154 64.5 154.5 64.4 155 63.5 155.5 63.6 156 63.5 156.5 63.8 157 64.5 157.5 66.1 158 66.2 158.5 66.5 159 67.7 159.5 67.9 160 67.8 160.5 68 161 68.6 161.5 68.6 162 68.7 162.5 69.3 163 69 163.5 69.2 164 69.1 164.5 69.4 165 69.8 165.5 69.7 166 69 166.5 70.1 167 70.2 167.5 70.5 168 69.3 168.5 69.1 169 70.2 169.5 70.2 170 70.3 170.5 69.8 171 69.9 171.5 69.5 172 70.4 172.5 69.4 173 70 173.5 69.5 174 69.5 174.5 69.4 175 70 175.5 69.8 176 69.9 176.5 70.4 177 69.9 177.5 69.3 178 69.3 178.5 70.6 179 69.7 179.5 70.1 180 70.4 180.5 70.4 181 69.4 181.5 69.2 182 69.8 182.5 69.9 183 69.7 183.5 69.3 184 69.3 184.5 70.3 185 70 185.5 69.1 186 69.6 186.5 69.3 187 69.1 187.5 69.3 188 69.1 188.5 69.3 189 69.7 189.5 69.7 190 68.5 190.5 69.8 191 68.8 191.5 68.5 192 69.3 192.5 69.5 193 68.9 193.5 68.9 194 68.7 194.5 68.6 195 67.9 195.5 68.8 196 67.7 196.5 68.7 197 67.4 197.5 68.1 198 67.4 198.5 68.2 199 67.5 199.5 67 200 66.9 200.5 66.5 201 67 201.5 66.5 202 66 202.5 66.4 203 65.3 203.5 65.4 204 65.2 204.5 64.9 205 64.1 205.5 64.2 206 63.6 206.5 63.1 207 62.5 207.5 61.6 208 61.1 208.5 60.2 209 59.5 209.5 58.9 210 58 210.5 57.1 211 56.2 211.5 55.4 212 55 212.5 55.1 213 55.2 213.5 55.4 214 55.6 214.5 55.8 215 55 215.5 52.6 216 46.4 216.5 29.2 217 7.2 217.5 30.3 218 48.9 218.5 56.1 219 59.3 219.5 61.3 220 62.4 220.5 63.4 221 63.8 221.5 64.7 222 64.8 222.5 64.9 223 65.6 223.5 65.6 224 66.6 224.5 66.1 225 67.2 225.5 67.3 226 66.9 226.5 67.6 227 68 227.5 68.2 228 67.5 228.5 68.6 229 68.7 229.5 67.8 230 68.1 230.5 68.7 231 69.1 231.5 68.3 232 68.5 232.5 68.7 233 69 233.5 69.1 234 68.6 234.5 69.3 235 69.9 235.5 70 236 69.4 236.5 69.2 237 69.4 237.5 69.3 238 70 238.5 70 239 70.1 239.5 70 L239.5 73.7 239 73.8 238.5 73.4 238 73.1 237.5 74 237 73.4 236.5 73.8 236 72.4 235.5 73.5 235 73 234.5 72.5 234 73.1 233.5 72.7 233 72.9 232.5 72.2 232 72.5 231.5 71.7 231 72.1 230.5 71.6 230 71.2 229.5 71.1 229 71.1 228.5 71.4 228 71.5 227.5 71.3 227 70.7 226.5 70 226 69.9 225.5 70 225 70 224.5 69.5 224 68.9 223.5 68.2 223 68.5 222.5 67.6 222 66.9 221.5 66.3 221 65.7 220.5 65.5 220 64.1 219.5 63 219 60.7 218.5 56.9 218 49.5 217.5 30.9 217 7.9 216.5 29.8 216 46.9 215.5 53.2 215 55.5 214.5 56.2 214 56.3 213.5 56.2 213 55.8 212.5 55.6 212 55.8 211.5 56 211 56.8 210.5 57.6 210 58.6 209.5 59.7 209 60.9 208.5 61.6 208 62.4 207.5 63.2 207 64.5 206.5 64.7 206 65.9 205.5 66 205 66.5 204.5 66.8 204 67.5 203.5 68.3 203 68.2 202.5 68.9 202 68.8 201.5 69.4 201 69.8 200.5 69.9 200 70.4 199.5 69.9 199 70.6 198.5 70.8 198 71 197.5 70.7 197 71.6 196.5 71.2 196 71.2 195.5 71.8 195 72.2 194.5 71.5 194 72.6 193.5 72.7 193 71.9 192.5 72.5 192 73 191.5 72.6 191 73.3 190.5 72.4 190 72.6 189.5 72.4 189 72.5 188.5 73.6 188 73 187.5 73.2 187 73.5 186.5 73.5 186 73.5 185.5 73.8 185 73.9 184.5 73.6 184 73.3 183.5 74.1 183 73.2 182.5 73.7 182 73.5 181.5 73.4 181 73.8 180.5 74.3 180 73.6 179.5 74.3 179 74.1 178.5 73.7 178 73.9 177.5 74.1 177 73.6 176.5 74 176 74 175.5 73.9 175 73.4 174.5 73.5 174 73.1 173.5 73.5 173 73.1 172.5 74 172 73.2 171.5 73.6 171 73.9 170.5 73.9 170 73 169.5 74 169 73.6 168.5 73.8 168 73 167.5 74.2 167 74.2 166.5 73.7 166 74 165.5 72.8 165 73.2 164.5 73.2 164 73.6 163.5 73.1 163 73.2 162.5 72.7 162 72 161.5 71.9 161 71.5 160.5 71.2 160 71.6 159.5 71.3 159 70.7 158.5 69.7 158 69.7 157.5 68.9 157 67.1 156.5 66.8 156 65.8 155.5 65.5 155 66.1 154.5 66.9 154 67.6 153.5 68.3 153 69 152.5 70.4 152 70.9 151.5 70.7 151 71.9 150.5 71.3 150 71.9 149.5 73 149 72.4 148.5 73.4 148 72.5 147.5 73.6 147 72.9 146.5 73.2 146 73.1 145.5 73.2 145 73 144.5 74.3 144 72.9 143.5 73.5 143 73.1 142.5 73.5 142 73.4 141.5 73.7 141 74.2 140.5 73.2 140 74 139.5 74.3 139 73.9 138.5 73.4 138 74.3 137.5 74.5 137 74.7 136.5 73.6 136 74.5 135.5 74.5 135 73.3 134.5 74.7 134 74.3 133.5 73.8 133 73.9 132.5 73.8 132 73.7 131.5 74.3 131 74.7 130.5 73.7 130 73.8 129.5 73.8 129 74.6 128.5 73.4 128 74.1 127.5 74.7 127 74.5 126.5 73.4 126 73.8 125.5 73.9 125 73.7 124.5 73.8 124 73.6 123.5 73.5 123 73.8 122.5 74.4 122 73.8 121.5 73.3 121 74.5 120.5 73.1 120 73.3 119.5 73.1 119 73.1 118.5 72.9 118 74.3 117.5 73.9 117 73.7 116.5 73.6 116 74 115.5 73.3 115 73.7 114.5 73.1 114 72.6 113.5 73.3 113 73.2 112.5 73.1 112 72.8 111.5 72.6 111 72 110.5 72.8 110 71.8 109.5 72.4 109 72 108.5 71.8 108 71.4 107.5 72 107 71.1 106.5 70.7 106 70.5 105.5 70.2 105 69.3 104.5 69.1 104 68.1 103.5 66.8 103 65.6 102.5 63.3 102 61 101.5 58.1 101 54.6 100.5 52.3 100 52.6 99.5 55.2 99 58.7 98.5 61.8 98 63.8 97.5 65.5 97 66.6 96.5 68.1 96 69 95.5 69.1 95 69.8 94.5 70.4 94 71.3 93.5 71.2 93 71.4 92.5 71.3 92 71.7 91.5 72.6 91 72.5 90.5 72.5 90 72 89.5 72.8 89 72.3 88.5 72.7 88 72.4 87.5 72.4 87 73.6 86.5 72.4 86 73.6 85.5 73.6 85 73.1 84.5 73.8 84 72.6 83.5 73.7 83 73 82.5 74 82 74.1 81.5 72.9 81 74.1 80.5 73.7 80 74 79.5 73.3 79 74.3 78.5 73.1 78 73 77.5 74.1 77 74.1 76.5 73.9 76 73.4 75.5 74.1 75 74.3 74.5 73.4 74 73.1 73.5 73.5 73 73.7 72.5 73.6 72 74.1 71.5 73.5 71 73.1 70.5 74.4 70 73.6 69.5 74 69 73.2 68.5 74 68 73.5 67.5 74.1 67 73.5 66.5 73 66 73.9 65.5 74.4 65 74.1 64.5 74.4 64 73.9 63.5 73.9 63 73.4 62.5 74.3 62 73.4 61.5 73.9 61 73.2 60.5 73.3 60 73.1 59.5 74 59 73.9 58.5 73.1 58 73.3 57.5 73.2 57 73.8 56.5 73.8 56 73.4 55.5 73.1 55 73.7 54.5 72.9 54 72.8 53.5 73.4 53 73.5 52.5 73.5 52 73.5 51.5 73.8 51 73.1 50.5 73.1 50 72.9 49.5 72 49 72 48.5 71.6 48 72.4 47.5 71.1 47 70.1 46.5 69.7 46 68.2 45.5 66.8 45 64.3 44.5 62.7 44 62.4 43.5 63.5 43 65.8 42.5 68.4 42 69.9 41.5 70.3 41 71.7 40.5 72.1 40 72.1 39.5 71.8 39 72.3 38.5 72.5ZM262.5 70.5 263 70.9 263.5 70.4 264 69.7 264.5 69.8 265 69.9 265.5 70.5 266 69.4 266.5 69.6 267 69.9 267.5 69.1 268 69.9 268.5 69.6 269 68.6 269.5 69.3 270 69 270.5 68.2 271 67.7 271.5 67.5 272 67.8 272.5 67.2 273 66.4 273.5 66.5 274 66.4 274.5 66.5 275 66.2 275.5 65.5 276 66.6 276.5 66.3 277 66.2 277.5 66.8 278 67.6 278.5 67.5 279 68.5 279.5 68.4 280 68.9 280.5 68.4 281 68.7 281.5 69 282 69.7 282.5 69.3 283 69.2 283.5 70.2 284 70.1 284.5 70.7 285 70.9 285.5 70.1 286 71.1 286.5 70.4 287 71.2 287.5 70.4 288 70.3 288.5 70.1 289 71 289.5 71 L289.5 75.4 289 74.7 288.5 73.9 288 74.6 287.5 74 287 74.8 286.5 74.3 286 74.3 285.5 74.7 285 73.8 284.5 74.6 284 73.8 283.5 73.2 283 72.9 282.5 73.8 282 73.1 281.5 72.4 281 72.2 280.5 72.3 280 71.5 279.5 72 279 70.7 278.5 71.1 278 70.9 277.5 69.4 277 69.6 276.5 68.8 276 68.4 275.5 68.4 275 68.2 274.5 69 274 68.7 273.5 69.2 273 69.3 272.5 69.6 272 69.7 271.5 71.2 271 71.4 270.5 71.4 270 72.3 269.5 72.3 269 72.5 268.5 73 268 73 267.5 73.5 267 73.1 266.5 73.9 266 74.1 265.5 73.2 265 73.4 264.5 74.3 264 74 263.5 74.6 263 74.3 262.5 73.6ZM338.5 70.6 339 70.1 339.5 69.6 340 69.9 340.5 69.1 341 68.8 341.5 68.4 342 68.5 342.5 67.7 343 67.2 343.5 65.6 344 64.5 344.5 62 345 59.6 345.5 58.6 346 60.6 346.5 63.3 347 64.9 347.5 66.3 348 67.2 348.5 68.4 349 68.6 349.5 69.3 350 70 350.5 69.9 351 69.8 351.5 70.5 352 70.2 352.5 70.2 353 71.5 353.5 71.3 354 71.3 354.5 70.9 L354.5 75.5 354 75.3 353.5 75.2 353 74.7 352.5 74.3 352 73.8 351.5 73.2 351 73.1 350.5 73.5 350 73.5 349.5 72 349 72.3 348.5 71.4 348 70.4 347.5 68.9 347 67.2 346.5 64.8 346 61.5 345.5 59.3 345 60.3 344.5 63.6 344 66.1 343.5 68.3 343 69.8 342.5 70.5 342 71 341.5 72.1 341 72.1 340.5 73.1 340 73.6 339.5 73 339 73.7 338.5 74.3Z" fill="#0a7c0a" stroke="none"/><path d="M38.5 70.8 L39 70.7 L39.5 70.5 L40 70.2 L40.5 69.9 L41 69.4 L41.5 68.7 L42 67.8 L42.5 66.5 L43 64.7 L43.5 62.8 L44 61.4 L44.5 61.6 L45 63.1 L45.5 65.1 L46 66.8 L46.5 68 L47 68.9 L47.5 69.6 L48 70 L48.5 70.3 L49 70.6 L49.5 70.8 L50 70.9 L50.5 71.1 L51 71.2 L51.5 71.2 L52 71.3 L52.5 71.4 L53 71.4 L53.5 71.4 L54 71.5 L54.5 71.5 L55 71.5 L55.5 71.6 L56 71.6 L56.5 71.6 L57 71.6 L57.5 71.6 L58 71.6 L58.5 71.7 L59 71.7 L59.5 71.7 L60 71.7 L60.5 71.7 L61 71.7 L61.5 71.7 L62 71.7 L62.5 71.7 L63 71.7 L63.5 71.7 L64 71.7 L64.5 71.7 L65 71.7 L65.5 71.7 L66 71.7 L66.5 71.7 L67 71.7 L67.5 71.7 L68 71.7 L68.5 71.7 L69 71.7 L69.5 71.7 L70 71.7 L70.5 71.7 L71 71.7 L71.5 71.7 L72 71.7 L72.5 71.7 L73 71.7 L73.5 71.7 L74 71.7 L74.5 71.7 L75 71.7 L75.5 71.7 L76 71.7 L76.5 71.7 L77 71.7 L77.5 71.7 L78 71.7 L78.5 71.6 L79 71.6 L79.5 71.6 L80 71.6 L80.5 71.6 L81 71.6 L81.5 71.5 L82 71.5 L82.5 71.5 L83 71.5 L83.5 71.4 L84 71.4 L84.5 71.4 L85 71.3 L85.5 71.3 L86 71.2 L86.5 71.2 L87 71.1 L87.5 71.1 L88 71 L88.5 70.9 L89 70.8 L89.5 70.7 L90 70.6 L90.5 70.5 L91 70.4 L91.5 70.2 L92 70 L92.5 69.8 L93 69.6 L93.5 69.4 L94 69.1 L94.5 68.7 L95 68.3 L95.5 67.8 L96 67.3 L96.5 66.6 L97 65.7 L97.5 64.6 L98 63.1 L98.5 61 L99 58.3 L99.5 55 L100 52.3 L100.5 52 L101 54.3 L101.5 57.7 L102 60.5 L102.5 62.7 L103 64.3 L103.5 65.5 L104 66.5 L104.5 67.2 L105 67.8 L105.5 68.3 L106 68.7 L106.5 69.1 L107 69.4 L107.5 69.7 L108 69.9 L108.5 70.1 L109 70.3 L109.5 70.5 L110 70.6 L110.5 70.7 L111 70.8 L111.5 70.9 L112 71 L112.5 71.1 L113 71.2 L113.5 71.3 L114 71.3 L114.5 71.4 L115 71.5 L115.5 71.5 L116 71.6 L116.5 71.6 L117 71.6 L117.5 71.7 L118 71.7 L118.5 71.7 L119 71.8 L119.5 71.8 L120 71.8 L120.5 71.8 L121 71.9 L121.5 71.9 L122 71.9 L122.5 71.9 L123 71.9 L123.5 71.9 L124 72 L124.5 72 L125 72 L125.5 72 L126 72 L126.5 72 L127 72 L127.5 72 L128 72 L128.5 72 L129 72 L129.5 72.1 L130 72.1 L130.5 72.1 L131 72.1 L131.5 72.1 L132 72.1 L132.5 72.1 L133 72.1 L133.5 72.1 L134 72.1 L134.5 72.1 L135 72.1 L135.5 72 L136 72 L136.5 72 L137 72 L137.5 72 L138 72 L138.5 72 L139 72 L139.5 72 L140 71.9 L140.5 71.9 L141 71.9 L141.5 71.9 L142 71.9 L142.5 71.8 L143 71.8 L143.5 71.7 L144 71.7 L144.5 71.7 L145 71.6 L145.5 71.5 L146 71.5 L146.5 71.4 L147 71.3 L147.5 71.2 L148 71.1 L148.5 70.9 L149 70.8 L149.5 70.6 L150 70.4 L150.5 70.1 L151 69.8 L151.5 69.4 L152 69 L152.5 68.5 L153 67.8 L153.5 67.1 L154 66.2 L154.5 65.3 L155 64.7 L155.5 64.4 L156 64.7 L156.5 65.3 L157 66.2 L157.5 67 L158 67.8 L158.5 68.4 L159 69 L159.5 69.4 L160 69.8 L160.5 70.1 L161 70.3 L161.5 70.5 L162 70.7 L162.5 70.9 L163 71 L163.5 71.1 L164 71.2 L164.5 71.3 L165 71.4 L165.5 71.5 L166 71.5 L166.5 71.6 L167 71.6 L167.5 71.7 L168 71.7 L168.5 71.7 L169 71.8 L169.5 71.8 L170 71.8 L170.5 71.8 L171 71.8 L171.5 71.8 L172 71.8 L172.5 71.9 L173 71.9 L173.5 71.9 L174 71.9 L174.5 71.9 L175 71.9 L175.5 71.9 L176 71.8 L176.5 71.8 L177 71.8 L177.5 71.8 L178 71.8 L178.5 71.8 L179 71.8 L179.5 71.8 L180 71.8 L180.5 71.7 L181 71.7 L181.5 71.7 L182 71.7 L182.5 71.6 L183 71.6 L183.5 71.6 L184 71.6 L184.5 71.5 L185 71.5 L185.5 71.5 L186 71.4 L186.5 71.4 L187 71.3 L187.5 71.3 L188 71.2 L188.5 71.2 L189 71.1 L189.5 71.1 L190 71 L190.5 70.9 L191 70.9 L191.5 70.8 L192 70.7 L192.5 70.6 L193 70.6 L193.5 70.5 L194 70.4 L194.5 70.3 L195 70.1 L195.5 70 L196 69.9 L196.5 69.8 L197 69.6 L197.5 69.5 L198 69.3 L198.5 69.1 L199 69 L199.5 68.8 L200 68.6 L200.5 68.3 L201 68.1 L201.5 67.8 L202 67.6 L202.5 67.3 L203 66.9 L203.5 66.6 L204 66.2 L204.5 65.8 L205 65.4 L205.5 65 L206 64.4 L206.5 63.9 L207 63.3 L207.5 62.6 L208 61.9 L208.5 61.1 L209 60.2 L209.5 59.3 L210 58.3 L210.5 57.3 L211 56.4 L211.5 55.8 L212 55.4 L212.5 55.3 L213 55.5 L213.5 55.8 L214 56 L214.5 56 L215 55.2 L215.5 53 L216 46.7 L216.5 29.5 L217 7.5 L217.5 30.6 L218 49.1 L218.5 56.5 L219 60.1 L219.5 62 L220 63.3 L220.5 64.3 L221 65 L221.5 65.6 L222 66.1 L222.5 66.5 L223 66.9 L223.5 67.3 L224 67.6 L224.5 67.9 L225 68.2 L225.5 68.5 L226 68.7 L226.5 68.9 L227 69.1 L227.5 69.3 L228 69.5 L228.5 69.7 L229 69.8 L229.5 70 L230 70.1 L230.5 70.2 L231 70.4 L231.5 70.5 L232 70.6 L232.5 70.7 L233 70.8 L233.5 70.9 L234 71 L234.5 71.1 L235 71.2 L235.5 71.2 L236 71.3 L236.5 71.4 L237 71.4 L237.5 71.5 L238 71.6 L238.5 71.6 L239 71.7 L239.5 71.7M262.5 72.2 L263 72.1 L263.5 72.1 L264 72 L264.5 71.9 L265 71.8 L265.5 71.8 L266 71.7 L266.5 71.5 L267 71.4 L267.5 71.3 L268 71.1 L268.5 70.9 L269 70.7 L269.5 70.4 L270 70.1 L270.5 69.8 L271 69.5 L271.5 69.1 L272 68.8 L272.5 68.4 L273 68 L273.5 67.7 L274 67.4 L274.5 67.3 L275 67.2 L275.5 67.3 L276 67.5 L276.5 67.8 L277 68.1 L277.5 68.5 L278 68.9 L278.5 69.3 L279 69.6 L279.5 70 L280 70.3 L280.5 70.6 L281 70.9 L281.5 71.1 L282 71.3 L282.5 71.5 L283 71.7 L283.5 71.8 L284 71.9 L284.5 72.1 L285 72.2 L285.5 72.3 L286 72.4 L286.5 72.4 L287 72.5 L287.5 72.6 L288 72.6 L288.5 72.7 L289 72.7 L289.5 72.8M338.5 72.3 L339 72.1 L339.5 71.9 L340 71.6 L340.5 71.3 L341 70.9 L341.5 70.4 L342 69.9 L342.5 69.1 L343 68.2 L343.5 67 L344 65.2 L344.5 62.7 L345 59.9 L345.5 59 L346 61 L346.5 63.8 L347 66 L347.5 67.5 L348 68.6 L348.5 69.5 L349 70.2 L349.5 70.7 L350 71.1 L350.5 71.5 L351 71.8 L351.5 72.1 L352 72.3 L352.5 72.5 L353 72.6 L353.5 72.8 L354 72.9 L354.5 73M39.5 70.5v3.8M40 70.2v3.4M41 69.4v2.8M42.5 66.5v2.8M43 64.7v2.4M44 61.4v1.8M49.5 70.8v3M50 70.9v3M52 71.3v3.1M52.5 71.4v5M54.5 71.5v5.1M55 71.5v3.3M56.5 71.6v3.2M58 71.6v-3.8M58.5 71.7v3.3M60.5 71.7v4M63 71.7v-3.9M63.5 71.7v3.7M65 71.7v4M65.5 71.7v4M67 71.7v4.1M69.5 71.7v4M72 71.7v-3M75 71.7v-3.4M77.5 71.7v4M79 71.6v4M79.5 71.6v3.9M80 71.6v4.1M80.5 71.6v3M81.5 71.5v3.9M85 71.3v3.3M89 70.8v4.5M94.5 68.7v3.1M95.5 67.8v-3.1M96 67.3v3.7M97.5 64.6v2.1M98.5 61v1.5M99.5 55v0.6M100 52.3v0.6M101.5 57.7v0.7M102.5 62.7v1.8M104 66.5v2.1M104.5 67.2v2.4M106.5 69.1v3.5M108 69.9v4M109.5 70.5v3.2M111.5 70.9v-3.2M112.5 71.1v4.4M113.5 71.3v4.4M114 71.3v-3.5M115.5 71.5v3.1M118 71.7v3.8M118.5 71.7v-3.9M121.5 71.9v4.2M122.5 71.9v-3.7M123 71.9v-3.7M124.5 72v3.5M126.5 72v3M127 72v3.1M131.5 72.1v5M132.5 72.1v5.1M133 72.1v3.2M133.5 72.1v3.4M134 72.1v4.2M138 72v3.4M138.5 72v4.1M140.5 71.9v5M141.5 71.9v-3.7M144.5 71.7v3.1M147.5 71.2v3.8M148.5 70.9v3.6M149 70.8v4.4M150 70.4v2.8M151 69.8v-3.2M153.5 67.1v-2.9M157 66.2v2M158 67.8v2.7M159.5 69.4v2.6M160 69.8v2.6M162 70.7v3.8M164 71.2v3.4M164.5 71.3v3.6M165 71.4v3.3M166 71.5v-3.6M167 71.6v3.9M168.5 71.7v4.1M170 71.8v3.6M171.5 71.8v3.5M174.5 71.9v3.2M175.5 71.9v3.9M180 71.8v3.6M180.5 71.7v-3.9M181 71.7v-4M181.5 71.7v3.1M182 71.7v3.2M183 71.6v4.8M185.5 71.5v3.3M186 71.4v4.6M189.5 71.1v4.5M191 70.9v4.5M193.5 70.5v3.2M194 70.4v3.5M194.5 70.3v2.6M196.5 69.8v3.8M198.5 69.1v3.3M199 69v2.8M200 68.6v2.9M200.5 68.3v3M205 65.4v2.2M206.5 63.9v-1.5M207 63.3v1.6M207.5 62.6v-1.8M208.5 61.1v1.2M209.5 59.3v0.8M215 55.2v0.6M216 46.7v0.6M217 7.5v0.6M222.5 66.5v2M223 66.9v2.5M224.5 67.9v3.1M225 68.2v-3M225.5 68.5v2.4M226 68.7v3M228.5 69.7v3.2M229.5 70v3.1M230 70.1v2.6M230.5 70.2v3.4M232.5 70.7v3.9M236.5 71.4v3.8M262.5 72.2v2.8M263 72.1v3M264 72v3.7M265 71.8v3.5M268.5 70.9v-2.7M270 70.1v2.6M270.5 69.8v3.4M273 68v2.9M273.5 67.7v2.6M274.5 67.3v2.1M276.5 67.8v2.3M277.5 68.5v2.7M278.5 69.3v2.4M279 69.6v-2.8M284.5 72.1v3.9M286 72.4v4.2M287 72.5v-4M287.5 72.6v4.1M339 72.1v2.6M340.5 71.3v3.1M342 69.9v3M346 61v0.9M346.5 63.8v-1.9M349.5 70.7v3.1M350.5 71.5v3.5M352 72.3v3.5M352.5 72.5v4M353.5 72.8v3M354.5 73v3.1M240 72.3L240.3 71M241 71.7L241.3 71.7M241 71.7v0M241.5 72.1L241.7 72.9M242 72.4L242.2 71.6M242.5 71.9L242.8 71.9M243 71.6L243.3 69.6M244 72.4L244.2 72.4M244.5 72.3L244.7 72.3M244.5 72.3v0M245.5 72.4L245.7 72.4M245.5 72.4v0M246 72.1L246.5 72.9M246.5 72.1L246.8 72.9M246.5 72.1v1.6M247 71.7L247.5 72.5M247 71.7v1.6M247.5 72.3L247.9 73.1M248.5 72.5L249 73.3M249.5 72L249.9 71.2M250.5 72.3L250.8 71.5M252.5 72.4L252.9 71.1M252.5 72.4v-2.6M253.5 72.7L253.8 72.7M253.5 72.7v0M254 72.2L254.4 73M254 72.2v1.6M254.5 72.3L254.7 72.3M254.5 72.3v0M255.5 72.7L255.9 72.7M255.5 72.7v0M256 72.7L256.3 73.5M256 72.7v1.6M256.5 71.9L256.8 72.7M256.5 71.9v1.6M257 71.9L257.3 71.1M257 71.9v-1.6M257.5 72.7L257.8 73.5M257.5 72.7v1.6M258 72L258.2 72.8M258.5 72.3L258.7 73.1M258.5 72.3v1.6M259 72.4L259.2 72.4M259 72.4v0M259.5 72L259.8 72.8M260 71.9L260.4 71.9M260.5 72.2L260.9 70.9M260.5 72.2v-2.6M261 72.2L261.3 70.2M261.5 72.4L261.7 73.2M261.5 72.4v1.6M262 72.5L262.5 70.5M262 72.5v-4M290 73.2L290.5 72.4M290 73.2v-1.6M291.5 72.4L291.7 72.4M292 73.3L292.3 72M292 73.3v-2.6M292.5 72.5L292.8 71.7M293 72.7L293.3 71.4M293 72.7v-2.6M294 72.7L294.3 73.5M295 73.5L295.3 72.2M295 73.5v-2.6M295.5 73.2L295.8 71.2M295.5 73.2v-4M296 73.1L296.3 73.1M296.5 72.7L296.7 71.4M296.5 72.7v-2.6M297 73.1L297.2 72.3M297 73.1v-1.6M299 72.8L299.2 72M299 72.8v-1.6M299.5 73.7L299.9 72.9M299.5 73.7v-1.6M300 73.1L300.2 71.8M300.5 73.2L300.7 71.9M301 72.8L301.4 70.8M303.5 73.8L303.8 74.6M303.5 73.8v1.6M304 72.9L304.2 70.9M304.5 73.6L304.9 72.3M305 73.6L305.4 72.8M305 73.6v-1.6M305.5 72.8L305.8 71.5M306 73.2L306.3 73.2M306.5 73.6L307 74.4M308 73.7L308.5 72.4M309 73.4L309.2 71.4M309.5 73.3L309.7 73.3M309.5 73.3v0M310 73.6L310.3 72.3M310 73.6v-2.6M310.5 74L310.9 72.7M311 74L311.4 72M312.5 73.3L312.8 74.1M313.5 73.8L313.7 74.6M313.5 73.8v1.6M314 73.9L314.5 73.9M314.5 73.3L315 72M316 73.3L316.2 74.1M316 73.3v1.6M316.5 72.9L316.9 71.6M316.5 72.9v-2.6M317 73.9L317.5 74.7M317 73.9v1.6M317.5 73.2L317.7 74M318 73.8L318.2 71.8M318 73.8v-4M318.5 73.9L318.9 74.7M318.5 73.9v1.6M319 73.9L319.3 73.1M319 73.9v-1.6M319.5 73.6L319.9 73.6M320 73.8L320.2 73.8M320 73.8v0M321 73.2L321.4 73.2M321 73.2v0M322 73.4L322.2 72.6M322 73.4v-1.6M322.5 73.7L322.7 71.7M323 74L323.3 74.8M323 74v1.6M323.5 73.7L323.7 73.7M323.5 73.7v0M324.5 73.2L325 74M325 73.2L325.2 72.4M325.5 72.9L325.8 72.9M326 73.1L326.2 73.9M326.5 73.2L326.7 73.2M327.5 73.1L328 73.9M328.5 73.4L328.8 73.4M329 73.9L329.5 74.7M329.5 73.3L329.9 73.3M329.5 73.3v0M330 73.5L330.2 72.7M330 73.5v-1.6M330.5 73.9L331 72.6M331.5 73L331.8 71.7M331.5 73v-2.6M332.5 73L332.7 71.7M332.5 73v-2.6M333.5 73.4L334 74.2M333.5 73.4v1.6M334 73.1L334.4 72.3M334 73.1v-1.6M334.5 73L334.8 72.2M335 73.2L335.3 74M335 73.2v1.6M335.5 73.5L335.9 71.5M336 73.2L336.2 71.2M336.5 72.5L336.9 72.5M337 73L337.2 73.8M337 73v1.6M337.5 72.8L337.7 72.8M338 72.8L338.4 73.6M355 73.1L355.4 71.8M356 73L356.4 71M356 73v-4M357 73.3L357.5 72M358 73.5L358.2 72.2M358.5 73L358.7 73.8M358.5 73v1.6M359.5 73.6L359.9 71.6M360.5 74L360.9 74.8M361.5 73.5L361.7 74.3M362 73.2L362.4 71.9M362 73.2v-2.6M362.5 74.2L362.8 74.2M362.5 74.2v0M363.5 73.8L363.9 71.8M364 73.9L364.3 72.6M364.5 74.4L365 74.4M364.5 74.4v0M365 74.4L365.3 73.1M365.5 74.2L365.9 73.4M365.5 74.2v-1.6M366.5 73.6L366.9 72.8M366.5 73.6v-1.6M367 74.2L367.3 72.9M367.5 73.6L367.8 72.8M368 74L368.5 72.7M368 74v-2.6M368.5 74.2L368.8 72.2M368.5 74.2v-4M369 74.5L369.4 75.3M369.5 74.3L370 73M370 74.3L370.2 74.3M370 74.3v0M370.5 74.2L370.8 72.2M371 73.4L371.2 72.1M371 73.4v-2.6M372.5 73.9L372.9 73.1M373 73.7L373.3 71.7M373 73.7v-4M373.5 73.5L373.8 74.3M375.5 73.5L375.7 72.2M376 74.1L376.4 74.9M376 74.1v1.6M376.5 74L377 72" fill="none" stroke="#0a7c0a" stroke-width="0.9" stroke-linejoin="round"/><path d="M38.5 52.6 39 52.5 39.5 51.7 40 52.8 40.5 52 41 51.8 41.5 52.7 42 52.9 42.5 52.5 43 52 43.5 52.1 44 52.7 44.5 52.3 45 52 45.5 52.3 46 52 46.5 51.5 47 51.9 47.5 52.4 48 52.7 48.5 52.5 49 52.2 49.5 51.6 50 51.8 50.5 52.5 51 51.6 51.5 52.3 52 51.9 52.5 52.8 53 52.9 53.5 52.7 54 51.7 54.5 52 55 51.7 55.5 52 56 52.4 56.5 52.2 57 52.1 57.5 51.7 58 52.4 58.5 51.7 59 52.1 59.5 51.8 60 52.3 60.5 52 61 52.5 61.5 52.2 62 52.7 62.5 52.9 63 53 63.5 52 64 52.3 64.5 51.7 65 51.8 65.5 52.4 66 51.6 66.5 52.1 67 51.9 67.5 52.4 68 52.7 68.5 52.8 69 52.8 69.5 52.1 70 52.9 70.5 53 71 51.8 71.5 52.9 72 52.3 72.5 52.3 73 52.1 73.5 52.3 74 51.6 74.5 51.9 75 52.1 75.5 52.1 76 52.2 76.5 51.5 77 52.6 77.5 51.9 78 52.1 78.5 52.9 79 52.5 79.5 51.6 80 51.8 80.5 52.9 81 52.5 81.5 52.9 82 51.7 82.5 52.7 83 52.8 83.5 51.4 84 52.2 84.5 52.4 85 52.7 85.5 52.2 86 52.2 86.5 52 87 52.7 87.5 52.5 88 52.4 88.5 52 89 52.1 89.5 51.6 90 52.1 90.5 51.1 91 51 91.5 52.2 92 51.9 92.5 51.3 93 50.9 93.5 51.8 94 51.5 94.5 51 95 50.6 95.5 50.1 96 49.9 96.5 49.7 97 50.4 97.5 48.9 98 48.8 98.5 48.9 99 47.9 99.5 46.4 100 45 100.5 42.2 101 37.5 101.5 32.1 102 32.8 102.5 38.2 103 42.3 103.5 44.2 104 45.8 104.5 46.5 105 48.1 105.5 47.8 106 48.7 106.5 48.9 107 49.9 107.5 49.8 108 50.4 108.5 50.9 109 51.3 109.5 50.3 110 50.7 110.5 51.5 111 51.6 111.5 51.4 112 51 112.5 52.1 113 51 113.5 51.1 114 52.1 114.5 51.6 115 52.1 115.5 51.6 116 52.6 116.5 52.1 117 51.9 117.5 51.9 118 51.8 118.5 51.6 119 52.6 119.5 52.7 120 52.4 120.5 52.1 121 51.6 121.5 52 122 51.9 122.5 51.6 123 52.7 123.5 52.7 124 52.5 124.5 52.7 125 52.2 125.5 51.7 126 52.9 126.5 52.4 127 52.2 127.5 52.4 128 51.8 128.5 52.1 129 51.9 129.5 53 130 52.9 130.5 53.1 131 52 131.5 51.8 132 53.2 132.5 52.1 133 52.2 133.5 51.9 134 52.9 134.5 52.2 135 52.9 135.5 53.2 136 52.2 136.5 53.2 137 52.2 137.5 52.9 138 52.6 138.5 51.9 139 52.9 139.5 52.6 140 52.8 140.5 53 141 52.6 141.5 53 142 52.1 142.5 52.4 143 52.9 143.5 51.8 144 52.8 144.5 52.3 145 52.2 145.5 52.9 146 53.3 146.5 52 147 51.9 147.5 53.1 148 53.1 148.5 52.7 149 52.4 149.5 51.8 150 51.9 150.5 51.8 151 52.9 151.5 52.4 152 52.6 152.5 52.9 153 53.2 153.5 53 154 52.7 154.5 53.1 155 53.1 155.5 53.2 156 52.3 156.5 52.5 157 52.9 157.5 52.5 158 52.6 158.5 52.3 159 51.9 159.5 52.7 160 52.3 160.5 52.9 161 51.8 161.5 52.3 162 53 162.5 52.8 163 53 163.5 52.9 164 52.7 164.5 52 165 52.5 165.5 52.7 166 52.5 166.5 52.7 167 52 167.5 53 168 52.7 168.5 52.6 169 52.8 169.5 52 170 52.8 170.5 52.6 171 53 171.5 51.9 172 52.5 172.5 52.1 173 52.7 173.5 53 174 52.5 174.5 51.8 175 51.7 175.5 52.4 176 51.7 176.5 52.8 177 52.1 177.5 52.5 178 52.2 178.5 52.5 179 51.5 179.5 52.4 180 51.4 180.5 52.6 181 52.1 181.5 52.1 182 51.7 182.5 52.2 183 51.9 183.5 52.5 184 52.1 184.5 51.5 185 52.4 185.5 51.8 186 52.1 186.5 52.2 187 52.2 187.5 51.2 188 51.3 188.5 51.7 189 51.7 189.5 51.2 190 51.3 190.5 50.8 191 50.8 191.5 51.3 192 51.1 192.5 51.2 193 51.4 193.5 51.2 194 50.8 194.5 50.9 195 50.8 195.5 50.9 196 50.2 196.5 50.4 197 51.1 197.5 50.2 198 50 198.5 50 199 50.5 199.5 50.4 200 50.5 200.5 50.6 201 50 201.5 49.4 202 49.4 202.5 49.4 203 49 203.5 49.1 204 49.5 204.5 48.6 205 49 205.5 48.2 206 48.7 206.5 48.7 207 47.8 207.5 48.2 208 47.2 208.5 47.4 209 46.8 209.5 47.1 210 46.4 210.5 45.9 211 45.9 211.5 45.1 212 44.9 212.5 44.3 213 43.5 213.5 42.6 214 41.9 214.5 40.6 215 38.6 215.5 35.3 216 28.2 216.5 8.9 217 2.1 217.5 14.4 218 23.4 218.5 25.7 219 28.1 219.5 30.9 220 33.6 220.5 35.8 221 37.4 221.5 38.8 222 39.8 222.5 40.7 223 41.7 223.5 42.5 224 42.8 224.5 43.8 225 44.4 225.5 44.5 226 44.8 226.5 45.3 227 45.9 227.5 46.4 228 46.2 228.5 46.7 229 47.1 229.5 48 230 48.1 230.5 48.5 231 47.8 231.5 48.7 232 49 232.5 48.7 233 49.3 233.5 49.1 234 48.8 234.5 49 L234.5 52.5 234 52.8 233.5 51.9 233 51.8 232.5 51.3 232 51.4 231.5 51.3 231 51.4 230.5 50.3 230 50.7 229.5 49.7 229 49.4 228.5 49 228 49 227.5 48.2 227 47.9 226.5 47.9 226 47.1 225.5 46.2 225 46.3 224.5 45.4 224 44.5 223.5 43.9 223 42.9 222.5 41.9 222 40.7 221.5 39.5 221 38.1 220.5 36.4 220 34.3 219.5 31.5 219 28.5 218.5 26.3 218 23.9 217.5 15 217 2.1 216.5 9.4 216 28.8 215.5 36 215 39.2 214.5 41.4 214 43.1 213.5 43.8 213 45.1 212.5 46.1 212 46.8 211.5 47.1 211 47.8 210.5 48.1 210 49 209.5 49.3 209 49.3 208.5 50.2 208 50.2 207.5 50.6 207 50.4 206.5 51.4 206 50.8 205.5 51.8 205 52 204.5 52.1 204 52.4 203.5 52.8 203 52.5 202.5 53.2 202 52.9 201.5 53.4 201 52.8 200.5 53.1 200 53.3 199.5 53.9 199 54.2 198.5 53.9 198 54.4 197.5 54.3 197 53.7 196.5 53.7 196 54.4 195.5 53.9 195 54.1 194.5 54.3 194 54.7 193.5 55.3 193 55.3 192.5 54.2 192 54.8 191.5 54.3 191 54.3 190.5 55.4 190 55.6 189.5 54.9 189 55.9 188.5 54.8 188 55.2 187.5 55.1 187 55.9 186.5 56.1 186 54.9 185.5 55.1 185 55.7 184.5 55 184 55.2 183.5 55.4 183 55.6 182.5 55.9 182 55.8 181.5 55.2 181 55.9 180.5 55.9 180 55.6 179.5 56.5 179 56.1 178.5 56.5 178 55.3 177.5 55.6 177 55.5 176.5 56 176 56.2 175.5 56.1 175 56 174.5 56.4 174 55.8 173.5 56.6 173 56.2 172.5 55.8 172 56.1 171.5 56.8 171 56.3 170.5 56.1 170 56.9 169.5 56.1 169 56 168.5 55.8 168 56.1 167.5 55.8 167 55.9 166.5 56.2 166 56 165.5 56.2 165 56 164.5 55.9 164 56.9 163.5 56.3 163 57 162.5 56.3 162 56.3 161.5 57.1 161 57.1 160.5 56.6 160 56.8 159.5 57 159 56.2 158.5 57.2 158 56 157.5 56.9 157 57 156.5 57.2 156 56.8 155.5 55.7 155 57.1 154.5 57 154 56 153.5 56.5 153 56.4 152.5 56.9 152 56.6 151.5 56.6 151 56.2 150.5 56.6 150 57.1 149.5 56.2 149 56.3 148.5 56.8 148 56 147.5 56.1 147 57.1 146.5 57.2 146 56.5 145.5 57 145 56.5 144.5 56.2 144 56.4 143.5 56.1 143 56.7 142.5 57.1 142 56 141.5 57.2 141 56.1 140.5 56.6 140 55.9 139.5 57.2 139 56.4 138.5 56.5 138 56 137.5 56.9 137 56.1 136.5 56.4 136 56.3 135.5 56.8 135 56.3 134.5 56.5 134 56.9 133.5 57 133 56 132.5 57 132 56.3 131.5 56.7 131 56.8 130.5 57.1 130 56 129.5 56.3 129 57 128.5 57 128 56.4 127.5 55.9 127 56.6 126.5 56.9 126 55.7 125.5 56.4 125 56.5 124.5 56.2 124 56.2 123.5 56 123 56.7 122.5 56.2 122 56.2 121.5 56 121 55.9 120.5 56.5 120 55.6 119.5 56.7 119 56.4 118.5 56.8 118 56 117.5 55.5 117 55.8 116.5 56.5 116 55.3 115.5 55.5 115 55.8 114.5 55.2 114 54.9 113.5 54.8 113 55.8 112.5 55.9 112 55.8 111.5 55.6 111 55 110.5 55.2 110 54.5 109.5 54.4 109 54.1 108.5 53.9 108 53 107.5 53.4 107 53.3 106.5 52.3 106 51.4 105.5 51.3 105 50.7 104.5 49.8 104 48.2 103.5 46.7 103 43.5 102.5 38.8 102 33.4 101.5 32.7 101 38.3 100.5 43.5 100 46.7 99.5 49.2 99 50.6 98.5 51.2 98 52.3 97.5 53.2 97 53 96.5 53 96 54 95.5 54.6 95 54.2 94.5 54.9 94 55.5 93.5 55.3 93 55.7 92.5 55.4 92 54.7 91.5 55.4 91 55.8 90.5 55.1 90 55.1 89.5 56.2 89 55.7 88.5 55.4 88 55.3 87.5 55.8 87 55.3 86.5 56.4 86 55.9 85.5 55.9 85 55.5 84.5 55.5 84 55.9 83.5 56.1 83 56.7 82.5 55.9 82 55.9 81.5 56.2 81 56.8 80.5 56.3 80 56.8 79.5 55.5 79 56.6 78.5 55.8 78 56.1 77.5 56.1 77 56.4 76.5 55.8 76 56.3 75.5 55.8 75 55.6 74.5 56 74 56 73.5 55.9 73 55.7 72.5 56.4 72 56.5 71.5 55.9 71 56.7 70.5 56.1 70 56.5 69.5 55.8 69 55.8 68.5 56.5 68 56.6 67.5 55.7 67 56.4 66.5 56.6 66 56.6 65.5 56.6 65 56.6 64.5 56.4 64 56.2 63.5 56.9 63 56.9 62.5 55.9 62 55.7 61.5 56 61 55.8 60.5 56 60 57 59.5 56.9 59 56.2 58.5 55.6 58 56.3 57.5 56.4 57 56 56.5 55.9 56 55.9 55.5 55.9 55 55.8 54.5 55.9 54 56.3 53.5 56.7 53 56.2 52.5 56.5 52 55.7 51.5 56.9 51 55.7 50.5 55.5 50 56 49.5 56.4 49 55.8 48.5 55.9 48 57 47.5 56.4 47 55.7 46.5 55.6 46 56.1 45.5 55.9 45 55.8 44.5 57 44 57 43.5 56.3 43 56.3 42.5 56.4 42 56.1 41.5 55.6 41 56.7 40.5 56.4 40 55.8 39.5 55.6 39 56.8 38.5 56.1ZM340.5 52.1 341 52.6 341.5 51.5 342 51.5 342.5 50.8 343 50.4 343.5 49.9 344 49.2 344.5 46.5 345 39.5 345.5 37 346 44.5 346.5 46.9 347 47 347.5 47.2 348 46.2 348.5 44.6 349 42.9 349.5 41.2 350 41 350.5 42.2 351 44.3 351.5 46.2 352 48.2 352.5 48.8 353 50.3 353.5 50.5 354 50.5 354.5 51.3 355 51.6 355.5 52.2 L355.5 55.4 355 55.6 354.5 54.7 354 54 353.5 53.4 353 53.2 352.5 51.9 352 51 351.5 49.1 351 46.3 350.5 43.7 350 41.7 349.5 42.4 349 44.4 348.5 46.3 348 48.4 347.5 49.7 347 50.3 346.5 49.6 346 46.3 345.5 37.5 345 39.9 344.5 48.8 344 52.2 343.5 53.8 343 54.5 342.5 54.5 342 54.7 341.5 55.6 341 56 340.5 55.9Z" fill="#1818d8" stroke="none"/><path d="M38.5 54.2 L39 54.2 L39.5 54.2 L40 54.2 L40.5 54.2 L41 54.2 L41.5 54.2 L42 54.2 L42.5 54.2 L43 54.2 L43.5 54.2 L44 54.2 L44.5 54.2 L45 54.2 L45.5 54.2 L46 54.2 L46.5 54.2 L47 54.2 L47.5 54.2 L48 54.2 L48.5 54.2 L49 54.2 L49.5 54.3 L50 54.3 L50.5 54.3 L51 54.3 L51.5 54.3 L52 54.3 L52.5 54.3 L53 54.3 L53.5 54.3 L54 54.3 L54.5 54.3 L55 54.3 L55.5 54.3 L56 54.3 L56.5 54.3 L57 54.3 L57.5 54.3 L58 54.3 L58.5 54.3 L59 54.3 L59.5 54.3 L60 54.3 L60.5 54.3 L61 54.3 L61.5 54.3 L62 54.3 L62.5 54.3 L63 54.3 L63.5 54.3 L64 54.3 L64.5 54.3 L65 54.3 L65.5 54.3 L66 54.3 L66.5 54.3 L67 54.3 L67.5 54.3 L68 54.3 L68.5 54.3 L69 54.3 L69.5 54.3 L70 54.3 L70.5 54.3 L71 54.3 L71.5 54.3 L72 54.3 L72.5 54.3 L73 54.3 L73.5 54.3 L74 54.3 L74.5 54.3 L75 54.2 L75.5 54.2 L76 54.2 L76.5 54.2 L77 54.2 L77.5 54.2 L78 54.2 L78.5 54.2 L79 54.2 L79.5 54.2 L80 54.2 L80.5 54.2 L81 54.2 L81.5 54.2 L82 54.1 L82.5 54.1 L83 54.1 L83.5 54.1 L84 54.1 L84.5 54.1 L85 54 L85.5 54 L86 54 L86.5 54 L87 53.9 L87.5 53.9 L88 53.9 L88.5 53.8 L89 53.8 L89.5 53.7 L90 53.7 L90.5 53.6 L91 53.6 L91.5 53.5 L92 53.4 L92.5 53.3 L93 53.2 L93.5 53.1 L94 52.9 L94.5 52.8 L95 52.6 L95.5 52.4 L96 52.1 L96.5 51.8 L97 51.5 L97.5 51.1 L98 50.6 L98.5 49.9 L99 49 L99.5 47.8 L100 45.9 L100.5 42.9 L101 37.9 L101.5 32.4 L102 33.1 L102.5 38.6 L103 42.9 L103.5 45.5 L104 47.1 L104.5 48.2 L105 49.1 L105.5 49.7 L106 50.3 L106.5 50.8 L107 51.2 L107.5 51.6 L108 51.9 L108.5 52.1 L109 52.4 L109.5 52.6 L110 52.8 L110.5 52.9 L111 53.1 L111.5 53.2 L112 53.3 L112.5 53.4 L113 53.5 L113.5 53.6 L114 53.7 L114.5 53.7 L115 53.8 L115.5 53.9 L116 53.9 L116.5 54 L117 54 L117.5 54 L118 54.1 L118.5 54.1 L119 54.1 L119.5 54.2 L120 54.2 L120.5 54.2 L121 54.2 L121.5 54.2 L122 54.3 L122.5 54.3 L123 54.3 L123.5 54.3 L124 54.3 L124.5 54.3 L125 54.4 L125.5 54.4 L126 54.4 L126.5 54.4 L127 54.4 L127.5 54.4 L128 54.4 L128.5 54.4 L129 54.4 L129.5 54.4 L130 54.4 L130.5 54.5 L131 54.5 L131.5 54.5 L132 54.5 L132.5 54.5 L133 54.5 L133.5 54.5 L134 54.5 L134.5 54.5 L135 54.5 L135.5 54.5 L136 54.5 L136.5 54.5 L137 54.5 L137.5 54.5 L138 54.5 L138.5 54.5 L139 54.5 L139.5 54.5 L140 54.5 L140.5 54.5 L141 54.5 L141.5 54.5 L142 54.5 L142.5 54.5 L143 54.5 L143.5 54.5 L144 54.5 L144.5 54.5 L145 54.5 L145.5 54.5 L146 54.5 L146.5 54.5 L147 54.5 L147.5 54.5 L148 54.5 L148.5 54.5 L149 54.5 L149.5 54.5 L150 54.5 L150.5 54.5 L151 54.5 L151.5 54.5 L152 54.5 L152.5 54.5 L153 54.5 L153.5 54.5 L154 54.5 L154.5 54.5 L155 54.5 L155.5 54.5 L156 54.5 L156.5 54.5 L157 54.5 L157.5 54.5 L158 54.5 L158.5 54.5 L159 54.5 L159.5 54.5 L160 54.5 L160.5 54.4 L161 54.4 L161.5 54.4 L162 54.4 L162.5 54.4 L163 54.4 L163.5 54.4 L164 54.4 L164.5 54.4 L165 54.4 L165.5 54.4 L166 54.4 L166.5 54.4 L167 54.3 L167.5 54.3 L168 54.3 L168.5 54.3 L169 54.3 L169.5 54.3 L170 54.3 L170.5 54.3 L171 54.3 L171.5 54.2 L172 54.2 L172.5 54.2 L173 54.2 L173.5 54.2 L174 54.2 L174.5 54.2 L175 54.1 L175.5 54.1 L176 54.1 L176.5 54.1 L177 54.1 L177.5 54.1 L178 54 L178.5 54 L179 54 L179.5 54 L180 53.9 L180.5 53.9 L181 53.9 L181.5 53.9 L182 53.8 L182.5 53.8 L183 53.8 L183.5 53.8 L184 53.7 L184.5 53.7 L185 53.7 L185.5 53.6 L186 53.6 L186.5 53.6 L187 53.5 L187.5 53.5 L188 53.5 L188.5 53.4 L189 53.4 L189.5 53.3 L190 53.3 L190.5 53.2 L191 53.2 L191.5 53.1 L192 53.1 L192.5 53 L193 52.9 L193.5 52.9 L194 52.8 L194.5 52.8 L195 52.7 L195.5 52.6 L196 52.5 L196.5 52.5 L197 52.4 L197.5 52.3 L198 52.2 L198.5 52.1 L199 52 L199.5 51.9 L200 51.8 L200.5 51.7 L201 51.5 L201.5 51.4 L202 51.3 L202.5 51.1 L203 51 L203.5 50.8 L204 50.7 L204.5 50.5 L205 50.3 L205.5 50.1 L206 49.9 L206.5 49.7 L207 49.4 L207.5 49.2 L208 48.9 L208.5 48.6 L209 48.3 L209.5 47.9 L210 47.6 L210.5 47.2 L211 46.7 L211.5 46.2 L212 45.6 L212.5 45 L213 44.3 L213.5 43.4 L214 42.3 L214.5 40.9 L215 38.9 L215.5 35.6 L216 28.5 L216.5 9.1 L217 2.1 L217.5 14.7 L218 23.7 L218.5 26.1 L219 28.3 L219.5 31.2 L220 34 L220.5 36.1 L221 37.8 L221.5 39.1 L222 40.3 L222.5 41.3 L223 42.2 L223.5 43 L224 43.7 L224.5 44.4 L225 45 L225.5 45.6 L226 46.1 L226.5 46.6 L227 47.1 L227.5 47.5 L228 47.8 L228.5 48.2 L229 48.5 L229.5 48.8 L230 49.1 L230.5 49.4 L231 49.6 L231.5 49.8 L232 50.1 L232.5 50.3 L233 50.5 L233.5 50.6 L234 50.8 L234.5 51M340.5 54.1 L341 53.9 L341.5 53.7 L342 53.5 L342.5 53.1 L343 52.7 L343.5 52 L344 50.7 L344.5 47.8 L345 39.7 L345.5 37.2 L346 45.6 L346.5 48.2 L347 48.6 L347.5 48.2 L348 47.2 L348.5 45.7 L349 43.7 L349.5 41.8 L350 41.4 L350.5 43 L351 45.4 L351.5 47.7 L352 49.5 L352.5 50.7 L353 51.6 L353.5 52.3 L354 52.8 L354.5 53.2 L355 53.5 L355.5 53.8M38.5 54.2v-4.1M40.5 54.2v3.3M42 54.2v3.9M42.5 54.2v4.2M43 54.2v4.1M43.5 54.2v3.4M51.5 54.3v3.4M55.5 54.3v4M57 54.3v-3.8M57.5 54.3v4.1M58.5 54.3v-3.8M60.5 54.3v-3.3M61 54.3v-3.2M62.5 54.3v3.1M64 54.3v3.4M68.5 54.3v-3.2M69 54.3v3.1M70 54.3v3.6M71.5 54.3v-3.3M77 54.2v3.1M78.5 54.2v-3.2M79 54.2v4M79.5 54.2v3.2M82 54.1v5M84.5 54.1v4.9M85 54v-3.2M85.5 54v3.5M86.5 54v3.1M87.5 53.9v3.5M90.5 53.6v3.3M91 53.6v3.9M92 53.4v-3.3M92.5 53.3v4.4M93 53.2v4.1M94.5 52.8v3.1M97 51.5v3.3M101 37.9v0.5M103.5 45.5v1.5M104.5 48.2v2M107.5 51.6v2.8M110 52.8v2.8M110.5 52.9v4.2M111 53.1v2.9M114 53.7v4.9M115.5 53.9v3.6M117 54v3.4M118.5 54.1v4.8M120 54.2v3.5M120.5 54.2v-3.9M121 54.2v-3.8M121.5 54.2v3.7M125 54.4v3.4M126.5 54.4v-3.8M128.5 54.4v-3.2M129 54.4v-3.1M129.5 54.4v-3.1M133.5 54.5v-3.8M135 54.5v3.2M137.5 54.5v4M138 54.5v3.1M139 54.5v3.8M140 54.5v3.2M140.5 54.5v3.5M141.5 54.5v3.7M143 54.5v3.7M146 54.5v3.4M147.5 54.5v4.4M148.5 54.5v3.1M150.5 54.5v-3.7M152 54.5v4M153 54.5v2.9M155.5 54.5v4.1M156 54.5v-3.6M157.5 54.5v3.4M159.5 54.5v4.3M160.5 54.4v3.2M162 54.4v-3.8M164 54.4v3.2M164.5 54.4v4.3M165.5 54.4v-4.1M166.5 54.4v-3.9M167 54.3v-3.2M172.5 54.2v-2.9M173 54.2v4.8M173.5 54.2v-3.3M175.5 54.1v-4M176 54.1v3.6M180 53.9v3.5M181 53.9v3.7M182 53.8v3.6M183 53.8v-3.8M183.5 53.8v4.6M186.5 53.6v3.2M187.5 53.5v3.1M193 52.9v3.3M193.5 52.9v2.7M195.5 52.6v3M197 52.4v-3.4M200.5 51.7v-3M201.5 51.4v2.6M202.5 51.1v3.2M203.5 50.8v-2.4M204 50.7v2.9M207 49.4v3.5M207.5 49.2v2.6M208.5 48.6v-2.1M211 46.7v1.6M212 45.6v1.8M212.5 45v2.1M214 42.3v-1.1M214.5 40.9v-0.8M215.5 35.6v0.8M217.5 14.7v0.5M219 28.3v0.5M219.5 31.2v-0.6M220.5 36.1v-0.6M221.5 39.1v0.8M223.5 43v1.2M224 43.7v1.2M224.5 44.4v-1.3M226 46.1v1.5M230.5 49.4v3.6M231 49.6v2.9M341 53.9v4.8M342 53.5v2.7M342.5 53.1v3.1M343 52.7v-2.6M344 50.7v2.5M352.5 50.7v-3.1M354 52.8v-3M355.5 53.8v4.4M235 51.5L235.2 50.2M235 51.5v-2.6M235.5 51.4L235.8 49.4M236.5 52.1L236.9 52.1M236.5 52.1v0M238 51.3L238.5 51.3M238.5 51.8L238.7 49.8M239 52L239.4 52.8M239 52v1.6M240 52.7L240.3 52.7M240 52.7v0M240.5 53L240.8 52.2M240.5 53v-1.6M241.5 52.6L241.7 50.6M241.5 52.6v-4M242 53.2L242.5 51.9M242 53.2v-2.6M242.5 53.2L242.8 54M243.5 52.6L243.7 51.8M244 53.4L244.4 52.1M244.5 52.8L244.9 52M244.5 52.8v-1.6M245 52.8L245.4 52.8M245.5 52.7L245.7 53.5M245.5 52.7v1.6M246 53.1L246.3 53.9M246.5 52.8L246.8 51.5M247 52.9L247.3 52.1M247.5 53.9L248 51.9M247.5 53.9v-4M249 54L249.3 54M249.5 53.5L249.8 52.7M250 53.3L250.4 51.3M250 53.3v-4M251 54L251.4 53.2M252 53.7L252.4 52.9M253.5 53.8L253.7 52.5M254 54.5L254.4 52.5M254 54.5v-4M254.5 54.5L254.7 53.2M254.5 54.5v-2.6M255 54.6L255.4 55.4M255.5 54.3L255.8 54.3M255.5 54.3v0M256.5 54.6L256.9 54.6M257.5 53.9L257.9 52.6M257.5 53.9v-2.6M259 54.8L259.3 53.5M259 54.8v-2.6M260 54.1L260.4 53.3M260.5 54.7L261 53.9M260.5 54.7v-1.6M261 54.9L261.2 53.6M261 54.9v-2.6M261.5 54.6L262 55.4M261.5 54.6v1.6M262 54.3L262.5 53.5M262 54.3v-1.6M262.5 54.2L262.9 55M262.5 54.2v1.6M263 54.9L263.2 54.9M263 54.9v0M263.5 54.5L263.9 53.2M263.5 54.5v-2.6M264 54.7L264.2 55.5M264 54.7v1.6M266.5 54.4L266.7 54.4M267 55L267.4 53M267 55v-4M267.5 54.6L267.9 54.6M267.5 54.6v0M268 54.1L268.5 52.8M268 54.1v-2.6M268.5 54.5L268.7 54.5M269.5 55.1L269.7 53.1M269.5 55.1v-4M271 55.1L271.2 55.1M273 55L273.5 53M273.5 55L274 55M273.5 55v0M274 54.7L274.5 54.7M274 54.7v0M274.5 55.3L274.9 54M274.5 55.3v-2.6M275 54.4L275.4 52.4M275.5 55.2L275.7 56M275.5 55.2v1.6M276.5 55.3L276.9 54.5M277 55.3L277.4 56.1M277 55.3v1.6M277.5 55L278 54.2M277.5 55v-1.6M278 54.6L278.4 53.8M278.5 55.3L278.7 56.1M279 54.4L279.4 55.2M279.5 54.6L279.9 52.6M280 54.4L280.4 53.6M280 54.4v-1.6M281 54.4L281.3 52.4M284 55.5L284.4 56.3M284 55.5v1.6M284.5 54.4L284.8 55.2M285 55.2L285.4 53.2M285.5 54.6L285.9 55.4M286 55.5L286.2 54.7M286.5 54.6L286.8 55.4M287 55.1L287.3 53.8M288 54.5L288.2 55.3M289.5 55.4L290 56.2M289.5 55.4v1.6M290 55.1L290.4 55.1M290 55.1v0M290.5 55.3L290.9 53.3M291 55.5L291.4 56.3M291.5 55.3L291.9 55.3M292 55L292.2 55M292 55v0M292.5 54.7L292.8 55.5M293 54.6L293.3 53.3M293.5 55.6L293.8 54.8M293.5 55.6v-1.6M294 55.3L294.4 54M294.5 55.3L294.9 54M295 54.8L295.4 54M295.5 54.6L296 54.6M295.5 54.6v0M296 54.7L296.3 55.5M296 54.7v1.6M296.5 54.8L296.8 54.8M297 54.9L297.2 53.6M297 54.9v-2.6M297.5 55.6L297.9 54.8M298.5 55.6L298.7 56.4M299 55.6L299.2 54.3M299.5 55.3L300 54M300 55.7L300.3 55.7M300 55.7v0M301 54.6L301.5 52.6M302 55.5L302.2 55.5M303 55.3L303.4 53.3M303.5 55.6L304 54.8M303.5 55.6v-1.6M304 55L304.5 53.7M304.5 55.6L304.9 55.6M304.5 55.6v0M306 54.9L306.3 53.6M306 54.9v-2.6M306.5 55L306.7 53.7M307 55.2L307.4 56M307 55.2v1.6M307.5 55.5L307.8 54.2M307.5 55.5v-2.6M308 55.1L308.3 54.3M308.5 55L308.8 55M308.5 55v0M309.5 55.2L309.9 55.2M311 54.9L311.3 54.1M311 54.9v-1.6M313 55.5L313.4 54.7M313 55.5v-1.6M313.5 54.9L313.8 54.1M315 55.3L315.4 55.3M315 55.3v0M315.5 55.3L315.9 54M316.5 55.2L316.7 53.9M317 55L317.2 53M317 55v-4M318 55.3L318.3 54M318.5 54.8L318.9 55.6M318.5 54.8v1.6M320.5 54.9L321 52.9M321.5 55L322 55M321.5 55v0M323.5 55.6L323.7 56.4M323.5 55.6v1.6M324.5 55.6L324.7 54.8M324.5 55.6v-1.6M325 55.4L325.4 56.2M326 55.1L326.3 53.1M326 55.1v-4M327.5 55.3L328 55.3M327.5 55.3v0M328.5 54.9L328.9 52.9M329 55L329.2 53M329 55v-4M329.5 55.3L329.9 56.1M330 55L330.2 55M330 55v0M331 54.8L331.2 54M331.5 55.4L332 54.6M331.5 55.4v-1.6M332 54.8L332.5 54.8M332.5 55.6L332.8 54.3M332.5 55.6v-2.6M333.5 55.2L333.8 54.4M333.5 55.2v-1.6M336.5 54.3L336.7 53.5M337.5 54.6L337.9 55.4M338.5 54.8L338.7 55.6M339 54.6L339.4 52.6M339 54.6v-4M339.5 53.9L339.8 54.7M339.5 53.9v1.6M340 54.8L340.2 54.8M356 53.4L356.4 54.2M356.5 54.2L356.8 53.4M356.5 54.2v-1.6M357.5 54.2L358 52.9M358 54.1L358.2 52.1M359.5 54.6L359.8 52.6M360 54.3L360.2 54.3M360.5 55.5L360.7 54.7M360.5 55.5v-1.6M361.5 55.5L361.7 55.5M363.5 55.4L363.7 55.4M363.5 55.4v0M364 54.7L364.2 55.5M364 54.7v1.6M365 54.9L365.5 54.1M365 54.9v-1.6M365.5 55L365.7 55M365.5 55v0M366 55L366.2 53M366 55v-4M366.5 55L367 55.8M368 54.9L368.3 55.7M368 54.9v1.6M369 55.1L369.5 53.8M369.5 56L369.8 55.2M369.5 56v-1.6M370 55.9L370.5 53.9M370.5 55.9L370.9 53.9M371 55.4L371.4 54.1M371 55.4v-2.6M371.5 56L372 55.2M372.5 54.9L372.8 53.6M373 55.2L373.2 53.9M375 55.5L375.2 54.7M375 55.5v-1.6M376 55.8L376.3 55.8M376 55.8v0M376.5 56.1L376.8 56.1M377 55.5L377.2 54.2" fill="none" stroke="#1818d8" stroke-width="0.9" stroke-linejoin="round"/><path d="M86 39 86.5 38.3 87 39.4 87.5 38.2 88 39.1 88.5 38.9 89 38.2 89.5 38.8 90 38.5 90.5 39.1 91 38 91.5 38.2 92 38.4 92.5 37.7 93 38.2 93.5 37.8 94 38.1 94.5 37.5 95 37.6 95.5 37.2 96 36.4 96.5 36.6 97 36 97.5 34.9 98 34.4 98.5 34 99 33.3 99.5 32.3 100 30.5 100.5 27.3 101 21.9 101.5 16.4 102 17.1 102.5 19 103 20.9 103.5 23.6 104 27 104.5 29.2 105 31 105.5 32.6 106 33.1 106.5 33.7 107 34.6 107.5 35.5 108 35.3 108.5 36.1 109 36.4 109.5 36.5 110 37.5 110.5 36.9 111 37.2 111.5 37.3 112 38.3 112.5 37.6 113 38.6 113.5 38.9 114 37.9 114.5 38 115 38.1 115.5 38.8 116 39.1 116.5 39.6 117 38.8 117.5 38.7 118 38.6 118.5 39.5 119 39.6 119.5 39.1 120 38.9 120.5 38.7 121 39.9 121.5 39.5 122 38.9 122.5 39.7 123 39.5 123.5 40.3 124 39.4 124.5 39.1 125 39.2 125.5 39.2 126 39.5 126.5 40.2 127 39.4 127.5 40.3 128 39.4 128.5 40.5 129 39.4 129.5 40.4 130 40.1 130.5 40.2 131 39.7 131.5 40.5 132 40.2 132.5 40.8 133 40.4 133.5 40.2 134 40.7 134.5 39.9 135 40.3 135.5 39.8 136 39.9 136.5 40.2 137 39.6 137.5 40 138 39.7 138.5 40.4 139 40.1 139.5 40.6 140 39.5 140.5 40.6 141 40.6 141.5 40.9 142 40.6 142.5 39.9 143 40 143.5 40.8 144 40.5 144.5 40.4 145 40 145.5 40.4 146 40.2 146.5 39.8 147 40 147.5 40.5 148 40.4 148.5 40.5 149 40.9 149.5 40.8 150 40.7 150.5 40.6 151 40.6 151.5 40.2 152 39.6 152.5 39.9 153 39.9 153.5 40 154 40.2 154.5 39.7 155 40.1 155.5 40.3 156 41 156.5 40.4 157 40.8 157.5 40.9 158 40.3 158.5 39.9 159 40.6 159.5 39.9 160 40.3 160.5 40.9 161 39.6 161.5 40.5 162 40.6 162.5 39.8 163 40.9 163.5 40 164 40.8 164.5 40.5 165 40.7 165.5 39.8 166 40.5 166.5 39.6 167 40.1 167.5 40 168 40.2 168.5 40.6 169 40.4 169.5 39.6 170 40.7 170.5 39.5 171 39.9 171.5 40.4 172 40 172.5 40.4 173 40.4 173.5 40.2 174 40.9 174.5 40.2 175 39.5 175.5 40.5 176 39.8 176.5 40.2 177 40.5 177.5 39.5 178 40.8 178.5 40.4 179 39.3 179.5 40.4 180 39.5 180.5 39.9 181 39.6 181.5 39.8 182 40.2 182.5 39.6 183 40.6 183.5 40 184 40.1 184.5 39.9 185 40.4 185.5 40.2 186 39.7 186.5 39.9 187 39.3 187.5 39.6 188 39.2 188.5 39.4 189 39.5 189.5 39.9 190 39.2 190.5 39.9 191 40.1 191.5 38.8 192 39.4 192.5 39 193 39.3 193.5 39.2 194 39.9 194.5 39.7 195 38.9 195.5 39 196 39.5 196.5 38.4 197 39.4 197.5 38.9 198 39.3 198.5 38.5 199 39 199.5 39.1 200 39.2 200.5 38.9 201 38.8 201.5 38.3 202 38.3 202.5 37.5 203 37.4 203.5 37.5 204 37.6 204.5 37.2 205 37 205.5 38 206 37.7 206.5 37.3 207 37.4 207.5 36.7 208 36.9 208.5 36.6 209 36.4 209.5 36.4 210 35.4 210.5 35.3 211 35 211.5 35.2 212 34.5 212.5 33.8 213 33.8 213.5 33 214 32.6 214.5 31.6 215 30.1 215.5 27.8 216 22.2 216.5 6.5 217 2.1 217.5 13.2 218 21.7 218.5 24.1 219 24.4 219.5 23.4 220 21.8 220.5 19.4 221 16.5 221.5 14.5 222 15.3 222.5 18.5 223 22.5 223.5 25.9 224 28 224.5 29.7 225 31.2 225.5 32.3 226 32.8 226.5 33.8 227 33.9 227.5 34.4 228 35.4 228.5 35 229 35.3 229.5 35.5 230 36 230.5 36.2 231 37 231.5 37.4 232 37.6 232.5 36.7 233 37.2 233.5 37 234 37.9 234.5 37.5 235 38.5 235.5 38.5 236 38.5 236.5 38.3 237 38.4 237.5 38.5 238 38.7 238.5 38.6 239 38.2 239.5 38.9 L239.5 42.8 239 42.4 238.5 41.7 238 42.4 237.5 42.1 237 41.3 236.5 41.8 236 41.7 235.5 41.4 235 40.8 234.5 41 234 40.4 233.5 40.5 233 40.3 232.5 40.7 232 40.5 231.5 39.5 231 39.8 230.5 39.6 230 38.6 229.5 38.2 229 38.5 228.5 38.1 228 37.3 227.5 37.2 227 36.4 226.5 35.5 226 35 225.5 34 225 32.3 224.5 30.8 224 28.9 223.5 26.3 223 23.1 222.5 19.3 222 15.9 221.5 15.1 221 17 220.5 20 220 22.5 219.5 24 219 24.8 218.5 24.5 218 22.4 217.5 13.6 217 2.1 216.5 7.3 216 23 215.5 28.4 215 31.1 214.5 32.9 214 34.3 213.5 34.7 213 35.9 212.5 36.4 212 37 211.5 37 211 37.5 210.5 38.3 210 38.8 209.5 38.9 209 38.8 208.5 39.2 208 39.8 207.5 39.7 207 40.5 206.5 40.6 206 40.8 205.5 40.5 205 40.9 204.5 41 204 41.1 203.5 41 203 41.3 202.5 41 202 41.8 201.5 41.4 201 41.6 200.5 42.5 200 41.7 199.5 41.8 199 42.6 198.5 42.7 198 41.9 197.5 43 197 42.9 196.5 42.8 196 42.3 195.5 43 195 43.3 194.5 42.5 194 43.3 193.5 42.9 193 42.5 192.5 42.7 192 42.9 191.5 43.8 191 43.8 190.5 43.7 190 43.3 189.5 42.8 189 43.2 188.5 43.5 188 43.2 187.5 43.5 187 44.2 186.5 44 186 43.6 185.5 43 185 43.6 184.5 43.3 184 44.2 183.5 43.8 183 43.7 182.5 43.8 182 43.9 181.5 43.4 181 44.3 180.5 44 180 43.6 179.5 43.5 179 43.4 178.5 44.3 178 43.5 177.5 43.2 177 43.9 176.5 44.5 176 44 175.5 43.4 175 43.4 174.5 44.1 174 44.2 173.5 44.7 173 44.7 172.5 44.6 172 44.7 171.5 44.2 171 43.9 170.5 44.4 170 43.5 169.5 43.9 169 43.7 168.5 43.8 168 44.9 167.5 44.6 167 43.5 166.5 43.8 166 44 165.5 44 165 43.8 164.5 44.5 164 44 163.5 44.7 163 43.8 162.5 44.2 162 44.1 161.5 45 161 43.9 160.5 44.9 160 44.8 159.5 44.6 159 45 158.5 44.5 158 44.9 157.5 44.8 157 44.1 156.5 44.4 156 44.1 155.5 44.7 155 44.3 154.5 44.6 154 43.9 153.5 44.9 153 44.3 152.5 44.1 152 44.9 151.5 44.2 151 43.9 150.5 44.3 150 44.4 149.5 44.3 149 43.7 148.5 44.3 148 44.8 147.5 43.7 147 43.6 146.5 43.6 146 43.6 145.5 43.8 145 43.8 144.5 44 144 44.4 143.5 43.9 143 44.7 142.5 43.7 142 44.6 141.5 44.8 141 43.6 140.5 43.7 140 44.2 139.5 44.6 139 44.2 138.5 44.4 138 44.4 137.5 44.4 137 44.7 136.5 44.7 136 44.5 135.5 43.4 135 44.8 134.5 44.7 134 44.7 133.5 43.7 133 43.4 132.5 44.3 132 44.1 131.5 43.7 131 44.2 130.5 43.7 130 43.9 129.5 44 129 43.7 128.5 43.8 128 43.6 127.5 43.2 127 44.3 126.5 43.6 126 43.6 125.5 43.5 125 43.9 124.5 44.1 124 43.6 123.5 43.8 123 43.2 122.5 43.7 122 43.1 121.5 43.1 121 42.6 120.5 43 120 43.5 119.5 42.7 119 42.7 118.5 42.3 118 43.2 117.5 42.3 117 42 116.5 42.5 116 42.7 115.5 42.8 115 41.8 114.5 42.6 114 42.6 113.5 42.2 113 41.8 112.5 41.1 112 41.8 111.5 40.9 111 40.9 110.5 40.3 110 39.8 109.5 39.3 109 39.9 108.5 38.9 108 38.1 107.5 37.8 107 37.3 106.5 36.9 106 35.5 105.5 34.2 105 32.4 104.5 30.6 104 27.6 103.5 24.4 103 21.6 102.5 19.7 102 17.7 101.5 17 101 22.5 100.5 28.3 100 32.1 99.5 34.5 99 35.9 98.5 36.6 98 38.1 97.5 38.1 97 38.8 96.5 39.7 96 39.4 95.5 39.6 95 41.1 94.5 40.9 94 40.9 93.5 41 93 41.8 92.5 41.2 92 42.3 91.5 41.5 91 41.7 90.5 42.7 90 42.8 89.5 42.2 89 42.5 88.5 42.8 88 42.1 87.5 42.8 87 42.8 86.5 42.3 86 42.7Z" fill="#48168c" stroke="none"/><path d="M86 40.9 L86.5 40.9 L87 40.8 L87.5 40.8 L88 40.7 L88.5 40.6 L89 40.6 L89.5 40.5 L90 40.4 L90.5 40.3 L91 40.2 L91.5 40.1 L92 40 L92.5 39.8 L93 39.7 L93.5 39.5 L94 39.3 L94.5 39.1 L95 38.9 L95.5 38.6 L96 38.2 L96.5 37.9 L97 37.4 L97.5 36.9 L98 36.3 L98.5 35.5 L99 34.5 L99.5 33.1 L100 31.1 L100.5 27.8 L101 22.2 L101.5 16.6 L102 17.5 L102.5 19.4 L103 21.2 L103.5 24 L104 27.2 L104.5 29.8 L105 31.8 L105.5 33.3 L106 34.4 L106.5 35.3 L107 36 L107.5 36.7 L108 37.2 L108.5 37.6 L109 38 L109.5 38.3 L110 38.6 L110.5 38.9 L111 39.2 L111.5 39.4 L112 39.6 L112.5 39.7 L113 39.9 L113.5 40.1 L114 40.2 L114.5 40.3 L115 40.4 L115.5 40.6 L116 40.7 L116.5 40.7 L117 40.8 L117.5 40.9 L118 41 L118.5 41.1 L119 41.1 L119.5 41.2 L120 41.2 L120.5 41.3 L121 41.3 L121.5 41.4 L122 41.4 L122.5 41.5 L123 41.5 L123.5 41.5 L124 41.6 L124.5 41.6 L125 41.7 L125.5 41.7 L126 41.7 L126.5 41.7 L127 41.8 L127.5 41.8 L128 41.8 L128.5 41.8 L129 41.9 L129.5 41.9 L130 41.9 L130.5 41.9 L131 41.9 L131.5 42 L132 42 L132.5 42 L133 42 L133.5 42 L134 42 L134.5 42 L135 42.1 L135.5 42.1 L136 42.1 L136.5 42.1 L137 42.1 L137.5 42.1 L138 42.1 L138.5 42.1 L139 42.2 L139.5 42.2 L140 42.2 L140.5 42.2 L141 42.2 L141.5 42.2 L142 42.2 L142.5 42.2 L143 42.2 L143.5 42.2 L144 42.2 L144.5 42.3 L145 42.3 L145.5 42.3 L146 42.3 L146.5 42.3 L147 42.3 L147.5 42.3 L148 42.3 L148.5 42.3 L149 42.3 L149.5 42.3 L150 42.3 L150.5 42.3 L151 42.3 L151.5 42.3 L152 42.3 L152.5 42.3 L153 42.3 L153.5 42.3 L154 42.3 L154.5 42.3 L155 42.3 L155.5 42.3 L156 42.3 L156.5 42.3 L157 42.3 L157.5 42.3 L158 42.3 L158.5 42.3 L159 42.3 L159.5 42.3 L160 42.3 L160.5 42.3 L161 42.3 L161.5 42.3 L162 42.3 L162.5 42.3 L163 42.3 L163.5 42.3 L164 42.3 L164.5 42.3 L165 42.3 L165.5 42.3 L166 42.3 L166.5 42.2 L167 42.2 L167.5 42.2 L168 42.2 L168.5 42.2 L169 42.2 L169.5 42.2 L170 42.2 L170.5 42.2 L171 42.2 L171.5 42.2 L172 42.2 L172.5 42.2 L173 42.1 L173.5 42.1 L174 42.1 L174.5 42.1 L175 42.1 L175.5 42.1 L176 42.1 L176.5 42.1 L177 42.1 L177.5 42 L178 42 L178.5 42 L179 42 L179.5 42 L180 42 L180.5 41.9 L181 41.9 L181.5 41.9 L182 41.9 L182.5 41.9 L183 41.8 L183.5 41.8 L184 41.8 L184.5 41.8 L185 41.8 L185.5 41.7 L186 41.7 L186.5 41.7 L187 41.6 L187.5 41.6 L188 41.6 L188.5 41.6 L189 41.5 L189.5 41.5 L190 41.4 L190.5 41.4 L191 41.4 L191.5 41.3 L192 41.3 L192.5 41.2 L193 41.2 L193.5 41.1 L194 41.1 L194.5 41 L195 41 L195.5 40.9 L196 40.9 L196.5 40.8 L197 40.7 L197.5 40.7 L198 40.6 L198.5 40.5 L199 40.4 L199.5 40.4 L200 40.3 L200.5 40.2 L201 40.1 L201.5 40 L202 39.9 L202.5 39.8 L203 39.7 L203.5 39.5 L204 39.4 L204.5 39.3 L205 39.1 L205.5 39 L206 38.8 L206.5 38.6 L207 38.5 L207.5 38.3 L208 38.1 L208.5 37.8 L209 37.6 L209.5 37.3 L210 37 L210.5 36.7 L211 36.4 L211.5 36 L212 35.6 L212.5 35.1 L213 34.6 L213.5 33.9 L214 33.1 L214.5 32.1 L215 30.6 L215.5 28.1 L216 22.5 L216.5 6.9 L217 2.1 L217.5 13.4 L218 22 L218.5 24.3 L219 24.6 L219.5 23.8 L220 22.2 L220.5 19.7 L221 16.8 L221.5 14.8 L222 15.6 L222.5 18.9 L223 22.8 L223.5 26.1 L224 28.5 L224.5 30.4 L225 31.8 L225.5 32.9 L226 33.8 L226.5 34.5 L227 35.1 L227.5 35.7 L228 36.2 L228.5 36.6 L229 36.9 L229.5 37.3 L230 37.6 L230.5 37.9 L231 38.1 L231.5 38.4 L232 38.6 L232.5 38.8 L233 39 L233.5 39.1 L234 39.3 L234.5 39.5 L235 39.6 L235.5 39.8 L236 39.9 L236.5 40 L237 40.1 L237.5 40.2 L238 40.3 L238.5 40.4 L239 40.5 L239.5 40.6M87.5 40.8v-3.8M90.5 40.3v3.5M93 39.7v3.6M94.5 39.1v3.4M95.5 38.6v3.5M98.5 35.5v2.6M104 27.2v-0.5M106 34.4v1.9M107.5 36.7v2.6M111.5 39.4v-3.6M115.5 40.6v3.4M117 40.8v3.3M117.5 40.9v3.8M118.5 41.1v-3.2M124.5 41.6v3.7M126.5 41.7v3.2M128.5 41.8v3.1M132.5 42v3.5M134.5 42v4M143 42.2v-3.7M144 42.2v4.1M144.5 42.3v3.6M146 42.3v3.8M146.5 42.3v-3.8M147.5 42.3v4.1M148 42.3v3.6M150.5 42.3v-3.7M153 42.3v4M154 42.3v3.9M154.5 42.3v4.4M156.5 42.3v4.1M157 42.3v3.7M160.5 42.3v-3.1M163 42.3v3M163.5 42.3v-3.3M165.5 42.3v3M167.5 42.2v3.4M168 42.2v3.1M170.5 42.2v3M173.5 42.1v-3.8M176 42.1v3.1M176.5 42.1v4.5M179 42v3.7M180 42v3.2M181.5 41.9v3.9M183 41.8v2.9M184.5 41.8v-2.8M185 41.8v3.9M186.5 41.7v2.9M188.5 41.6v3.5M189.5 41.5v3.5M191 41.4v2.9M192 41.3v3.7M193 41.2v4.3M198 40.6v3.8M199 40.4v-2.8M201 40.1v3.8M202 39.9v-2.6M205 39.1v4M205.5 39v2.9M207 38.5v2.3M211.5 36v-2.3M213.5 33.9v-1.9M217.5 13.4v0.5M218.5 24.3v0.7M219.5 23.8v0.6M220 22.2v-0.6M220.5 19.7v0.7M221 16.8v0.7M224 28.5v0.7M228 36.2v2.7M228.5 36.6v2.1M230 37.6v2.9M233 39v4.1M237 40.1v2.7M238 40.3v2.6M238.5 40.4v3.3M240 40.3L240.2 40.3M240 40.3v0M241 41.3L241.5 42.1M241 41.3v1.6M243 40.8L243.2 40M243 40.8v-1.6M243.5 40.8L244 38.8M243.5 40.8v-4M244 41.4L244.4 40.1M244.5 41.7L244.8 42.5M244.5 41.7v1.6M245.5 41.1L246 39.8M246 41.9L246.3 40.6M246 41.9v-2.6M246.5 41.2L246.8 42M247.5 41.1L248 41.1M248 42.1L248.3 41.3M249.5 41.3L249.7 40M250 41.7L250.4 42.5M250.5 41.8L251 40.5M250.5 41.8v-2.6M251 41.7L251.3 39.7M251.5 41.8L251.8 40.5M251.5 41.8v-2.6M252 41.9L252.3 42.7M252 41.9v1.6M253 41.7L253.4 40.4M253 41.7v-2.6M254 42L254.3 40.7M254 42v-2.6M255 42L255.2 40M256 42.5L256.4 41.2M256 42.5v-2.6M257 42.2L257.2 42.2M258 41.8L258.4 42.6M258 41.8v1.6M258.5 42L258.8 41.2M258.5 42v-1.6M259 42.3L259.3 43.1M259.5 42.6L259.8 40.6M259.5 42.6v-4M260 43L260.4 42.2M260.5 42.8L260.9 42M260.5 42.8v-1.6M261.5 42.8L261.7 40.8M261.5 42.8v-4M262 42.2L262.2 40.9M262.5 42.6L262.9 41.8M264 42.6L264.4 41.8M264 42.6v-1.6M266 42.9L266.3 41.6M266.5 42.1L266.9 40.8M267.5 43.1L267.7 41.8M267.5 43.1v-2.6M268 42.8L268.4 40.8M268 42.8v-4M268.5 43.2L268.7 41.2M268.5 43.2v-4M269 42.9L269.3 42.1M269 42.9v-1.6M269.5 43.3L269.8 42M270 43.1L270.2 41.1M270 43.1v-4M270.5 42.8L270.7 42M271 42.4L271.2 43.2M272 43.1L272.4 43.9M272 43.1v1.6M273 43.2L273.4 44M273 43.2v1.6M274 42.6L274.3 43.4M274 42.6v1.6M274.5 42.6L274.8 40.6M275 43.2L275.2 43.2M275 43.2v0M276 43.1L276.4 41.8M276.5 42.8L276.7 43.6M276.5 42.8v1.6M277 43L277.3 43.8M277 43v1.6M278 42.7L278.4 41.9M278 42.7v-1.6M278.5 42.8L278.9 43.6M279.5 42.9L279.8 40.9M281 42.8L281.3 40.8M281 42.8v-4M281.5 43L281.9 42.2M282.5 43.5L282.7 41.5M283 43L283.3 41M283.5 42.5L283.8 43.3M283.5 42.5v1.6M284 42.9L284.2 43.7M284.5 42.7L284.9 42.7M284.5 42.7v0M285 43.5L285.4 41.5M285 43.5v-4M285.5 42.8L285.7 40.8M286 43.2L286.5 44M286 43.2v1.6M286.5 42.7L286.8 41.9M286.5 42.7v-1.6M287.5 43.3L287.9 44.1M288 43L288.2 41.7M288.5 43.3L288.9 43.3M289 42.7L289.2 41.4M289 42.7v-2.6M290 43.3L290.4 42M290 43.3v-2.6M290.5 43.5L290.7 41.5M291.5 43.2L291.7 44M291.5 43.2v1.6M292 43.5L292.4 41.5M294 43.4L294.3 43.4M294.5 43.3L294.7 43.3M294.5 43.3v0M295 42.7L295.2 43.5M295 42.7v1.6M295.5 43.7L295.8 44.5M295.5 43.7v1.6M296 43.2L296.5 43.2M297.5 43.5L297.9 42.2M298 43.3L298.4 42M298 43.3v-2.6M300.5 43.6L300.8 42.3M300.5 43.6v-2.6M301.5 43L301.9 43M302 43.2L302.3 43.2M302 43.2v0M302.5 43.7L302.7 42.9M302.5 43.7v-1.6M303 43.4L303.3 43.4M303.5 43L303.8 42.2M303.5 43v-1.6M304 43.4L304.4 42.6M304.5 43.3L304.8 42.5M305 42.9L305.5 40.9M305 42.9v-4" fill="none" stroke="#48168c" stroke-width="0.9" stroke-linejoin="round"/><rect x="33.5" y="1.5" width="349" height="160.7" fill="none" stroke="#111" stroke-width="1.1"/><path d="M38.7 162.2v-3M38.7 1.5v1.8M62.9 162.2v-2M62.9 1.5v1.2M87.1 162.2v-3M87.1 1.5v1.8M111.3 162.2v-2M111.3 1.5v1.2M135.5 162.2v-3M135.5 1.5v1.8M159.7 162.2v-2M159.7 1.5v1.2M183.9 162.2v-3M183.9 1.5v1.8M208.1 162.2v-2M208.1 1.5v1.2M232.3 162.2v-3M232.3 1.5v1.8M256.5 162.2v-2M256.5 1.5v1.2M280.7 162.2v-3M280.7 1.5v1.8M304.9 162.2v-2M304.9 1.5v1.2M329.1 162.2v-3M329.1 1.5v1.8M353.3 162.2v-2M353.3 1.5v1.2M377.5 162.2v-3M377.5 1.5v1.8M33.5 7.7h2M382.5 7.7h-2M33.5 13.9h2M382.5 13.9h-2M33.5 20.1h2M382.5 20.1h-2M33.5 26.3h2M382.5 26.3h-2M33.5 32.5h2M382.5 32.5h-2M33.5 38.7h2M382.5 38.7h-2M33.5 44.9h2M382.5 44.9h-2M33.5 51.1h2M382.5 51.1h-2M33.5 57.3h2M382.5 57.3h-2M33.5 63.5h2M382.5 63.5h-2M33.5 69.7h2M382.5 69.7h-2M33.5 75.9h2M382.5 75.9h-2M33.5 82.1h2M382.5 82.1h-2M33.5 88.3h2M382.5 88.3h-2M33.5 94.5h2M382.5 94.5h-2M33.5 100.7h2M382.5 100.7h-2M33.5 106.9h2M382.5 106.9h-2M33.5 113.1h2M382.5 113.1h-2M33.5 119.3h2M382.5 119.3h-2M33.5 125.5h2M382.5 125.5h-2M33.5 131.7h2M382.5 131.7h-2M33.5 137.9h2M382.5 137.9h-2M33.5 144.1h2M382.5 144.1h-2M33.5 150.3h2M382.5 150.3h-2M33.5 156.5h2M382.5 156.5h-2" stroke="#111" stroke-width="1" fill="none"/><text x="38.9" y="173.2" font-size="9" text-anchor="middle" font-family="Liberation Sans, Arial, sans-serif">10</text><text x="87.3" y="173.2" font-size="9" text-anchor="middle" font-family="Liberation Sans, Arial, sans-serif">20</text><text x="135.7" y="173.2" font-size="9" text-anchor="middle" font-family="Liberation Sans, Arial, sans-serif">30</text><text x="184.1" y="173.2" font-size="9" text-anchor="middle" font-family="Liberation Sans, Arial, sans-serif">40</text><text x="232.5" y="173.2" font-size="9" text-anchor="middle" font-family="Liberation Sans, Arial, sans-serif">50</text><text x="280.9" y="173.2" font-size="9" text-anchor="middle" font-family="Liberation Sans, Arial, sans-serif">60</text><text x="329.3" y="173.2" font-size="9" text-anchor="middle" font-family="Liberation Sans, Arial, sans-serif">70</text><text x="377.7" y="173.2" font-size="9" text-anchor="middle" font-family="Liberation Sans, Arial, sans-serif">80</text><text x="207.5" y="183.6" font-size="8.8" text-anchor="middle" font-family="Liberation Sans, Arial, sans-serif">2<tspan font-family="Liberation Serif, serif">θ</tspan> (deg)</text><text transform="translate(18.2,80.6) rotate(-90)" font-size="8.9" text-anchor="middle" font-family="Liberation Sans, Arial, sans-serif">Log<tspan font-size="6.3" dy="2">10</tspan><tspan dy="-2">Intensity (arb. units)</tspan></text><text x="52.9" y="36.6" font-size="10" fill="#5632a4" stroke="#5632a4" font-family="Liberation Sans, Arial, sans-serif">As dep.</text><text x="55.8" y="49.3" font-size="10" fill="#3434dc" stroke="#3434dc" font-family="Liberation Sans, Arial, sans-serif">500°C</text><text x="55.8" y="67.8" font-size="10" fill="#347434" stroke="#347434" font-family="Liberation Sans, Arial, sans-serif">510°C</text><text x="55.8" y="85.7" font-size="10" fill="#74742a" stroke="#74742a" font-family="Liberation Sans, Arial, sans-serif">520°C</text><text x="55.8" y="105.1" font-size="10" fill="#f09438" stroke="#f09438" font-family="Liberation Sans, Arial, sans-serif">530°C</text><text x="55.8" y="121.6" font-size="10" fill="#dc2a30" stroke="#dc2a30" font-family="Liberation Sans, Arial, sans-serif">540°C</text><text x="104.2" y="18.6" font-size="9.8" fill="#222" font-family="Liberation Sans, Arial, sans-serif" >(001)<tspan font-size="6.4" dy="1.2">P</tspan></text><text x="222.8" y="16.6" font-size="9.8" fill="#222" font-family="Liberation Sans, Arial, sans-serif" >(002)<tspan font-size="6.4" dy="1.4">P</tspan></text><text x="342.4" y="28.6" font-size="9.5" fill="#222" font-family="Liberation Sans, Arial, sans-serif" >(003)<tspan font-size="6.4" dy="1.4">P</tspan></text><text x="96.5" y="20" font-size="11" font-family="Liberation Sans, Arial, sans-serif">*</text><text x="210.9" y="11.9" font-size="11" font-family="Liberation Sans, Arial, sans-serif">*</text><text x="341" y="39" font-size="10" font-family="Liberation Sans, Arial, sans-serif">*</text><text x="270.8" y="14.3" font-size="10.1" fill="#222" font-family="Liberation Sans, Arial, sans-serif">La<tspan font-size="6.7" dy="2">0.5</tspan><tspan dy="-2">Sr</tspan><tspan font-size="6.7" dy="2">0.5</tspan><tspan dy="-2">CoO</tspan><tspan font-size="6.7" dy="2">3-δ</tspan></text><text x="365.1" y="14.3" font-size="9.8" fill="#222" font-family="Liberation Sans, Arial, sans-serif">(a)</text><path d="M357.6 29.4 L354.3 39.8" stroke="#111" stroke-width="0.9"/><path d="M353.5 42.4 L352.9 39 L355.9 40 Z" fill="#111"/><text x="34.4" y="139.2" font-size="10.3" fill="#222" font-family="Liberation Sans, Arial, sans-serif" >(002)<tspan font-size="6.3" dy="1.8">BM</tspan></text><text x="78.1" y="140.4" font-size="10.3" fill="#222" font-family="Liberation Sans, Arial, sans-serif" >(004)<tspan font-size="6.3" dy="2.2">BM</tspan></text><text x="142.3" y="142.5" font-size="10.4" fill="#222" font-family="Liberation Sans, Arial, sans-serif" >(006)<tspan font-size="6.3" dy="2">BM</tspan></text><text x="194.4" y="136.4" font-size="10.4" fill="#222" font-family="Liberation Sans, Arial, sans-serif" >(008)<tspan font-size="6.3" dy="2.4">BM</tspan></text><text x="256.5" y="143.7" font-size="10.3" fill="#222" font-family="Liberation Sans, Arial, sans-serif">(00<tspan text-decoration="underline">10</tspan>)<tspan font-size="6.3" dy="1.2">BM</tspan></text><text x="316.7" y="150.4" font-size="9.9" fill="#222" font-family="Liberation Sans, Arial, sans-serif">(00<tspan text-decoration="underline">12</tspan>)<tspan font-size="6.3" dy="2.4">BM</tspan></text><text x="109.2" y="153.1" font-size="9.4" fill="#222" font-family="Liberation Sans, Arial, sans-serif" >SrCoO<tspan font-size="7" dy="3">2.5</tspan></text><path d="M407.3 116.45L407.6 116.44L407.8 116.44L408.1 116.44L408.3 116.44L408.6 116.44L408.8 116.43L409.1 116.43L409.3 116.43L409.6 116.43L409.8 116.42L410.1 116.42L410.3 116.42L410.6 116.42L410.8 116.41L411.1 116.41L411.3 116.41L411.6 116.41L411.8 116.40L412.1 116.40L412.3 116.40L412.6 116.40L412.8 116.39L413.1 116.39L413.3 116.39L413.6 116.38L413.8 116.38L414.1 116.38L414.3 116.37L414.6 116.37L414.8 116.37L415.1 116.36L415.3 116.36L415.6 116.36L415.8 116.35L416.1 116.35L416.3 116.34L416.6 116.34L416.8 116.34L417.1 116.33L417.3 116.33L417.6 116.32L417.8 116.32L418.1 116.31L418.3 116.31L418.6 116.30L418.8 116.30L419.1 116.29L419.3 116.29L419.6 116.28L419.8 116.28L420.1 116.27L420.3 116.26L420.6 116.26L420.8 116.25L421.1 116.25L421.3 116.24L421.6 116.23L421.8 116.22L422.1 116.22L422.3 116.21L422.6 116.20L422.8 116.19L423.1 116.19L423.3 116.18L423.6 116.17L423.8 116.16L424.1 116.15L424.3 116.14L424.6 116.13L424.8 116.12L425.1 116.11L425.3 116.10L425.6 116.09L425.8 116.08L426.1 116.06L426.3 116.05L426.6 116.04L426.8 116.02L427.1 116.01L427.3 116.00L427.6 115.98L427.8 115.97L428.1 115.95L428.3 115.93L428.6 115.92L428.8 115.90L429.1 115.88L429.3 115.86L429.6 115.84L429.8 115.82L430.1 115.80L430.3 115.77L430.6 115.75L430.8 115.72L431.1 115.70L431.3 115.67L431.6 115.64L431.8 115.61L432.1 115.58L432.3 115.55L432.6 115.51L432.8 115.48L433.1 115.44L433.3 115.40L433.6 115.36L433.8 115.31L434.1 115.27L434.3 115.22L434.6 115.17L434.8 115.11L435.1 115.05L435.3 114.99L435.6 114.93L435.8 114.86L436.1 114.79L436.3 114.71L436.6 114.63L436.8 114.54L437.1 114.44L437.3 114.34L437.6 114.23L437.8 114.12L438.1 113.99L438.3 113.86L438.6 113.72L438.8 113.56L439.1 113.39L439.3 113.21L439.6 113.01L439.8 112.80L440.1 112.57L440.3 112.31L440.6 112.03L440.8 111.72L441.1 111.38L441.3 111.01L441.6 110.60L441.8 110.14L442.1 109.63L442.3 109.05L442.6 108.41L442.8 107.69L443.1 106.87L443.3 105.94L443.6 104.88L443.8 103.66L444.1 102.26L444.3 100.64L444.6 98.76L444.8 96.55L445.1 93.96L445.3 90.91L445.6 87.31L445.8 83.05L446.1 78.07L446.3 72.34L446.6 65.98L446.8 59.33L447.1 53.10L447.3 48.36L447.6 46.16L447.8 47.12L448.1 50.96L448.3 56.73L448.6 63.32L448.8 69.86L449.1 75.87L449.3 81.15L449.6 85.69L449.8 89.54L450.1 92.80L450.3 95.57L450.6 97.92L450.8 99.92L451.1 101.65L451.3 103.13L451.6 104.41L451.8 105.53L452.1 106.51L452.3 107.37L452.6 108.13L452.8 108.81L453.1 109.40L453.3 109.94L453.6 110.42L453.8 110.85L454.1 111.24L454.3 111.59L454.6 111.91L454.8 112.20L455.1 112.47L455.3 112.71L455.6 112.93L455.8 113.14L456.1 113.32L456.3 113.50L456.6 113.66L456.8 113.80L457.1 113.94L457.3 114.07L457.6 114.19L457.8 114.30L458.1 114.40L458.3 114.50L458.6 114.59L458.8 114.68L459.1 114.76L459.3 114.83L459.6 114.90L459.8 114.97L460.1 115.03L460.3 115.09L460.6 115.15L460.8 115.20L461.1 115.25L461.3 115.30L461.6 115.34L461.8 115.38L462.1 115.42L462.3 115.46L462.6 115.50L462.8 115.53L463.1 115.57L463.3 115.60L463.6 115.63L463.8 115.66L464.1 115.69L464.3 115.71L464.6 115.74L464.8 115.76L465.1 115.79L465.3 115.81L465.6 115.83L465.8 115.85L466.1 115.87L466.3 115.89L466.6 115.91L466.8 115.93L467.1 115.94L467.3 115.96L467.6 115.98L467.8 115.99L468.1 116.00L468.3 116.02L468.6 116.03L468.8 116.05L469.1 116.06L469.3 116.07L469.6 116.08L469.8 116.09L470.1 116.11L470.3 116.12L470.6 116.13L470.8 116.14L471.1 116.15L471.3 116.16L471.6 116.16L471.8 116.17L472.1 116.18L472.3 116.19L472.6 116.20L472.8 116.21L473.1 116.21L473.3 116.22L473.6 116.23L473.8 116.24L474.1 116.24L474.3 116.25L474.6 116.26L474.8 116.26L475.1 116.27L475.3 116.27L475.6 116.28L475.8 116.29L476.1 116.29L476.3 116.30L476.6 116.30L476.8 116.31L477.1 116.31L477.3 116.32L477.6 116.32L477.8 116.33L478.1 116.33L478.3 116.33L478.6 116.34L478.8 116.34L479.1 116.35L479.3 116.35L479.6 116.35L479.8 116.36L480.1 116.36L480.3 116.37L480.6 116.37L480.8 116.37L481.1 116.38L481.3 116.38L481.6 116.38L481.8 116.39L482.1 116.39L482.3 116.39L482.6 116.39L482.8 116.40L483.1 116.40L483.3 116.40L483.6 116.41L483.8 116.41L484.1 116.41L484.3 116.41L484.6 116.42L484.8 116.42L485.1 116.42L485.3 116.42L485.6 116.43L485.8 116.43L486.1 116.43L486.3 116.43L486.6 116.43L486.8 116.44L487.1 116.44L487.3 116.44L487.6 116.44L487.8 116.44L488.1 116.45L488.3 116.45" fill="none" stroke="#f0962a" stroke-width="1.1"/><path d="M407.3 152.01L407.6 152.00L407.8 152.00L408.1 151.99L408.3 151.99L408.6 151.98L408.8 151.98L409.1 151.97L409.3 151.96L409.6 151.96L409.8 151.95L410.1 151.95L410.3 151.94L410.6 151.93L410.8 151.93L411.1 151.92L411.3 151.92L411.6 151.91L411.8 151.90L412.1 151.90L412.3 151.89L412.6 151.88L412.8 151.87L413.1 151.87L413.3 151.86L413.6 151.85L413.8 151.84L414.1 151.83L414.3 151.83L414.6 151.82L414.8 151.81L415.1 151.80L415.3 151.79L415.6 151.78L415.8 151.77L416.1 151.76L416.3 151.75L416.6 151.74L416.8 151.73L417.1 151.72L417.3 151.71L417.6 151.70L417.8 151.68L418.1 151.67L418.3 151.66L418.6 151.65L418.8 151.63L419.1 151.62L419.3 151.61L419.6 151.59L419.8 151.58L420.1 151.56L420.3 151.55L420.6 151.53L420.8 151.52L421.1 151.50L421.3 151.48L421.6 151.46L421.8 151.45L422.1 151.43L422.3 151.41L422.6 151.39L422.8 151.37L423.1 151.35L423.3 151.33L423.6 151.31L423.8 151.28L424.1 151.26L424.3 151.23L424.6 151.21L424.8 151.18L425.1 151.16L425.3 151.13L425.6 151.10L425.8 151.07L426.1 151.04L426.3 151.01L426.6 150.98L426.8 150.94L427.1 150.91L427.3 150.87L427.6 150.84L427.8 150.80L428.1 150.76L428.3 150.71L428.6 150.67L428.8 150.63L429.1 150.58L429.3 150.53L429.6 150.48L429.8 150.43L430.1 150.37L430.3 150.32L430.6 150.26L430.8 150.19L431.1 150.13L431.3 150.06L431.6 149.99L431.8 149.92L432.1 149.84L432.3 149.76L432.6 149.67L432.8 149.58L433.1 149.49L433.3 149.39L433.6 149.29L433.8 149.18L434.1 149.07L434.3 148.95L434.6 148.82L434.8 148.69L435.1 148.55L435.3 148.40L435.6 148.24L435.8 148.08L436.1 147.90L436.3 147.71L436.6 147.51L436.8 147.30L437.1 147.07L437.3 146.82L437.6 146.56L437.8 146.28L438.1 145.97L438.3 145.65L438.6 145.29L438.8 144.90L439.1 144.48L439.3 144.02L439.6 143.51L439.8 142.96L440.1 142.34L440.3 141.67L440.6 140.92L440.8 140.10L441.1 139.19L441.3 138.18L441.6 137.07L441.8 135.84L442.1 134.48L442.3 132.99L442.6 131.34L442.8 129.54L443.1 127.57L443.3 125.42L443.6 123.10L443.8 120.58L444.1 117.88L444.3 115.00L444.6 111.94L444.8 108.73L445.1 105.39L445.3 101.97L445.6 98.52L445.8 95.11L446.1 91.84L446.3 88.80L446.6 86.12L446.8 83.91L447.1 82.29L447.3 81.34L447.6 81.11L447.8 81.63L448.1 82.86L448.3 84.73L448.6 87.14L448.8 89.98L449.1 93.12L449.3 96.46L449.6 99.90L449.8 103.35L450.1 106.74L450.3 110.03L450.6 113.18L450.8 116.17L451.1 118.98L451.3 121.61L451.6 124.05L451.8 126.30L452.1 128.38L452.3 130.28L452.6 132.02L452.8 133.60L453.1 135.04L453.3 136.35L453.6 137.53L453.8 138.60L454.1 139.57L454.3 140.44L454.6 141.23L454.8 141.95L455.1 142.60L455.3 143.18L455.6 143.72L455.8 144.21L456.1 144.65L456.3 145.06L456.6 145.44L456.8 145.78L457.1 146.10L457.3 146.39L457.6 146.67L457.8 146.92L458.1 147.16L458.3 147.38L458.6 147.59L458.8 147.79L459.1 147.97L459.3 148.14L459.6 148.31L459.8 148.46L460.1 148.61L460.3 148.74L460.6 148.87L460.8 149.00L461.1 149.11L461.3 149.23L461.6 149.33L461.8 149.43L462.1 149.53L462.3 149.62L462.6 149.71L462.8 149.79L463.1 149.87L463.3 149.95L463.6 150.02L463.8 150.09L464.1 150.15L464.3 150.22L464.6 150.28L464.8 150.34L465.1 150.39L465.3 150.45L465.6 150.50L465.8 150.55L466.1 150.60L466.3 150.64L466.6 150.69L466.8 150.73L467.1 150.77L467.3 150.81L467.6 150.85L467.8 150.89L468.1 150.92L468.3 150.96L468.6 150.99L468.8 151.02L469.1 151.05L469.3 151.08L469.6 151.11L469.8 151.14L470.1 151.17L470.3 151.19L470.6 151.22L470.8 151.24L471.1 151.27L471.3 151.29L471.6 151.31L471.8 151.34L472.1 151.36L472.3 151.38L472.6 151.40L472.8 151.42L473.1 151.44L473.3 151.45L473.6 151.47L473.8 151.49L474.1 151.51L474.3 151.52L474.6 151.54L474.8 151.55L475.1 151.57L475.3 151.58L475.6 151.60L475.8 151.61L476.1 151.63L476.3 151.64L476.6 151.65L476.8 151.66L477.1 151.68L477.3 151.69L477.6 151.70L477.8 151.71L478.1 151.72L478.3 151.73L478.6 151.74L478.8 151.75L479.1 151.76L479.3 151.77L479.6 151.78L479.8 151.79L480.1 151.80L480.3 151.81L480.6 151.82L480.8 151.83L481.1 151.84L481.3 151.85L481.6 151.85L481.8 151.86L482.1 151.87L482.3 151.88L482.6 151.88L482.8 151.89L483.1 151.90L483.3 151.90L483.6 151.91L483.8 151.92L484.1 151.92L484.3 151.93L484.6 151.94L484.8 151.94L485.1 151.95L485.3 151.96L485.6 151.96L485.8 151.97L486.1 151.97L486.3 151.98L486.6 151.98L486.8 151.99L487.1 151.99L487.3 152.00L487.6 152.00L487.8 152.01L488.1 152.01L488.3 152.02" fill="none" stroke="#111" stroke-width="1.1"/><path d="M407.3 80.37L407.6 80.37L407.8 80.36L408.1 80.36L408.3 80.36L408.6 80.35L408.8 80.35L409.1 80.35L409.3 80.34L409.6 80.34L409.8 80.34L410.1 80.33L410.3 80.33L410.6 80.33L410.8 80.32L411.1 80.32L411.3 80.32L411.6 80.31L411.8 80.31L412.1 80.30L412.3 80.30L412.6 80.30L412.8 80.29L413.1 80.29L413.3 80.28L413.6 80.28L413.8 80.27L414.1 80.27L414.3 80.26L414.6 80.26L414.8 80.25L415.1 80.25L415.3 80.24L415.6 80.24L415.8 80.23L416.1 80.22L416.3 80.22L416.6 80.21L416.8 80.21L417.1 80.20L417.3 80.19L417.6 80.19L417.8 80.18L418.1 80.17L418.3 80.17L418.6 80.16L418.8 80.15L419.1 80.14L419.3 80.13L419.6 80.13L419.8 80.12L420.1 80.11L420.3 80.10L420.6 80.09L420.8 80.08L421.1 80.07L421.3 80.06L421.6 80.05L421.8 80.04L422.1 80.03L422.3 80.02L422.6 80.01L422.8 80.00L423.1 79.98L423.3 79.97L423.6 79.96L423.8 79.95L424.1 79.93L424.3 79.92L424.6 79.90L424.8 79.89L425.1 79.87L425.3 79.86L425.6 79.84L425.8 79.82L426.1 79.81L426.3 79.79L426.6 79.77L426.8 79.75L427.1 79.73L427.3 79.71L427.6 79.69L427.8 79.66L428.1 79.64L428.3 79.62L428.6 79.59L428.8 79.57L429.1 79.54L429.3 79.51L429.6 79.48L429.8 79.45L430.1 79.42L430.3 79.39L430.6 79.35L430.8 79.32L431.1 79.28L431.3 79.24L431.6 79.20L431.8 79.16L432.1 79.11L432.3 79.06L432.6 79.02L432.8 78.96L433.1 78.91L433.3 78.85L433.6 78.79L433.8 78.73L434.1 78.67L434.3 78.60L434.6 78.53L434.8 78.45L435.1 78.37L435.3 78.28L435.6 78.20L435.8 78.10L436.1 78.00L436.3 77.89L436.6 77.78L436.8 77.66L437.1 77.53L437.3 77.40L437.6 77.25L437.8 77.10L438.1 76.93L438.3 76.76L438.6 76.57L438.8 76.37L439.1 76.15L439.3 75.92L439.6 75.66L439.8 75.39L440.1 75.10L440.3 74.78L440.6 74.44L440.8 74.06L441.1 73.66L441.3 73.21L441.6 72.73L441.8 72.20L442.1 71.62L442.3 70.98L442.6 70.28L442.8 69.50L443.1 68.64L443.3 67.68L443.6 66.61L443.8 65.41L444.1 64.06L444.3 62.53L444.6 60.79L444.8 58.80L445.1 56.49L445.3 53.81L445.6 50.65L445.8 46.91L446.1 42.47L446.3 37.22L446.6 31.17L446.8 24.52L447.1 17.95L447.3 12.69L447.6 10.18L447.8 11.28L448.1 15.61L448.3 21.83L448.6 28.55L448.8 34.89L449.1 40.47L449.3 45.22L449.6 49.23L449.8 52.60L450.1 55.47L450.3 57.92L450.6 60.03L450.8 61.86L451.1 63.47L451.3 64.89L451.6 66.15L451.8 67.27L452.1 68.27L452.3 69.17L452.6 69.98L452.8 70.71L453.1 71.37L453.3 71.98L453.6 72.53L453.8 73.03L454.1 73.49L454.3 73.91L454.6 74.29L454.8 74.65L455.1 74.98L455.3 75.28L455.6 75.56L455.8 75.82L456.1 76.06L456.3 76.28L456.6 76.49L456.8 76.68L457.1 76.86L457.3 77.03L457.6 77.19L457.8 77.34L458.1 77.48L458.3 77.61L458.6 77.73L458.8 77.85L459.1 77.96L459.3 78.06L459.6 78.16L459.8 78.25L460.1 78.34L460.3 78.42L460.6 78.50L460.8 78.57L461.1 78.64L461.3 78.71L461.6 78.77L461.8 78.83L462.1 78.89L462.3 78.94L462.6 78.99L462.8 79.04L463.1 79.09L463.3 79.14L463.6 79.18L463.8 79.22L464.1 79.26L464.3 79.30L464.6 79.34L464.8 79.37L465.1 79.41L465.3 79.44L465.6 79.47L465.8 79.50L466.1 79.53L466.3 79.55L466.6 79.58L466.8 79.61L467.1 79.63L467.3 79.65L467.6 79.68L467.8 79.70L468.1 79.72L468.3 79.74L468.6 79.76L468.8 79.78L469.1 79.80L469.3 79.82L469.6 79.83L469.8 79.85L470.1 79.87L470.3 79.88L470.6 79.90L470.8 79.91L471.1 79.93L471.3 79.94L471.6 79.95L471.8 79.97L472.1 79.98L472.3 79.99L472.6 80.00L472.8 80.02L473.1 80.03L473.3 80.04L473.6 80.05L473.8 80.06L474.1 80.07L474.3 80.08L474.6 80.09L474.8 80.10L475.1 80.11L475.3 80.11L475.6 80.12L475.8 80.13L476.1 80.14L476.3 80.15L476.6 80.16L476.8 80.16L477.1 80.17L477.3 80.18L477.6 80.18L477.8 80.19L478.1 80.20L478.3 80.20L478.6 80.21L478.8 80.22L479.1 80.22L479.3 80.23L479.6 80.23L479.8 80.24L480.1 80.24L480.3 80.25L480.6 80.26L480.8 80.26L481.1 80.27L481.3 80.27L481.6 80.28L481.8 80.28L482.1 80.28L482.3 80.29L482.6 80.29L482.8 80.30L483.1 80.30L483.3 80.31L483.6 80.31L483.8 80.31L484.1 80.32L484.3 80.32L484.6 80.33L484.8 80.33L485.1 80.33L485.3 80.34L485.6 80.34L485.8 80.34L486.1 80.35L486.3 80.35L486.6 80.35L486.8 80.36L487.1 80.36L487.3 80.36L487.6 80.36L487.8 80.37L488.1 80.37L488.3 80.37" fill="none" stroke="#5a28a4" stroke-width="1.15"/><rect x="406.8" y="1.5" width="82" height="160" fill="none" stroke="#111" stroke-width="1.1"/><path d="M406.2 161.5v-2M414.5 161.5v-3M414.5 1.5v1.5M422.8 161.5v-2M431.1 161.5v-3M431.1 1.5v1.5M439.4 161.5v-2M447.7 161.5v-3M447.7 1.5v1.5M456 161.5v-2M464.3 161.5v-3M464.3 1.5v1.5M472.6 161.5v-2M480.9 161.5v-3M480.9 1.5v1.5M489.1 161.5v-2" stroke="#111" stroke-width="1" fill="none"/><text x="414.5" y="170.4" font-size="8.6" text-anchor="middle" font-family="Liberation Sans, Arial, sans-serif">-0.4</text><text x="431.1" y="170.4" font-size="8.6" text-anchor="middle" font-family="Liberation Sans, Arial, sans-serif">-0.2</text><text x="447.7" y="170.4" font-size="8.6" text-anchor="middle" font-family="Liberation Sans, Arial, sans-serif">0.0</text><text x="464.3" y="170.4" font-size="8.6" text-anchor="middle" font-family="Liberation Sans, Arial, sans-serif">0.2</text><text x="480.9" y="170.4" font-size="8.6" text-anchor="middle" font-family="Liberation Sans, Arial, sans-serif">0.4</text><text x="447.7" y="182.6" font-size="9" text-anchor="middle" font-family="Liberation Sans, Arial, sans-serif"><tspan font-family="Liberation Serif, serif">ω</tspan> (deg)</text><text transform="translate(397,80.9) rotate(-90)" font-size="9" text-anchor="middle" font-family="Liberation Sans, Arial, sans-serif">Normalized Intensity (arb. units)</text><text x="471.5" y="15.2" font-size="9.4" fill="#222" font-family="Liberation Sans, Arial, sans-serif">(b)</text><text x="410.8" y="27.8" font-size="9.9" fill="#222" font-family="Liberation Sans, Arial, sans-serif">FWHM</text><text x="412.2" y="48.9" font-size="9.9" fill="#5a2a9c" stroke="#5a2a9c" font-family="Liberation Sans, Arial, sans-serif">0.037°</text><text x="412.5" y="96" font-size="9.9" fill="#f0962a" stroke="#f0962a" font-family="Liberation Sans, Arial, sans-serif">0.041°</text><text x="412.2" y="127.9" font-size="9.9" fill="#222" font-family="Liberation Sans, Arial, sans-serif">0.083°</text><defs><filter id="bl" x="-50%" y="-50%" width="200%" height="200%"><feGaussianBlur stdDeviation="0.9"/></filter><filter id="bl2" x="-50%" y="-50%" width="200%" height="200%"><feGaussianBlur stdDeviation="0.5"/></filter><clipPath id="clipc"><rect x="33.4" y="190.8" width="62.8" height="111.3"/></clipPath><clipPath id="clipd"><rect x="96.2" y="190.8" width="62.4" height="111.3"/></clipPath></defs><g clip-path="url(#clipc)"><path d="M34.5 204.5 L80 271" stroke="#6a1cc8" stroke-width="1"/><path d="M64.4 211.5 V262" stroke="#6a1cc8" stroke-width="1.1"/><rect x="59" y="219" width="2" height="1" fill="#f0c8f6"/><rect x="67" y="219" width="3" height="1" fill="#f0c8f6"/><rect x="49" y="220" width="1" height="1" fill="#f0c8f6"/><rect x="51" y="220" width="2" height="1" fill="#f0c8f6"/><rect x="55" y="220" width="1" height="1" fill="#f0c8f6"/><rect x="56" y="220" width="3" height="1" fill="#7a08d8"/><rect x="59" y="220" width="1" height="1" fill="#f0c8f6"/><rect x="61" y="220" width="3" height="1" fill="#b838e0"/><rect x="64" y="220" width="1" height="1" fill="#7a08d8"/><rect x="65" y="220" width="1" height="1" fill="#b838e0"/><rect x="66" y="220" width="2" height="1" fill="#f0c8f6"/><rect x="68" y="220" width="2" height="1" fill="#b838e0"/><rect x="70" y="220" width="1" height="1" fill="#f0c8f6"/><rect x="71" y="220" width="1" height="1" fill="#7a08d8"/><rect x="72" y="220" width="2" height="1" fill="#f0c8f6"/><rect x="47" y="221" width="2" height="1" fill="#f0c8f6"/><rect x="50" y="221" width="2" height="1" fill="#b838e0"/><rect x="52" y="221" width="3" height="1" fill="#7a08d8"/><rect x="55" y="221" width="1" height="1" fill="#5800d0"/><rect x="56" y="221" width="1" height="1" fill="#7a08d8"/><rect x="57" y="221" width="1" height="1" fill="#5800d0"/><rect x="58" y="221" width="1" height="1" fill="#7a08d8"/><rect x="59" y="221" width="9" height="1" fill="#5800d0"/><rect x="68" y="221" width="2" height="1" fill="#7a08d8"/><rect x="70" y="221" width="1" height="1" fill="#f0c8f6"/><rect x="71" y="221" width="1" height="1" fill="#5800d0"/><rect x="72" y="221" width="1" height="1" fill="#f0c8f6"/><rect x="73" y="221" width="3" height="1" fill="#b838e0"/><rect x="76" y="221" width="3" height="1" fill="#f0c8f6"/><rect x="80" y="221" width="1" height="1" fill="#b838e0"/><rect x="46" y="222" width="1" height="1" fill="#f0c8f6"/><rect x="47" y="222" width="2" height="1" fill="#b838e0"/><rect x="49" y="222" width="1" height="1" fill="#f0c8f6"/><rect x="50" y="222" width="1" height="1" fill="#b838e0"/><rect x="51" y="222" width="1" height="1" fill="#7a08d8"/><rect x="52" y="222" width="1" height="1" fill="#5800d0"/><rect x="53" y="222" width="1" height="1" fill="#7a08d8"/><rect x="54" y="222" width="19" height="1" fill="#5800d0"/><rect x="73" y="222" width="1" height="1" fill="#f0c8f6"/><rect x="74" y="222" width="5" height="1" fill="#7a08d8"/><rect x="79" y="222" width="2" height="1" fill="#b838e0"/><rect x="81" y="222" width="1" height="1" fill="#f0c8f6"/><rect x="45" y="223" width="1" height="1" fill="#f0c8f6"/><rect x="46" y="223" width="1" height="1" fill="#b838e0"/><rect x="47" y="223" width="1" height="1" fill="#f0c8f6"/><rect x="48" y="223" width="2" height="1" fill="#7a08d8"/><rect x="50" y="223" width="1" height="1" fill="#b838e0"/><rect x="51" y="223" width="6" height="1" fill="#5800d0"/><rect x="57" y="223" width="13" height="1" fill="#2020ff"/><rect x="70" y="223" width="5" height="1" fill="#5800d0"/><rect x="75" y="223" width="1" height="1" fill="#7a08d8"/><rect x="76" y="223" width="1" height="1" fill="#5800d0"/><rect x="77" y="223" width="1" height="1" fill="#b838e0"/><rect x="78" y="223" width="1" height="1" fill="#7a08d8"/><rect x="79" y="223" width="2" height="1" fill="#f0c8f6"/><rect x="85" y="223" width="1" height="1" fill="#f0c8f6"/><rect x="43" y="224" width="1" height="1" fill="#f0c8f6"/><rect x="45" y="224" width="2" height="1" fill="#f0c8f6"/><rect x="47" y="224" width="2" height="1" fill="#7a08d8"/><rect x="49" y="224" width="1" height="1" fill="#f0c8f6"/><rect x="50" y="224" width="5" height="1" fill="#5800d0"/><rect x="55" y="224" width="5" height="1" fill="#2020ff"/><rect x="60" y="224" width="1" height="1" fill="#0aa8ff"/><rect x="61" y="224" width="1" height="1" fill="#2020ff"/><rect x="62" y="224" width="6" height="1" fill="#0aa8ff"/><rect x="68" y="224" width="5" height="1" fill="#2020ff"/><rect x="73" y="224" width="6" height="1" fill="#5800d0"/><rect x="79" y="224" width="2" height="1" fill="#7a08d8"/><rect x="81" y="224" width="3" height="1" fill="#f0c8f6"/><rect x="40" y="225" width="1" height="1" fill="#f0c8f6"/><rect x="44" y="225" width="2" height="1" fill="#f0c8f6"/><rect x="46" y="225" width="1" height="1" fill="#7a08d8"/><rect x="47" y="225" width="1" height="1" fill="#f0c8f6"/><rect x="48" y="225" width="1" height="1" fill="#7a08d8"/><rect x="49" y="225" width="6" height="1" fill="#5800d0"/><rect x="55" y="225" width="4" height="1" fill="#2020ff"/><rect x="59" y="225" width="2" height="1" fill="#0aa8ff"/><rect x="61" y="225" width="7" height="1" fill="#30e0a0"/><rect x="68" y="225" width="3" height="1" fill="#0aa8ff"/><rect x="71" y="225" width="4" height="1" fill="#2020ff"/><rect x="75" y="225" width="4" height="1" fill="#5800d0"/><rect x="79" y="225" width="1" height="1" fill="#7a08d8"/><rect x="80" y="225" width="1" height="1" fill="#b838e0"/><rect x="81" y="225" width="2" height="1" fill="#7a08d8"/><rect x="83" y="225" width="2" height="1" fill="#f0c8f6"/><rect x="46" y="226" width="1" height="1" fill="#7a08d8"/><rect x="47" y="226" width="1" height="1" fill="#f0c8f6"/><rect x="48" y="226" width="1" height="1" fill="#5800d0"/><rect x="49" y="226" width="1" height="1" fill="#7a08d8"/><rect x="50" y="226" width="1" height="1" fill="#b838e0"/><rect x="51" y="226" width="5" height="1" fill="#5800d0"/><rect x="56" y="226" width="4" height="1" fill="#2020ff"/><rect x="60" y="226" width="2" height="1" fill="#0aa8ff"/><rect x="62" y="226" width="2" height="1" fill="#30e0a0"/><rect x="64" y="226" width="3" height="1" fill="#80f040"/><rect x="67" y="226" width="2" height="1" fill="#30e0a0"/><rect x="69" y="226" width="3" height="1" fill="#0aa8ff"/><rect x="72" y="226" width="3" height="1" fill="#2020ff"/><rect x="75" y="226" width="6" height="1" fill="#5800d0"/><rect x="81" y="226" width="3" height="1" fill="#7a08d8"/><rect x="84" y="226" width="2" height="1" fill="#f0c8f6"/><rect x="45" y="227" width="1" height="1" fill="#f0c8f6"/><rect x="46" y="227" width="1" height="1" fill="#7a08d8"/><rect x="47" y="227" width="1" height="1" fill="#f0c8f6"/><rect x="48" y="227" width="1" height="1" fill="#7a08d8"/><rect x="49" y="227" width="1" height="1" fill="#5800d0"/><rect x="50" y="227" width="1" height="1" fill="#7a08d8"/><rect x="51" y="227" width="1" height="1" fill="#b838e0"/><rect x="52" y="227" width="4" height="1" fill="#5800d0"/><rect x="56" y="227" width="5" height="1" fill="#2020ff"/><rect x="61" y="227" width="3" height="1" fill="#0aa8ff"/><rect x="64" y="227" width="1" height="1" fill="#30e0a0"/><rect x="65" y="227" width="1" height="1" fill="#0aa8ff"/><rect x="66" y="227" width="1" height="1" fill="#30e0a0"/><rect x="67" y="227" width="4" height="1" fill="#0aa8ff"/><rect x="71" y="227" width="4" height="1" fill="#2020ff"/><rect x="75" y="227" width="6" height="1" fill="#5800d0"/><rect x="81" y="227" width="1" height="1" fill="#7a08d8"/><rect x="82" y="227" width="4" height="1" fill="#b838e0"/><rect x="86" y="227" width="1" height="1" fill="#f0c8f6"/><rect x="88" y="227" width="3" height="1" fill="#f0c8f6"/><rect x="41" y="228" width="5" height="1" fill="#f0c8f6"/><rect x="46" y="228" width="1" height="1" fill="#b838e0"/><rect x="47" y="228" width="1" height="1" fill="#7a08d8"/><rect x="48" y="228" width="2" height="1" fill="#b838e0"/><rect x="50" y="228" width="1" height="1" fill="#f0c8f6"/><rect x="51" y="228" width="1" height="1" fill="#b838e0"/><rect x="52" y="228" width="2" height="1" fill="#7a08d8"/><rect x="54" y="228" width="5" height="1" fill="#5800d0"/><rect x="59" y="228" width="14" height="1" fill="#2020ff"/><rect x="73" y="228" width="9" height="1" fill="#5800d0"/><rect x="82" y="228" width="2" height="1" fill="#b838e0"/><rect x="84" y="228" width="1" height="1" fill="#5800d0"/><rect x="85" y="228" width="2" height="1" fill="#b838e0"/><rect x="87" y="228" width="2" height="1" fill="#f0c8f6"/><rect x="92" y="228" width="1" height="1" fill="#f0c8f6"/><rect x="45" y="229" width="3" height="1" fill="#f0c8f6"/><rect x="48" y="229" width="3" height="1" fill="#b838e0"/><rect x="51" y="229" width="1" height="1" fill="#5800d0"/><rect x="52" y="229" width="1" height="1" fill="#b838e0"/><rect x="53" y="229" width="4" height="1" fill="#7a08d8"/><rect x="57" y="229" width="11" height="1" fill="#5800d0"/><rect x="68" y="229" width="1" height="1" fill="#2020ff"/><rect x="69" y="229" width="9" height="1" fill="#5800d0"/><rect x="78" y="229" width="1" height="1" fill="#7a08d8"/><rect x="79" y="229" width="1" height="1" fill="#5800d0"/><rect x="80" y="229" width="1" height="1" fill="#b838e0"/><rect x="81" y="229" width="1" height="1" fill="#7a08d8"/><rect x="82" y="229" width="1" height="1" fill="#f0c8f6"/><rect x="83" y="229" width="1" height="1" fill="#5800d0"/><rect x="85" y="229" width="1" height="1" fill="#7a08d8"/><rect x="86" y="229" width="1" height="1" fill="#b838e0"/><rect x="88" y="229" width="1" height="1" fill="#f0c8f6"/><rect x="89" y="229" width="1" height="1" fill="#b838e0"/><rect x="90" y="229" width="1" height="1" fill="#f0c8f6"/><rect x="96" y="229" width="1" height="1" fill="#f0c8f6"/><rect x="43" y="230" width="1" height="1" fill="#f0c8f6"/><rect x="45" y="230" width="1" height="1" fill="#f0c8f6"/><rect x="46" y="230" width="1" height="1" fill="#b838e0"/><rect x="47" y="230" width="1" height="1" fill="#f0c8f6"/><rect x="48" y="230" width="4" height="1" fill="#b838e0"/><rect x="52" y="230" width="1" height="1" fill="#7a08d8"/><rect x="53" y="230" width="1" height="1" fill="#b838e0"/><rect x="54" y="230" width="1" height="1" fill="#5800d0"/><rect x="55" y="230" width="1" height="1" fill="#f0c8f6"/><rect x="56" y="230" width="1" height="1" fill="#b838e0"/><rect x="57" y="230" width="1" height="1" fill="#5800d0"/><rect x="58" y="230" width="2" height="1" fill="#7a08d8"/><rect x="60" y="230" width="15" height="1" fill="#5800d0"/><rect x="75" y="230" width="2" height="1" fill="#7a08d8"/><rect x="77" y="230" width="1" height="1" fill="#b838e0"/><rect x="78" y="230" width="1" height="1" fill="#5800d0"/><rect x="79" y="230" width="2" height="1" fill="#b838e0"/><rect x="81" y="230" width="1" height="1" fill="#f0c8f6"/><rect x="82" y="230" width="1" height="1" fill="#b838e0"/><rect x="83" y="230" width="1" height="1" fill="#7a08d8"/><rect x="84" y="230" width="2" height="1" fill="#b838e0"/><rect x="86" y="230" width="1" height="1" fill="#f0c8f6"/><rect x="87" y="230" width="1" height="1" fill="#7a08d8"/><rect x="88" y="230" width="1" height="1" fill="#f0c8f6"/><rect x="90" y="230" width="1" height="1" fill="#f0c8f6"/><rect x="92" y="230" width="1" height="1" fill="#f0c8f6"/><rect x="50" y="231" width="3" height="1" fill="#f0c8f6"/><rect x="53" y="231" width="1" height="1" fill="#7a08d8"/><rect x="54" y="231" width="2" height="1" fill="#b838e0"/><rect x="56" y="231" width="1" height="1" fill="#f0c8f6"/><rect x="57" y="231" width="1" height="1" fill="#7a08d8"/><rect x="58" y="231" width="3" height="1" fill="#f0c8f6"/><rect x="61" y="231" width="1" height="1" fill="#7a08d8"/><rect x="62" y="231" width="1" height="1" fill="#b838e0"/><rect x="63" y="231" width="1" height="1" fill="#5800d0"/><rect x="64" y="231" width="1" height="1" fill="#7a08d8"/><rect x="65" y="231" width="1" height="1" fill="#b838e0"/><rect x="66" y="231" width="1" height="1" fill="#7a08d8"/><rect x="67" y="231" width="1" height="1" fill="#5800d0"/><rect x="68" y="231" width="2" height="1" fill="#b838e0"/><rect x="70" y="231" width="1" height="1" fill="#7a08d8"/><rect x="71" y="231" width="2" height="1" fill="#5800d0"/><rect x="73" y="231" width="4" height="1" fill="#7a08d8"/><rect x="77" y="231" width="1" height="1" fill="#5800d0"/><rect x="78" y="231" width="1" height="1" fill="#b838e0"/><rect x="79" y="231" width="1" height="1" fill="#7a08d8"/><rect x="80" y="231" width="2" height="1" fill="#b838e0"/><rect x="82" y="231" width="2" height="1" fill="#f0c8f6"/><rect x="84" y="231" width="1" height="1" fill="#b838e0"/><rect x="86" y="231" width="1" height="1" fill="#b838e0"/><rect x="88" y="231" width="1" height="1" fill="#f0c8f6"/><rect x="92" y="231" width="1" height="1" fill="#f0c8f6"/><rect x="93" y="231" width="1" height="1" fill="#b838e0"/><rect x="52" y="232" width="1" height="1" fill="#f0c8f6"/><rect x="56" y="232" width="1" height="1" fill="#b838e0"/><rect x="58" y="232" width="1" height="1" fill="#b838e0"/><rect x="60" y="232" width="2" height="1" fill="#f0c8f6"/><rect x="62" y="232" width="1" height="1" fill="#b838e0"/><rect x="63" y="232" width="1" height="1" fill="#f0c8f6"/><rect x="66" y="232" width="1" height="1" fill="#7a08d8"/><rect x="67" y="232" width="1" height="1" fill="#b838e0"/><rect x="68" y="232" width="1" height="1" fill="#f0c8f6"/><rect x="69" y="232" width="1" height="1" fill="#7a08d8"/><rect x="70" y="232" width="3" height="1" fill="#f0c8f6"/><rect x="73" y="232" width="2" height="1" fill="#7a08d8"/><rect x="75" y="232" width="1" height="1" fill="#f0c8f6"/><rect x="76" y="232" width="2" height="1" fill="#b838e0"/><rect x="78" y="232" width="1" height="1" fill="#7a08d8"/><rect x="80" y="232" width="1" height="1" fill="#f0c8f6"/><rect x="81" y="232" width="1" height="1" fill="#b838e0"/><rect x="83" y="232" width="3" height="1" fill="#f0c8f6"/><rect x="57" y="233" width="1" height="1" fill="#f0c8f6"/><rect x="60" y="233" width="1" height="1" fill="#b838e0"/><rect x="65" y="233" width="2" height="1" fill="#f0c8f6"/><rect x="67" y="233" width="2" height="1" fill="#b838e0"/><rect x="69" y="233" width="1" height="1" fill="#f0c8f6"/><rect x="70" y="233" width="1" height="1" fill="#b838e0"/><rect x="73" y="233" width="1" height="1" fill="#f0c8f6"/><rect x="77" y="233" width="1" height="1" fill="#f0c8f6"/><rect x="81" y="233" width="1" height="1" fill="#f0c8f6"/><rect x="61" y="234" width="1" height="1" fill="#f0c8f6"/><rect x="65" y="234" width="1" height="1" fill="#f0c8f6"/><rect x="70" y="234" width="1" height="1" fill="#f0c8f6"/><rect x="72" y="234" width="1" height="1" fill="#f0c8f6"/><rect x="73" y="235" width="1" height="1" fill="#f0c8f6"/><rect x="64" y="236" width="1" height="1" fill="#f0c8f6"/><rect x="64" y="237" width="1" height="1" fill="#f0c8f6"/><rect x="62" y="238" width="2" height="1" fill="#f0c8f6"/><rect x="64" y="238" width="2" height="1" fill="#b838e0"/><rect x="67" y="238" width="1" height="1" fill="#b838e0"/><rect x="60" y="239" width="2" height="1" fill="#f0c8f6"/><rect x="62" y="239" width="3" height="1" fill="#b838e0"/><rect x="65" y="239" width="1" height="1" fill="#7a08d8"/><rect x="66" y="239" width="1" height="1" fill="#f0c8f6"/><rect x="67" y="239" width="1" height="1" fill="#7a08d8"/><rect x="68" y="239" width="1" height="1" fill="#f0c8f6"/><rect x="58" y="240" width="1" height="1" fill="#b838e0"/><rect x="59" y="240" width="1" height="1" fill="#5800d0"/><rect x="60" y="240" width="1" height="1" fill="#7a08d8"/><rect x="61" y="240" width="1" height="1" fill="#5800d0"/><rect x="62" y="240" width="2" height="1" fill="#7a08d8"/><rect x="64" y="240" width="1" height="1" fill="#5800d0"/><rect x="65" y="240" width="4" height="1" fill="#7a08d8"/><rect x="69" y="240" width="2" height="1" fill="#f0c8f6"/><rect x="57" y="241" width="1" height="1" fill="#b838e0"/><rect x="58" y="241" width="2" height="1" fill="#f0c8f6"/><rect x="60" y="241" width="8" height="1" fill="#5800d0"/><rect x="68" y="241" width="1" height="1" fill="#b838e0"/><rect x="69" y="241" width="1" height="1" fill="#f0c8f6"/><rect x="70" y="241" width="1" height="1" fill="#b838e0"/><rect x="57" y="242" width="1" height="1" fill="#5800d0"/><rect x="58" y="242" width="1" height="1" fill="#7a08d8"/><rect x="59" y="242" width="10" height="1" fill="#5800d0"/><rect x="69" y="242" width="2" height="1" fill="#7a08d8"/><rect x="71" y="242" width="2" height="1" fill="#f0c8f6"/><rect x="56" y="243" width="1" height="1" fill="#b838e0"/><rect x="57" y="243" width="2" height="1" fill="#7a08d8"/><rect x="59" y="243" width="3" height="1" fill="#5800d0"/><rect x="62" y="243" width="5" height="1" fill="#2020ff"/><rect x="67" y="243" width="3" height="1" fill="#5800d0"/><rect x="70" y="243" width="1" height="1" fill="#7a08d8"/><rect x="71" y="243" width="2" height="1" fill="#b838e0"/><rect x="73" y="243" width="1" height="1" fill="#f0c8f6"/><rect x="55" y="244" width="2" height="1" fill="#f0c8f6"/><rect x="57" y="244" width="1" height="1" fill="#b838e0"/><rect x="58" y="244" width="3" height="1" fill="#5800d0"/><rect x="61" y="244" width="2" height="1" fill="#2020ff"/><rect x="63" y="244" width="3" height="1" fill="#0aa8ff"/><rect x="66" y="244" width="2" height="1" fill="#2020ff"/><rect x="68" y="244" width="2" height="1" fill="#5800d0"/><rect x="70" y="244" width="2" height="1" fill="#7a08d8"/><rect x="72" y="244" width="3" height="1" fill="#f0c8f6"/><rect x="53" y="245" width="1" height="1" fill="#f0c8f6"/><rect x="56" y="245" width="1" height="1" fill="#f0c8f6"/><rect x="57" y="245" width="1" height="1" fill="#b838e0"/><rect x="58" y="245" width="3" height="1" fill="#5800d0"/><rect x="61" y="245" width="2" height="1" fill="#2020ff"/><rect x="63" y="245" width="1" height="1" fill="#0aa8ff"/><rect x="64" y="245" width="1" height="1" fill="#30e0a0"/><rect x="65" y="245" width="2" height="1" fill="#0aa8ff"/><rect x="67" y="245" width="1" height="1" fill="#2020ff"/><rect x="68" y="245" width="3" height="1" fill="#5800d0"/><rect x="71" y="245" width="2" height="1" fill="#f0c8f6"/><rect x="73" y="245" width="1" height="1" fill="#b838e0"/><rect x="54" y="246" width="1" height="1" fill="#f0c8f6"/><rect x="55" y="246" width="2" height="1" fill="#b838e0"/><rect x="57" y="246" width="4" height="1" fill="#5800d0"/><rect x="61" y="246" width="1" height="1" fill="#2020ff"/><rect x="62" y="246" width="4" height="1" fill="#0aa8ff"/><rect x="66" y="246" width="2" height="1" fill="#2020ff"/><rect x="68" y="246" width="3" height="1" fill="#5800d0"/><rect x="71" y="246" width="2" height="1" fill="#7a08d8"/><rect x="73" y="246" width="1" height="1" fill="#f0c8f6"/><rect x="56" y="247" width="1" height="1" fill="#7a08d8"/><rect x="57" y="247" width="4" height="1" fill="#5800d0"/><rect x="61" y="247" width="2" height="1" fill="#2020ff"/><rect x="63" y="247" width="2" height="1" fill="#0aa8ff"/><rect x="65" y="247" width="3" height="1" fill="#2020ff"/><rect x="68" y="247" width="2" height="1" fill="#5800d0"/><rect x="70" y="247" width="2" height="1" fill="#7a08d8"/><rect x="72" y="247" width="1" height="1" fill="#f0c8f6"/><rect x="56" y="248" width="2" height="1" fill="#f0c8f6"/><rect x="58" y="248" width="1" height="1" fill="#7a08d8"/><rect x="59" y="248" width="3" height="1" fill="#5800d0"/><rect x="62" y="248" width="4" height="1" fill="#2020ff"/><rect x="66" y="248" width="5" height="1" fill="#5800d0"/><rect x="71" y="248" width="2" height="1" fill="#f0c8f6"/><rect x="53" y="249" width="1" height="1" fill="#f0c8f6"/><rect x="57" y="249" width="2" height="1" fill="#5800d0"/><rect x="59" y="249" width="1" height="1" fill="#7a08d8"/><rect x="60" y="249" width="9" height="1" fill="#5800d0"/><rect x="69" y="249" width="2" height="1" fill="#f0c8f6"/><rect x="71" y="249" width="1" height="1" fill="#7a08d8"/><rect x="72" y="249" width="1" height="1" fill="#f0c8f6"/><rect x="57" y="250" width="1" height="1" fill="#f0c8f6"/><rect x="59" y="250" width="1" height="1" fill="#5800d0"/><rect x="60" y="250" width="1" height="1" fill="#7a08d8"/><rect x="61" y="250" width="5" height="1" fill="#5800d0"/><rect x="66" y="250" width="2" height="1" fill="#7a08d8"/><rect x="68" y="250" width="1" height="1" fill="#5800d0"/><rect x="69" y="250" width="1" height="1" fill="#f0c8f6"/><rect x="71" y="250" width="1" height="1" fill="#b838e0"/><rect x="72" y="250" width="1" height="1" fill="#f0c8f6"/><rect x="57" y="251" width="1" height="1" fill="#f0c8f6"/><rect x="59" y="251" width="1" height="1" fill="#f0c8f6"/><rect x="60" y="251" width="1" height="1" fill="#7a08d8"/><rect x="61" y="251" width="1" height="1" fill="#f0c8f6"/><rect x="62" y="251" width="1" height="1" fill="#b838e0"/><rect x="63" y="251" width="1" height="1" fill="#7a08d8"/><rect x="64" y="251" width="1" height="1" fill="#5800d0"/><rect x="65" y="251" width="1" height="1" fill="#b838e0"/><rect x="66" y="251" width="2" height="1" fill="#7a08d8"/><rect x="68" y="251" width="1" height="1" fill="#b838e0"/><rect x="69" y="251" width="2" height="1" fill="#f0c8f6"/><rect x="61" y="252" width="3" height="1" fill="#f0c8f6"/><rect x="64" y="252" width="2" height="1" fill="#b838e0"/><rect x="66" y="252" width="1" height="1" fill="#f0c8f6"/><rect x="59" y="253" width="1" height="1" fill="#f0c8f6"/><rect x="63" y="253" width="2" height="1" fill="#f0c8f6"/><rect x="66" y="253" width="1" height="1" fill="#f0c8f6"/><rect x="58" y="254" width="1" height="1" fill="#f0c8f6"/><rect x="61" y="255" width="1" height="1" fill="#f0c8f6"/><path d="M64.3 242.8 L65.6 245.8 L64.3 248.8 L63 245.8 Z" fill="#30d0ff" stroke="#e8ffff" stroke-width="0.5"/></g><path d="M70 235 L75.2 240.4 M75.2 235 L70 240.4" stroke="#111" stroke-width="1.1"/><g clip-path="url(#clipd)"><path d="M108 217 L141.5 269.5" stroke="#6a1cc8" stroke-width="1"/><path d="M126.8 250 V278" stroke="#5010b0" stroke-width="1.1"/><rect x="131" y="233" width="1" height="1" fill="#f0c8f6"/><rect x="134" y="233" width="1" height="1" fill="#f0c8f6"/><rect x="117" y="234" width="1" height="1" fill="#f0c8f6"/><rect x="127" y="234" width="4" height="1" fill="#f0c8f6"/><rect x="132" y="234" width="1" height="1" fill="#f0c8f6"/><rect x="122" y="235" width="1" height="1" fill="#f0c8f6"/><rect x="124" y="235" width="1" height="1" fill="#f0c8f6"/><rect x="125" y="235" width="1" height="1" fill="#b838e0"/><rect x="126" y="235" width="1" height="1" fill="#f0c8f6"/><rect x="127" y="235" width="1" height="1" fill="#b838e0"/><rect x="129" y="235" width="1" height="1" fill="#f0c8f6"/><rect x="118" y="236" width="2" height="1" fill="#f0c8f6"/><rect x="121" y="236" width="1" height="1" fill="#f0c8f6"/><rect x="123" y="236" width="1" height="1" fill="#f0c8f6"/><rect x="125" y="236" width="1" height="1" fill="#b838e0"/><rect x="127" y="236" width="3" height="1" fill="#b838e0"/><rect x="130" y="236" width="1" height="1" fill="#7a08d8"/><rect x="121" y="237" width="1" height="1" fill="#f0c8f6"/><rect x="122" y="237" width="1" height="1" fill="#b838e0"/><rect x="123" y="237" width="1" height="1" fill="#5800d0"/><rect x="124" y="237" width="1" height="1" fill="#7a08d8"/><rect x="125" y="237" width="1" height="1" fill="#f0c8f6"/><rect x="126" y="237" width="2" height="1" fill="#7a08d8"/><rect x="128" y="237" width="1" height="1" fill="#b838e0"/><rect x="129" y="237" width="2" height="1" fill="#7a08d8"/><rect x="131" y="237" width="1" height="1" fill="#f0c8f6"/><rect x="132" y="237" width="1" height="1" fill="#7a08d8"/><rect x="133" y="237" width="1" height="1" fill="#b838e0"/><rect x="135" y="237" width="2" height="1" fill="#f0c8f6"/><rect x="138" y="237" width="1" height="1" fill="#f0c8f6"/><rect x="117" y="238" width="2" height="1" fill="#f0c8f6"/><rect x="120" y="238" width="1" height="1" fill="#b838e0"/><rect x="121" y="238" width="1" height="1" fill="#7a08d8"/><rect x="122" y="238" width="1" height="1" fill="#b838e0"/><rect x="123" y="238" width="1" height="1" fill="#7a08d8"/><rect x="124" y="238" width="2" height="1" fill="#b838e0"/><rect x="126" y="238" width="1" height="1" fill="#5800d0"/><rect x="127" y="238" width="1" height="1" fill="#2020ff"/><rect x="128" y="238" width="1" height="1" fill="#7a08d8"/><rect x="129" y="238" width="1" height="1" fill="#b838e0"/><rect x="130" y="238" width="1" height="1" fill="#5800d0"/><rect x="131" y="238" width="3" height="1" fill="#7a08d8"/><rect x="134" y="238" width="2" height="1" fill="#f0c8f6"/><rect x="116" y="239" width="2" height="1" fill="#f0c8f6"/><rect x="119" y="239" width="1" height="1" fill="#f0c8f6"/><rect x="120" y="239" width="4" height="1" fill="#7a08d8"/><rect x="124" y="239" width="7" height="1" fill="#5800d0"/><rect x="131" y="239" width="2" height="1" fill="#7a08d8"/><rect x="133" y="239" width="4" height="1" fill="#f0c8f6"/><rect x="118" y="240" width="1" height="1" fill="#b838e0"/><rect x="119" y="240" width="3" height="1" fill="#7a08d8"/><rect x="122" y="240" width="1" height="1" fill="#b838e0"/><rect x="123" y="240" width="8" height="1" fill="#5800d0"/><rect x="131" y="240" width="2" height="1" fill="#7a08d8"/><rect x="133" y="240" width="1" height="1" fill="#f0c8f6"/><rect x="134" y="240" width="2" height="1" fill="#b838e0"/><rect x="115" y="241" width="1" height="1" fill="#f0c8f6"/><rect x="117" y="241" width="1" height="1" fill="#f0c8f6"/><rect x="118" y="241" width="1" height="1" fill="#7a08d8"/><rect x="119" y="241" width="1" height="1" fill="#f0c8f6"/><rect x="120" y="241" width="2" height="1" fill="#7a08d8"/><rect x="122" y="241" width="13" height="1" fill="#5800d0"/><rect x="135" y="241" width="2" height="1" fill="#f0c8f6"/><rect x="138" y="241" width="1" height="1" fill="#f0c8f6"/><rect x="110" y="242" width="1" height="1" fill="#f0c8f6"/><rect x="113" y="242" width="1" height="1" fill="#f0c8f6"/><rect x="117" y="242" width="1" height="1" fill="#7a08d8"/><rect x="118" y="242" width="1" height="1" fill="#b838e0"/><rect x="119" y="242" width="1" height="1" fill="#5800d0"/><rect x="120" y="242" width="1" height="1" fill="#7a08d8"/><rect x="121" y="242" width="5" height="1" fill="#5800d0"/><rect x="126" y="242" width="2" height="1" fill="#2020ff"/><rect x="128" y="242" width="1" height="1" fill="#5800d0"/><rect x="129" y="242" width="1" height="1" fill="#2020ff"/><rect x="130" y="242" width="4" height="1" fill="#5800d0"/><rect x="134" y="242" width="1" height="1" fill="#b838e0"/><rect x="135" y="242" width="1" height="1" fill="#7a08d8"/><rect x="136" y="242" width="2" height="1" fill="#b838e0"/><rect x="117" y="243" width="2" height="1" fill="#7a08d8"/><rect x="119" y="243" width="5" height="1" fill="#5800d0"/><rect x="124" y="243" width="6" height="1" fill="#2020ff"/><rect x="130" y="243" width="4" height="1" fill="#5800d0"/><rect x="134" y="243" width="2" height="1" fill="#7a08d8"/><rect x="138" y="243" width="1" height="1" fill="#b838e0"/><rect x="109" y="244" width="1" height="1" fill="#f0c8f6"/><rect x="117" y="244" width="1" height="1" fill="#f0c8f6"/><rect x="118" y="244" width="1" height="1" fill="#7a08d8"/><rect x="119" y="244" width="5" height="1" fill="#5800d0"/><rect x="124" y="244" width="2" height="1" fill="#2020ff"/><rect x="126" y="244" width="1" height="1" fill="#0aa8ff"/><rect x="127" y="244" width="3" height="1" fill="#2020ff"/><rect x="130" y="244" width="5" height="1" fill="#5800d0"/><rect x="135" y="244" width="1" height="1" fill="#7a08d8"/><rect x="136" y="244" width="2" height="1" fill="#b838e0"/><rect x="113" y="245" width="2" height="1" fill="#f0c8f6"/><rect x="116" y="245" width="2" height="1" fill="#f0c8f6"/><rect x="118" y="245" width="1" height="1" fill="#7a08d8"/><rect x="119" y="245" width="5" height="1" fill="#5800d0"/><rect x="124" y="245" width="2" height="1" fill="#2020ff"/><rect x="126" y="245" width="2" height="1" fill="#0aa8ff"/><rect x="128" y="245" width="3" height="1" fill="#2020ff"/><rect x="131" y="245" width="3" height="1" fill="#5800d0"/><rect x="134" y="245" width="2" height="1" fill="#b838e0"/><rect x="136" y="245" width="4" height="1" fill="#f0c8f6"/><rect x="113" y="246" width="1" height="1" fill="#f0c8f6"/><rect x="116" y="246" width="1" height="1" fill="#f0c8f6"/><rect x="117" y="246" width="1" height="1" fill="#7a08d8"/><rect x="118" y="246" width="5" height="1" fill="#5800d0"/><rect x="123" y="246" width="2" height="1" fill="#2020ff"/><rect x="125" y="246" width="3" height="1" fill="#0aa8ff"/><rect x="128" y="246" width="3" height="1" fill="#2020ff"/><rect x="131" y="246" width="4" height="1" fill="#5800d0"/><rect x="135" y="246" width="1" height="1" fill="#7a08d8"/><rect x="136" y="246" width="1" height="1" fill="#b838e0"/><rect x="137" y="246" width="1" height="1" fill="#f0c8f6"/><rect x="114" y="247" width="2" height="1" fill="#f0c8f6"/><rect x="118" y="247" width="2" height="1" fill="#7a08d8"/><rect x="120" y="247" width="4" height="1" fill="#5800d0"/><rect x="124" y="247" width="6" height="1" fill="#2020ff"/><rect x="130" y="247" width="5" height="1" fill="#5800d0"/><rect x="135" y="247" width="2" height="1" fill="#7a08d8"/><rect x="137" y="247" width="1" height="1" fill="#f0c8f6"/><rect x="115" y="248" width="1" height="1" fill="#f0c8f6"/><rect x="116" y="248" width="1" height="1" fill="#b838e0"/><rect x="117" y="248" width="2" height="1" fill="#f0c8f6"/><rect x="119" y="248" width="1" height="1" fill="#b838e0"/><rect x="120" y="248" width="4" height="1" fill="#5800d0"/><rect x="124" y="248" width="6" height="1" fill="#2020ff"/><rect x="130" y="248" width="4" height="1" fill="#5800d0"/><rect x="134" y="248" width="1" height="1" fill="#b838e0"/><rect x="135" y="248" width="3" height="1" fill="#f0c8f6"/><rect x="138" y="248" width="1" height="1" fill="#b838e0"/><rect x="113" y="249" width="1" height="1" fill="#f0c8f6"/><rect x="117" y="249" width="2" height="1" fill="#f0c8f6"/><rect x="119" y="249" width="1" height="1" fill="#7a08d8"/><rect x="120" y="249" width="7" height="1" fill="#5800d0"/><rect x="127" y="249" width="1" height="1" fill="#2020ff"/><rect x="128" y="249" width="7" height="1" fill="#5800d0"/><rect x="135" y="249" width="1" height="1" fill="#7a08d8"/><rect x="115" y="250" width="1" height="1" fill="#f0c8f6"/><rect x="117" y="250" width="1" height="1" fill="#7a08d8"/><rect x="118" y="250" width="1" height="1" fill="#f0c8f6"/><rect x="119" y="250" width="1" height="1" fill="#b838e0"/><rect x="120" y="250" width="2" height="1" fill="#7a08d8"/><rect x="122" y="250" width="11" height="1" fill="#5800d0"/><rect x="133" y="250" width="1" height="1" fill="#7a08d8"/><rect x="134" y="250" width="2" height="1" fill="#b838e0"/><rect x="136" y="250" width="1" height="1" fill="#f0c8f6"/><rect x="141" y="250" width="1" height="1" fill="#f0c8f6"/><rect x="144" y="250" width="1" height="1" fill="#f0c8f6"/><rect x="115" y="251" width="1" height="1" fill="#b838e0"/><rect x="117" y="251" width="2" height="1" fill="#f0c8f6"/><rect x="119" y="251" width="2" height="1" fill="#5800d0"/><rect x="121" y="251" width="1" height="1" fill="#7a08d8"/><rect x="122" y="251" width="10" height="1" fill="#5800d0"/><rect x="132" y="251" width="1" height="1" fill="#f0c8f6"/><rect x="133" y="251" width="1" height="1" fill="#7a08d8"/><rect x="134" y="251" width="3" height="1" fill="#b838e0"/><rect x="137" y="251" width="1" height="1" fill="#f0c8f6"/><rect x="112" y="252" width="1" height="1" fill="#f0c8f6"/><rect x="117" y="252" width="1" height="1" fill="#b838e0"/><rect x="118" y="252" width="1" height="1" fill="#f0c8f6"/><rect x="119" y="252" width="1" height="1" fill="#7a08d8"/><rect x="120" y="252" width="2" height="1" fill="#f0c8f6"/><rect x="122" y="252" width="1" height="1" fill="#7a08d8"/><rect x="123" y="252" width="1" height="1" fill="#b838e0"/><rect x="124" y="252" width="2" height="1" fill="#7a08d8"/><rect x="126" y="252" width="2" height="1" fill="#5800d0"/><rect x="128" y="252" width="1" height="1" fill="#b838e0"/><rect x="129" y="252" width="1" height="1" fill="#5800d0"/><rect x="130" y="252" width="3" height="1" fill="#7a08d8"/><rect x="133" y="252" width="1" height="1" fill="#b838e0"/><rect x="134" y="252" width="1" height="1" fill="#f0c8f6"/><rect x="136" y="252" width="1" height="1" fill="#b838e0"/><rect x="137" y="252" width="1" height="1" fill="#f0c8f6"/><rect x="139" y="252" width="1" height="1" fill="#f0c8f6"/><rect x="115" y="253" width="1" height="1" fill="#f0c8f6"/><rect x="118" y="253" width="1" height="1" fill="#f0c8f6"/><rect x="119" y="253" width="1" height="1" fill="#b838e0"/><rect x="120" y="253" width="4" height="1" fill="#7a08d8"/><rect x="124" y="253" width="3" height="1" fill="#5800d0"/><rect x="127" y="253" width="1" height="1" fill="#b838e0"/><rect x="128" y="253" width="1" height="1" fill="#5800d0"/><rect x="129" y="253" width="2" height="1" fill="#7a08d8"/><rect x="133" y="253" width="1" height="1" fill="#b838e0"/><rect x="135" y="253" width="1" height="1" fill="#f0c8f6"/><rect x="144" y="253" width="1" height="1" fill="#f0c8f6"/><rect x="113" y="254" width="1" height="1" fill="#f0c8f6"/><rect x="120" y="254" width="1" height="1" fill="#f0c8f6"/><rect x="122" y="254" width="2" height="1" fill="#f0c8f6"/><rect x="124" y="254" width="2" height="1" fill="#5800d0"/><rect x="126" y="254" width="2" height="1" fill="#f0c8f6"/><rect x="128" y="254" width="2" height="1" fill="#7a08d8"/><rect x="130" y="254" width="5" height="1" fill="#b838e0"/><rect x="138" y="254" width="1" height="1" fill="#f0c8f6"/><rect x="143" y="254" width="1" height="1" fill="#f0c8f6"/><rect x="121" y="255" width="1" height="1" fill="#b838e0"/><rect x="122" y="255" width="1" height="1" fill="#f0c8f6"/><rect x="124" y="255" width="1" height="1" fill="#7a08d8"/><rect x="125" y="255" width="1" height="1" fill="#f0c8f6"/><rect x="126" y="255" width="1" height="1" fill="#7a08d8"/><rect x="128" y="255" width="1" height="1" fill="#7a08d8"/><rect x="129" y="255" width="3" height="1" fill="#f0c8f6"/><rect x="133" y="255" width="1" height="1" fill="#f0c8f6"/><rect x="121" y="256" width="1" height="1" fill="#7a08d8"/><rect x="125" y="256" width="1" height="1" fill="#f0c8f6"/><rect x="127" y="256" width="4" height="1" fill="#f0c8f6"/><rect x="132" y="256" width="1" height="1" fill="#f0c8f6"/><rect x="113" y="257" width="1" height="1" fill="#f0c8f6"/><rect x="121" y="257" width="1" height="1" fill="#f0c8f6"/><rect x="131" y="257" width="1" height="1" fill="#f0c8f6"/><rect x="133" y="257" width="1" height="1" fill="#f0c8f6"/><rect x="128" y="259" width="1" height="1" fill="#f0c8f6"/><rect x="128" y="260" width="1" height="1" fill="#f0c8f6"/><rect x="117" y="262" width="1" height="1" fill="#f0c8f6"/><rect x="135" y="262" width="1" height="1" fill="#f0c8f6"/><rect x="132" y="264" width="2" height="1" fill="#f0c8f6"/><rect x="130" y="265" width="1" height="1" fill="#f0c8f6"/><rect x="127" y="268" width="1" height="1" fill="#f0c8f6"/><rect x="125" y="271" width="1" height="1" fill="#f0c8f6"/><rect x="122" y="272" width="1" height="1" fill="#f0c8f6"/><rect x="126" y="272" width="1" height="1" fill="#f0c8f6"/><rect x="125" y="273" width="2" height="1" fill="#f0c8f6"/><rect x="122" y="274" width="1" height="1" fill="#f0c8f6"/><rect x="123" y="274" width="1" height="1" fill="#7a08d8"/><rect x="124" y="274" width="1" height="1" fill="#b838e0"/><rect x="126" y="274" width="1" height="1" fill="#f0c8f6"/><rect x="128" y="274" width="1" height="1" fill="#f0c8f6"/><rect x="120" y="275" width="1" height="1" fill="#f0c8f6"/><rect x="121" y="275" width="1" height="1" fill="#b838e0"/><rect x="122" y="275" width="1" height="1" fill="#f0c8f6"/><rect x="123" y="275" width="1" height="1" fill="#7a08d8"/><rect x="124" y="275" width="1" height="1" fill="#b838e0"/><rect x="125" y="275" width="1" height="1" fill="#f0c8f6"/><rect x="126" y="275" width="2" height="1" fill="#b838e0"/><rect x="128" y="275" width="1" height="1" fill="#f0c8f6"/><rect x="130" y="275" width="1" height="1" fill="#f0c8f6"/><rect x="119" y="276" width="1" height="1" fill="#f0c8f6"/><rect x="121" y="276" width="1" height="1" fill="#f0c8f6"/><rect x="122" y="276" width="2" height="1" fill="#7a08d8"/><rect x="124" y="276" width="1" height="1" fill="#b838e0"/><rect x="125" y="276" width="1" height="1" fill="#7a08d8"/><rect x="126" y="276" width="3" height="1" fill="#b838e0"/><rect x="129" y="276" width="1" height="1" fill="#f0c8f6"/><rect x="130" y="276" width="2" height="1" fill="#b838e0"/><rect x="115" y="277" width="1" height="1" fill="#f0c8f6"/><rect x="119" y="277" width="1" height="1" fill="#f0c8f6"/><rect x="120" y="277" width="2" height="1" fill="#7a08d8"/><rect x="122" y="277" width="1" height="1" fill="#5800d0"/><rect x="123" y="277" width="1" height="1" fill="#7a08d8"/><rect x="124" y="277" width="2" height="1" fill="#5800d0"/><rect x="126" y="277" width="1" height="1" fill="#7a08d8"/><rect x="127" y="277" width="1" height="1" fill="#5800d0"/><rect x="128" y="277" width="2" height="1" fill="#7a08d8"/><rect x="130" y="277" width="1" height="1" fill="#f0c8f6"/><rect x="132" y="277" width="1" height="1" fill="#b838e0"/><rect x="135" y="277" width="1" height="1" fill="#f0c8f6"/><rect x="117" y="278" width="1" height="1" fill="#f0c8f6"/><rect x="119" y="278" width="2" height="1" fill="#b838e0"/><rect x="121" y="278" width="1" height="1" fill="#5800d0"/><rect x="122" y="278" width="1" height="1" fill="#7a08d8"/><rect x="123" y="278" width="7" height="1" fill="#5800d0"/><rect x="130" y="278" width="2" height="1" fill="#7a08d8"/><rect x="132" y="278" width="1" height="1" fill="#f0c8f6"/><rect x="117" y="279" width="2" height="1" fill="#f0c8f6"/><rect x="119" y="279" width="1" height="1" fill="#b838e0"/><rect x="120" y="279" width="1" height="1" fill="#7a08d8"/><rect x="121" y="279" width="10" height="1" fill="#5800d0"/><rect x="131" y="279" width="1" height="1" fill="#f0c8f6"/><rect x="132" y="279" width="2" height="1" fill="#7a08d8"/><rect x="118" y="280" width="1" height="1" fill="#b838e0"/><rect x="119" y="280" width="2" height="1" fill="#7a08d8"/><rect x="121" y="280" width="3" height="1" fill="#5800d0"/><rect x="124" y="280" width="4" height="1" fill="#2020ff"/><rect x="128" y="280" width="3" height="1" fill="#5800d0"/><rect x="131" y="280" width="1" height="1" fill="#b838e0"/><rect x="132" y="280" width="1" height="1" fill="#7a08d8"/><rect x="118" y="281" width="1" height="1" fill="#b838e0"/><rect x="119" y="281" width="4" height="1" fill="#5800d0"/><rect x="123" y="281" width="6" height="1" fill="#2020ff"/><rect x="129" y="281" width="2" height="1" fill="#5800d0"/><rect x="131" y="281" width="1" height="1" fill="#7a08d8"/><rect x="132" y="281" width="1" height="1" fill="#5800d0"/><rect x="133" y="281" width="1" height="1" fill="#b838e0"/><rect x="134" y="281" width="1" height="1" fill="#f0c8f6"/><rect x="117" y="282" width="1" height="1" fill="#f0c8f6"/><rect x="118" y="282" width="1" height="1" fill="#b838e0"/><rect x="119" y="282" width="1" height="1" fill="#7a08d8"/><rect x="120" y="282" width="3" height="1" fill="#5800d0"/><rect x="123" y="282" width="2" height="1" fill="#2020ff"/><rect x="125" y="282" width="2" height="1" fill="#0aa8ff"/><rect x="127" y="282" width="2" height="1" fill="#2020ff"/><rect x="129" y="282" width="2" height="1" fill="#5800d0"/><rect x="131" y="282" width="2" height="1" fill="#7a08d8"/><rect x="133" y="282" width="1" height="1" fill="#b838e0"/><rect x="135" y="282" width="1" height="1" fill="#f0c8f6"/><rect x="116" y="283" width="1" height="1" fill="#f0c8f6"/><rect x="117" y="283" width="1" height="1" fill="#b838e0"/><rect x="118" y="283" width="1" height="1" fill="#7a08d8"/><rect x="119" y="283" width="1" height="1" fill="#f0c8f6"/><rect x="120" y="283" width="3" height="1" fill="#5800d0"/><rect x="123" y="283" width="3" height="1" fill="#2020ff"/><rect x="126" y="283" width="1" height="1" fill="#0aa8ff"/><rect x="127" y="283" width="2" height="1" fill="#2020ff"/><rect x="129" y="283" width="3" height="1" fill="#5800d0"/><rect x="132" y="283" width="1" height="1" fill="#7a08d8"/><rect x="133" y="283" width="1" height="1" fill="#b838e0"/><rect x="134" y="283" width="1" height="1" fill="#f0c8f6"/><rect x="117" y="284" width="1" height="1" fill="#5800d0"/><rect x="118" y="284" width="2" height="1" fill="#f0c8f6"/><rect x="120" y="284" width="1" height="1" fill="#7a08d8"/><rect x="121" y="284" width="2" height="1" fill="#5800d0"/><rect x="123" y="284" width="5" height="1" fill="#2020ff"/><rect x="128" y="284" width="3" height="1" fill="#5800d0"/><rect x="131" y="284" width="2" height="1" fill="#b838e0"/><rect x="133" y="284" width="2" height="1" fill="#f0c8f6"/><rect x="116" y="285" width="1" height="1" fill="#f0c8f6"/><rect x="118" y="285" width="1" height="1" fill="#b838e0"/><rect x="119" y="285" width="2" height="1" fill="#7a08d8"/><rect x="121" y="285" width="4" height="1" fill="#5800d0"/><rect x="125" y="285" width="2" height="1" fill="#2020ff"/><rect x="127" y="285" width="4" height="1" fill="#5800d0"/><rect x="131" y="285" width="2" height="1" fill="#7a08d8"/><rect x="133" y="285" width="2" height="1" fill="#b838e0"/><rect x="138" y="285" width="1" height="1" fill="#f0c8f6"/><rect x="117" y="286" width="3" height="1" fill="#f0c8f6"/><rect x="120" y="286" width="1" height="1" fill="#5800d0"/><rect x="121" y="286" width="1" height="1" fill="#b838e0"/><rect x="122" y="286" width="8" height="1" fill="#5800d0"/><rect x="130" y="286" width="2" height="1" fill="#7a08d8"/><rect x="132" y="286" width="1" height="1" fill="#b838e0"/><rect x="136" y="286" width="1" height="1" fill="#f0c8f6"/><rect x="120" y="287" width="1" height="1" fill="#7a08d8"/><rect x="121" y="287" width="1" height="1" fill="#b838e0"/><rect x="122" y="287" width="6" height="1" fill="#5800d0"/><rect x="128" y="287" width="1" height="1" fill="#b838e0"/><rect x="129" y="287" width="1" height="1" fill="#5800d0"/><rect x="130" y="287" width="2" height="1" fill="#b838e0"/><rect x="132" y="287" width="2" height="1" fill="#f0c8f6"/><rect x="120" y="288" width="1" height="1" fill="#f0c8f6"/><rect x="121" y="288" width="2" height="1" fill="#b838e0"/><rect x="123" y="288" width="3" height="1" fill="#5800d0"/><rect x="126" y="288" width="5" height="1" fill="#7a08d8"/><rect x="120" y="289" width="1" height="1" fill="#f0c8f6"/><rect x="122" y="289" width="1" height="1" fill="#b838e0"/><rect x="123" y="289" width="1" height="1" fill="#7a08d8"/><rect x="124" y="289" width="2" height="1" fill="#f0c8f6"/><rect x="126" y="289" width="1" height="1" fill="#7a08d8"/><rect x="127" y="289" width="1" height="1" fill="#5800d0"/><rect x="128" y="289" width="1" height="1" fill="#b838e0"/><rect x="131" y="289" width="2" height="1" fill="#f0c8f6"/><rect x="123" y="290" width="2" height="1" fill="#f0c8f6"/><rect x="126" y="290" width="4" height="1" fill="#f0c8f6"/><rect x="122" y="291" width="1" height="1" fill="#f0c8f6"/><rect x="127" y="291" width="3" height="1" fill="#f0c8f6"/><rect x="133" y="292" width="1" height="1" fill="#f0c8f6"/><path d="M127 242.6 L128.7 245.8 L127 249 L125.3 245.8 Z" fill="#40e0b0" stroke="#20b0ff" stroke-width="0.6"/></g><path d="M122.6 279.6 L129 286 M129 279.6 L122.6 286" stroke="#fff" stroke-width="1.2"/><rect x="33.4" y="190.8" width="125.2" height="111.3" fill="none" stroke="#111" stroke-width="1.1"/><path d="M96.2 190.8 V302.1" stroke="#111" stroke-width="1.1"/><path d="M33.4 190.8h-2.5M96.2 190.8h2.5M33.4 200.1h1.5M96.2 200.1h1.5M33.4 209.4h-2.5M96.2 209.4h2.5M33.4 218.6h1.5M96.2 218.6h1.5M33.4 227.9h-2.5M96.2 227.9h2.5M33.4 237.2h1.5M96.2 237.2h1.5M33.4 246.5h-2.5M96.2 246.5h2.5M33.4 255.8h1.5M96.2 255.8h1.5M33.4 265.1h-2.5M96.2 265.1h2.5M33.4 274.3h1.5M96.2 274.3h1.5M33.4 283.6h-2.5M96.2 283.6h2.5M33.4 292.9h1.5M96.2 292.9h1.5M33.4 302.2h-2.5M96.2 302.2h2.5M33.4 302.1v2.5M96.2 302.1v2.5M39.6 302.1v1.5M102.4 302.1v1.5M45.8 302.1v1.5M108.6 302.1v1.5M52 302.1v1.5M114.8 302.1v1.5M58.2 302.1v1.5M121 302.1v1.5M64.4 302.1v2.5M127.2 302.1v2.5M70.6 302.1v1.5M133.4 302.1v1.5M76.8 302.1v1.5M139.6 302.1v1.5M83 302.1v1.5M145.8 302.1v1.5M89.2 302.1v1.5M152 302.1v1.5M95.4 302.1v2.5M158.2 302.1v2.5" stroke="#111" stroke-width="0.9" fill="none"/><text x="28.6" y="193.9" font-size="8.6" text-anchor="end" font-family="Liberation Sans, Arial, sans-serif">3.15</text><text x="28.6" y="212.5" font-size="8.6" text-anchor="end" font-family="Liberation Sans, Arial, sans-serif">3.10</text><text x="28.6" y="231" font-size="8.6" text-anchor="end" font-family="Liberation Sans, Arial, sans-serif">3.05</text><text x="28.6" y="249.6" font-size="8.6" text-anchor="end" font-family="Liberation Sans, Arial, sans-serif">3.00</text><text x="28.6" y="268.2" font-size="8.6" text-anchor="end" font-family="Liberation Sans, Arial, sans-serif">2.95</text><text x="28.6" y="286.7" font-size="8.6" text-anchor="end" font-family="Liberation Sans, Arial, sans-serif">2.90</text><text x="28.6" y="305.3" font-size="8.6" text-anchor="end" font-family="Liberation Sans, Arial, sans-serif">2.85</text><text x="33.7" y="313.6" font-size="8.6" text-anchor="middle" font-family="Liberation Sans, Arial, sans-serif">0.95</text><text x="64.7" y="313.6" font-size="8.6" text-anchor="middle" font-family="Liberation Sans, Arial, sans-serif">1.00</text><text x="127.5" y="313.6" font-size="8.6" text-anchor="middle" font-family="Liberation Sans, Arial, sans-serif">1.00</text><text x="158.9" y="313.6" font-size="8.6" text-anchor="middle" font-family="Liberation Sans, Arial, sans-serif">1.05</text><text x="64.6" y="325" font-size="8.8" text-anchor="middle" font-family="Liberation Sans, Arial, sans-serif"><tspan font-style="italic">h</tspan> (r.l.u.)</text><text x="127.6" y="325" font-size="8.8" text-anchor="middle" font-family="Liberation Sans, Arial, sans-serif"><tspan font-style="italic">h</tspan> (r.l.u.)</text><text transform="translate(7.6,246.2) rotate(-90)" font-size="9" text-anchor="middle" font-family="Liberation Sans, Arial, sans-serif"><tspan font-style="italic">l</tspan> (r.l.u.)</text><text x="34.6" y="202.2" font-size="9.4" fill="#222" font-family="Liberation Sans, Arial, sans-serif">(c)</text><text x="59.4" y="203" font-size="10.3" fill="#222" font-family="Liberation Sans, Arial, sans-serif">As dep.</text><text x="64.8" y="218" font-size="10" fill="#222" font-family="Liberation Sans, Arial, sans-serif" >(103)<tspan font-size="6.4" dy="1.6">P</tspan></text><text x="100.6" y="202.2" font-size="9.4" fill="#222" font-family="Liberation Sans, Arial, sans-serif">(d)</text><text x="124.9" y="203" font-size="10.3" fill="#222" font-family="Liberation Sans, Arial, sans-serif">530 °C</text><text x="96.4" y="297.6" font-size="10.6" fill="#222" font-family="Liberation Sans, Arial, sans-serif">(11<tspan text-decoration="underline">12</tspan>)<tspan font-size="6.3" dy="3">BM</tspan></text><path d="M190.1 293.56L190.5 296.09L190.9 292.98L191.3 299.42L191.7 295.39L192.1 292.81L192.5 292.51L192.9 291.54L193.3 292.22L193.7 294.63L194.1 293.58L194.5 294.48L194.9 291.02L195.3 294.30L195.7 293.45L196.1 293.85L196.5 295.19L196.9 299.39L197.3 291.44L197.7 293.94L198.1 293.24L198.5 292.22L198.9 290.97L199.3 293.11L199.7 291.59L200.1 294.02L200.5 292.29L200.9 292.46L201.3 291.22L201.7 296.40L202.1 291.47L202.5 291.55L202.9 290.45L203.3 291.57L203.7 291.70L204.1 299.73L204.5 292.55L204.9 290.91L205.3 291.71L205.7 291.03L206.1 293.67L206.5 293.16L206.9 290.39L207.3 293.77L207.7 293.71L208.1 292.93L208.5 291.68L208.9 290.54L209.3 290.89L209.7 290.38L210.1 290.36L210.5 292.09L210.9 292.87L211.3 289.62L211.7 293.12L212.1 289.26L212.5 290.62L212.9 290.17L213.3 291.86L213.7 289.66L214.1 289.83L214.5 290.87L214.9 290.88L215.3 291.88L215.7 290.61L216.1 291.13L216.5 291.52L216.9 292.86L217.3 290.08L217.7 290.26L218.1 295.05L218.5 297.10L218.9 291.14L219.3 291.64L219.7 293.75L220.1 290.57L220.5 290.35L220.9 293.05L221.3 291.40L221.7 289.44L222.1 296.05L222.5 290.91L222.9 290.87L223.3 295.28L223.7 290.41L224.1 291.08L224.5 290.10L224.9 290.97L225.3 292.23L225.7 292.66L226.1 289.13L226.5 290.77L226.9 294.21L227.3 290.19L227.7 291.35L228.1 290.76L228.5 291.76L228.9 294.45L229.3 290.01L229.7 290.63L230.1 289.34L230.5 289.11L230.9 291.75L231.3 290.59L231.7 290.77L232.1 287.80L232.5 289.27L232.9 289.11L233.3 290.35L233.7 289.54L234.1 290.05L234.5 289.83L234.9 288.68L235.3 288.42L235.7 288.28L236.1 290.05L236.5 291.60L236.9 287.58L237.3 287.35L237.7 287.49L238.1 289.47L238.5 286.75L238.9 288.39L239.3 287.12L239.7 288.36L240.1 287.69L240.5 287.82L240.9 287.42L241.3 286.07L241.7 288.78L242.1 285.87L242.5 286.50L242.9 287.04L243.3 287.50L243.7 287.23L244.1 285.59L244.5 285.68L244.9 285.11L245.3 286.97L245.7 285.87L246.1 285.37L246.5 286.96L246.9 284.71L247.3 284.78L247.7 285.73L248.1 286.36L248.5 286.25L248.9 283.04L249.3 284.08L249.7 284.16L250.1 283.68L250.5 284.65L250.9 282.88L251.3 285.87L251.7 284.22L252.1 282.09L252.5 285.36L252.9 283.19L253.3 281.00L253.7 282.50L254.1 281.62L254.5 280.33L254.9 280.55L255.3 279.97L255.7 280.71L256.1 280.63L256.5 281.64L256.9 280.47L257.3 279.45L257.7 282.02L258.1 281.51L258.5 279.65L258.9 279.08L259.3 282.27L259.7 279.20L260.1 280.34L260.5 278.00L260.9 278.72L261.3 278.64L261.7 278.80L262.1 278.99L262.5 277.79L262.9 278.98L263.3 276.44L263.7 277.45L264.1 279.31L264.5 278.48L264.9 278.71L265.3 275.31L265.7 274.88L266.1 275.68L266.5 276.33L266.9 276.16L267.3 274.49L267.7 274.51L268.1 276.61L268.5 274.72L268.9 274.47L269.3 273.93L269.7 273.52L270.1 273.13L270.5 272.64L270.9 272.62L271.3 272.21L271.7 274.42L272.1 272.67L272.5 272.85L272.9 273.58L273.3 273.26L273.7 272.36L274.1 272.98L274.5 272.12L274.9 271.01L275.3 270.87L275.7 269.27L276.1 270.28L276.5 270.23L276.9 270.65L277.3 269.80L277.7 269.64L278.1 269.45L278.5 269.00L278.9 268.46L279.3 268.41L279.7 267.96L280.1 267.47L280.5 267.12L280.9 266.60L281.3 266.10L281.7 265.65L282.1 265.14L282.5 264.61L282.9 264.01L283.3 263.40L283.7 262.74L284.1 262.06L284.5 261.35L284.9 260.58L285.3 259.82L285.7 259.02L286.1 258.13L286.5 257.37L286.9 256.32L287.3 255.63L287.7 254.40L288.1 253.58L288.5 252.71L288.9 250.79L289.3 249.62L289.7 247.64L290.1 245.85L290.5 244.00L290.9 241.32L291.3 238.40L291.7 235.30L292.1 231.80L292.5 227.76L292.9 223.41L293.3 218.77L293.7 213.67L294.1 208.54L294.5 203.69L294.9 198.90L295.3 196.50L295.7 201.30L296.1 206.09L296.5 211.08L296.9 216.25L297.3 221.16L297.7 225.61L298.1 229.83L298.5 233.63L298.9 236.87L299.3 239.89L299.7 242.65L300.1 244.53L300.5 247.38L300.9 249.36L301.3 248.44L301.7 250.20L302.1 250.30L302.5 251.04L302.9 251.17L303.3 252.65L303.7 253.95L304.1 254.66L304.5 257.63L304.9 255.71L305.3 256.05L305.7 255.31L306.1 257.65L306.5 255.83L306.9 257.37L307.3 258.98L307.7 257.04L308.1 257.80L308.5 257.30L308.9 257.44L309.3 258.03L309.7 262.00L310.1 258.33L310.5 257.79L310.9 258.15L311.3 258.09L311.7 257.46L312.1 257.93L312.5 258.49L312.9 257.75L313.3 258.42L313.7 258.49L314.1 257.56L314.5 257.77L314.9 258.12L315.3 257.15L315.7 256.81L316.1 258.22L316.5 257.51L316.9 257.23L317.3 257.35L317.7 257.01L318.1 256.67L318.5 256.58L318.9 256.86L319.3 256.00L319.7 255.97L320.1 256.64L320.5 254.78L320.9 254.20L321.3 255.03L321.7 254.31L322.1 253.40L322.5 252.12L322.9 252.87L323.3 252.06L323.7 251.60L324.1 251.98L324.5 251.11L324.9 249.55L325.3 253.58L325.7 249.42L326.1 249.98L326.5 247.32L326.9 250.21L327.3 246.48L327.7 246.59L328.1 245.65L328.5 246.18L328.9 242.49L329.3 242.21L329.7 241.84L330.1 240.97L330.5 239.83L330.9 238.35L331.3 238.91L331.7 238.01L332.1 236.84L332.5 236.69L332.9 234.52L333.3 234.37L333.7 232.83L334.1 231.52L334.5 231.65L334.9 229.30L335.3 228.63L335.7 227.49L336.1 227.95L336.5 228.11L336.9 226.66L337.3 226.36L337.7 224.91L338.1 224.30L338.5 224.82L338.9 224.85L339.3 225.78L339.7 225.36L340.1 226.79L340.5 227.53L340.9 228.29L341.3 229.73L341.7 234.29L342.1 233.26L342.5 235.82L342.9 238.07L343.3 238.80L343.7 241.37L344.1 242.75L344.5 244.14L344.9 246.95L345.3 247.15L345.7 249.10L346.1 250.30L346.5 251.56L346.9 252.65L347.3 253.19L347.7 254.70L348.1 255.98L348.5 259.43L348.9 258.41L349.3 259.05L349.7 259.05L350.1 260.70L350.5 261.66L350.9 262.26L351.3 263.35L351.7 262.68L352.1 263.21L352.5 267.60L352.9 265.52L353.3 265.20L353.7 266.03L354.1 267.60L354.5 267.01L354.9 268.52L355.3 267.94L355.7 268.87L356.1 272.63L356.5 269.64L356.9 271.81L357.3 270.51L357.7 273.79L358.1 270.68L358.5 272.37L358.9 272.39L359.3 272.00L359.7 274.25L360.1 273.17L360.5 272.21" fill="none" stroke="#6a2aa8" stroke-width="0.9" stroke-linejoin="round"/><path d="M190.1 290.72L190.5 299.58L190.9 292.65L191.3 301.40L191.7 293.25L192.1 289.94L192.5 295.98L192.9 292.81L193.3 293.32L193.7 292.56L194.1 293.68L194.5 293.17L194.9 293.05L195.3 293.17L195.7 293.45L196.1 293.70L196.5 296.71L196.9 289.30L197.3 290.45L197.7 290.57L198.1 292.26L198.5 289.82L198.9 300.96L199.3 293.31L199.7 292.33L200.1 292.77L200.5 296.97L200.9 291.44L201.3 291.67L201.7 291.17L202.1 294.67L202.5 290.03L202.9 293.12L203.3 292.91L203.7 289.63L204.1 295.37L204.5 289.39L204.9 294.93L205.3 289.75L205.7 291.57L206.1 300.34L206.5 290.13L206.9 292.50L207.3 292.27L207.7 292.59L208.1 292.25L208.5 290.84L208.9 290.80L209.3 300.45L209.7 290.08L210.1 291.71L210.5 290.23L210.9 289.97L211.3 290.32L211.7 288.24L212.1 289.28L212.5 290.52L212.9 289.80L213.3 288.60L213.7 291.85L214.1 289.95L214.5 288.58L214.9 289.19L215.3 288.16L215.7 297.42L216.1 289.42L216.5 289.98L216.9 289.12L217.3 292.39L217.7 289.61L218.1 288.92L218.5 289.95L218.9 288.51L219.3 289.85L219.7 288.80L220.1 288.00L220.5 287.95L220.9 288.00L221.3 290.65L221.7 288.93L222.1 289.81L222.5 287.68L222.9 287.22L223.3 286.67L223.7 288.33L224.1 288.33L224.5 289.07L224.9 295.44L225.3 287.14L225.7 288.16L226.1 286.55L226.5 288.27L226.9 286.79L227.3 287.08L227.7 287.77L228.1 289.30L228.5 286.20L228.9 287.64L229.3 286.19L229.7 293.84L230.1 286.65L230.5 288.51L230.9 287.33L231.3 286.66L231.7 287.20L232.1 286.59L232.5 286.04L232.9 285.49L233.3 286.05L233.7 287.39L234.1 286.07L234.5 289.47L234.9 284.61L235.3 285.01L235.7 284.02L236.1 287.30L236.5 284.02L236.9 283.73L237.3 291.33L237.7 285.20L238.1 283.12L238.5 283.50L238.9 285.72L239.3 285.55L239.7 286.63L240.1 288.86L240.5 283.77L240.9 282.49L241.3 282.88L241.7 282.77L242.1 281.30L242.5 285.69L242.9 287.67L243.3 284.59L243.7 281.16L244.1 283.12L244.5 284.10L244.9 282.49L245.3 285.57L245.7 287.66L246.1 282.59L246.5 284.75L246.9 282.36L247.3 282.34L247.7 281.74L248.1 282.88L248.5 282.37L248.9 286.82L249.3 281.56L249.7 280.92L250.1 281.42L250.5 283.71L250.9 280.24L251.3 280.74L251.7 279.96L252.1 278.98L252.5 280.83L252.9 281.73L253.3 280.38L253.7 279.15L254.1 279.01L254.5 278.89L254.9 280.78L255.3 282.88L255.7 278.41L256.1 279.92L256.5 279.19L256.9 277.33L257.3 280.44L257.7 282.64L258.1 277.83L258.5 281.18L258.9 278.06L259.3 279.45L259.7 277.32L260.1 277.40L260.5 277.17L260.9 276.58L261.3 275.94L261.7 277.66L262.1 276.36L262.5 274.96L262.9 274.90L263.3 275.98L263.7 275.14L264.1 275.88L264.5 278.98L264.9 274.07L265.3 276.08L265.7 274.26L266.1 274.55L266.5 275.05L266.9 273.36L267.3 271.75L267.7 271.68L268.1 273.40L268.5 272.35L268.9 277.00L269.3 272.68L269.7 271.97L270.1 271.57L270.5 271.06L270.9 275.49L271.3 271.14L271.7 271.06L272.1 269.75L272.5 271.06L272.9 269.90L273.3 273.32L273.7 270.27L274.1 270.30L274.5 272.68L274.9 268.39L275.3 269.82L275.7 270.78L276.1 268.70L276.5 267.67L276.9 270.54L277.3 266.81L277.7 267.62L278.1 269.53L278.5 266.26L278.9 268.70L279.3 265.53L279.7 265.57L280.1 267.25L280.5 265.46L280.9 265.53L281.3 265.62L281.7 263.53L282.1 264.74L282.5 264.42L282.9 263.81L283.3 263.08L283.7 262.27L284.1 261.98L284.5 261.18L284.9 260.50L285.3 259.55L285.7 258.96L286.1 257.58L286.5 256.97L286.9 256.19L287.3 255.21L287.7 254.53L288.1 252.89L288.5 252.32L288.9 250.07L289.3 250.10L289.7 248.29L290.1 245.19L290.5 243.65L290.9 241.20L291.3 238.39L291.7 235.30L292.1 231.80L292.5 227.76L292.9 223.41L293.3 218.77L293.7 213.67L294.1 208.54L294.5 203.69L294.9 198.90L295.3 196.50L295.7 201.30L296.1 206.09L296.5 211.08L296.9 216.25L297.3 221.16L297.7 225.61L298.1 229.83L298.5 233.63L298.9 236.87L299.3 239.89L299.7 242.53L300.1 244.96L300.5 245.67L300.9 247.66L301.3 246.50L301.7 247.72L302.1 247.92L302.5 250.42L302.9 248.53L303.3 252.72L303.7 254.18L304.1 252.35L304.5 251.00L304.9 251.23L305.3 252.30L305.7 252.69L306.1 250.61L306.5 253.17L306.9 251.30L307.3 256.01L307.7 252.42L308.1 249.69L308.5 253.79L308.9 249.68L309.3 248.63L309.7 248.69L310.1 250.20L310.5 247.47L310.9 246.54L311.3 245.54L311.7 245.90L312.1 245.37L312.5 249.23L312.9 243.98L313.3 242.83L313.7 243.59L314.1 240.77L314.5 239.46L314.9 239.14L315.3 237.52L315.7 236.21L316.1 235.34L316.5 234.30L316.9 233.42L317.3 232.68L317.7 232.71L318.1 232.14L318.5 229.78L318.9 230.75L319.3 229.43L319.7 230.01L320.1 229.39L320.5 228.03L320.9 229.18L321.3 227.78L321.7 228.30L322.1 229.29L322.5 230.89L322.9 230.37L323.3 232.83L323.7 231.89L324.1 231.85L324.5 233.72L324.9 237.05L325.3 235.49L325.7 237.14L326.1 238.83L326.5 238.86L326.9 240.89L327.3 242.53L327.7 243.85L328.1 244.91L328.5 245.91L328.9 246.89L329.3 248.16L329.7 248.89L330.1 249.15L330.5 249.53L330.9 250.75L331.3 252.24L331.7 252.64L332.1 253.59L332.5 253.38L332.9 255.91L333.3 255.74L333.7 256.83L334.1 256.33L334.5 256.80L334.9 259.11L335.3 258.28L335.7 259.27L336.1 259.24L336.5 259.73L336.9 259.34L337.3 261.36L337.7 260.47L338.1 261.47L338.5 265.42L338.9 262.00L339.3 261.75L339.7 261.96L340.1 262.84L340.5 262.69L340.9 263.05L341.3 263.44L341.7 268.05L342.1 264.18L342.5 263.99L342.9 265.43L343.3 266.00L343.7 265.48L344.1 265.43L344.5 266.48L344.9 266.51L345.3 266.87L345.7 267.20L346.1 267.52L346.5 267.38L346.9 267.79L347.3 268.70L347.7 268.32L348.1 268.60L348.5 269.20L348.9 269.94L349.3 270.05L349.7 270.24L350.1 270.40L350.5 270.84L350.9 270.72L351.3 274.05L351.7 272.07L352.1 272.71L352.5 272.39L352.9 273.27L353.3 275.15L353.7 273.69L354.1 273.48L354.5 275.76L354.9 274.27L355.3 275.08L355.7 274.80L356.1 275.03L356.5 276.14L356.9 276.15L357.3 276.29L357.7 278.28L358.1 277.37L358.5 277.84L358.9 278.22L359.3 278.08L359.7 278.03L360.1 280.43L360.5 279.28" fill="none" stroke="#1a1af0" stroke-width="0.9" stroke-linejoin="round"/><path d="M190.1 286.92L190.5 287.36L190.9 289.29L191.3 286.11L191.7 286.00L192.1 285.26L192.5 287.62L192.9 287.06L193.3 286.41L193.7 289.78L194.1 285.69L194.5 287.21L194.9 285.89L195.3 288.50L195.7 284.93L196.1 285.47L196.5 287.69L196.9 290.42L197.3 286.03L197.7 285.37L198.1 285.45L198.5 286.68L198.9 285.07L199.3 287.47L199.7 283.23L200.1 285.89L200.5 286.42L200.9 283.91L201.3 283.76L201.7 285.83L202.1 283.01L202.5 282.43L202.9 284.37L203.3 285.21L203.7 285.91L204.1 283.54L204.5 285.10L204.9 285.43L205.3 284.95L205.7 281.73L206.1 283.75L206.5 282.76L206.9 284.56L207.3 282.18L207.7 283.57L208.1 284.83L208.5 283.23L208.9 283.75L209.3 284.03L209.7 281.21L210.1 281.13L210.5 281.33L210.9 281.50L211.3 280.56L211.7 280.11L212.1 280.48L212.5 280.54L212.9 280.94L213.3 282.48L213.7 280.74L214.1 280.00L214.5 281.53L214.9 278.93L215.3 281.62L215.7 279.79L216.1 279.85L216.5 282.97L216.9 282.33L217.3 284.06L217.7 277.06L218.1 277.10L218.5 277.91L218.9 277.80L219.3 276.61L219.7 275.45L220.1 277.98L220.5 277.00L220.9 277.14L221.3 275.79L221.7 279.55L222.1 277.53L222.5 274.41L222.9 275.76L223.3 275.29L223.7 276.72L224.1 274.24L224.5 275.86L224.9 275.76L225.3 274.85L225.7 273.86L226.1 274.08L226.5 273.76L226.9 272.31L227.3 273.77L227.7 272.21L228.1 272.83L228.5 273.55L228.9 273.01L229.3 272.47L229.7 272.22L230.1 271.30L230.5 271.69L230.9 272.15L231.3 271.74L231.7 272.62L232.1 272.08L232.5 270.98L232.9 274.64L233.3 271.55L233.7 272.58L234.1 269.85L234.5 270.82L234.9 270.45L235.3 271.93L235.7 270.89L236.1 271.02L236.5 271.17L236.9 272.45L237.3 270.29L237.7 270.48L238.1 270.81L238.5 271.27L238.9 271.13L239.3 270.13L239.7 270.02L240.1 269.79L240.5 270.12L240.9 270.46L241.3 270.98L241.7 270.77L242.1 270.15L242.5 269.47L242.9 269.47L243.3 269.88L243.7 269.87L244.1 269.71L244.5 268.91L244.9 268.39L245.3 267.99L245.7 268.13L246.1 268.20L246.5 268.94L246.9 267.34L247.3 267.94L247.7 271.09L248.1 271.67L248.5 267.83L248.9 268.57L249.3 266.77L249.7 267.89L250.1 270.52L250.5 268.39L250.9 266.37L251.3 267.35L251.7 265.94L252.1 267.75L252.5 266.85L252.9 266.79L253.3 266.56L253.7 265.52L254.1 265.93L254.5 266.75L254.9 265.87L255.3 265.18L255.7 265.35L256.1 265.14L256.5 264.46L256.9 264.52L257.3 264.29L257.7 264.78L258.1 264.19L258.5 265.02L258.9 263.74L259.3 264.29L259.7 265.43L260.1 263.65L260.5 263.89L260.9 263.72L261.3 262.30L261.7 263.00L262.1 266.43L262.5 263.36L262.9 266.92L263.3 261.88L263.7 260.98L264.1 262.09L264.5 261.58L264.9 260.49L265.3 261.89L265.7 261.03L266.1 263.83L266.5 260.09L266.9 259.89L267.3 260.66L267.7 260.11L268.1 258.06L268.5 263.65L268.9 259.45L269.3 257.84L269.7 258.24L270.1 257.13L270.5 257.30L270.9 257.71L271.3 258.00L271.7 256.93L272.1 258.17L272.5 256.93L272.9 257.47L273.3 256.17L273.7 256.04L274.1 256.04L274.5 256.94L274.9 255.75L275.3 257.74L275.7 256.21L276.1 257.10L276.5 256.09L276.9 255.11L277.3 256.08L277.7 256.62L278.1 255.66L278.5 255.99L278.9 256.35L279.3 255.89L279.7 256.13L280.1 255.35L280.5 255.73L280.9 260.94L281.3 254.53L281.7 254.39L282.1 254.55L282.5 254.11L282.9 254.55L283.3 255.01L283.7 252.93L284.1 252.41L284.5 253.17L284.9 251.90L285.3 250.99L285.7 252.05L286.1 250.06L286.5 253.05L286.9 249.40L287.3 247.55L287.7 248.02L288.1 250.12L288.5 246.38L288.9 248.39L289.3 243.34L289.7 242.16L290.1 242.14L290.5 239.80L290.9 239.10L291.3 237.88L291.7 235.27L292.1 231.80L292.5 227.76L292.9 223.41L293.3 218.77L293.7 213.67L294.1 208.54L294.5 203.69L294.9 198.90L295.3 196.50L295.7 201.30L296.1 206.09L296.5 211.08L296.9 216.25L297.3 221.16L297.7 225.61L298.1 229.83L298.5 233.63L298.9 236.86L299.3 239.86L299.7 242.54L300.1 245.24L300.5 245.24L300.9 246.35L301.3 250.45L301.7 250.35L302.1 251.17L302.5 251.98L302.9 253.47L303.3 255.59L303.7 254.10L304.1 254.68L304.5 255.60L304.9 256.30L305.3 257.26L305.7 257.86L306.1 258.10L306.5 258.46L306.9 259.94L307.3 259.51L307.7 260.25L308.1 260.61L308.5 261.64L308.9 261.30L309.3 262.22L309.7 262.59L310.1 262.45L310.5 263.17L310.9 263.02L311.3 264.81L311.7 264.42L312.1 263.94L312.5 265.60L312.9 265.27L313.3 267.93L313.7 265.62L314.1 265.80L314.5 266.54L314.9 265.83L315.3 266.30L315.7 265.77L316.1 266.88L316.5 267.12L316.9 267.87L317.3 270.78L317.7 268.03L318.1 268.50L318.5 268.33L318.9 268.80L319.3 269.19L319.7 271.73L320.1 269.51L320.5 270.21L320.9 269.65L321.3 270.59L321.7 269.98L322.1 269.91L322.5 270.89L322.9 272.44L323.3 269.97L323.7 270.58L324.1 270.22L324.5 271.20L324.9 271.03L325.3 270.13L325.7 271.09L326.1 271.04L326.5 270.89L326.9 271.14L327.3 271.82L327.7 271.32L328.1 272.03L328.5 271.51L328.9 271.33L329.3 271.57L329.7 272.13L330.1 271.41L330.5 272.29L330.9 272.77L331.3 272.36L331.7 271.77L332.1 272.76L332.5 274.26L332.9 272.92L333.3 273.69L333.7 273.24L334.1 273.45L334.5 274.15L334.9 273.08L335.3 273.12L335.7 273.56L336.1 272.99L336.5 273.22L336.9 273.62L337.3 273.37L337.7 273.17L338.1 273.41L338.5 274.06L338.9 273.96L339.3 273.98L339.7 273.54L340.1 274.44L340.5 274.33L340.9 275.10L341.3 273.96L341.7 274.79L342.1 275.76L342.5 274.47L342.9 274.95L343.3 274.90L343.7 274.95L344.1 275.18L344.5 275.39L344.9 275.36L345.3 275.14L345.7 275.32L346.1 275.60L346.5 275.82L346.9 276.13L347.3 276.26L347.7 276.24L348.1 276.36L348.5 276.93L348.9 276.43L349.3 276.93L349.7 276.44L350.1 277.20L350.5 277.71L350.9 277.08L351.3 277.33L351.7 277.83L352.1 277.46L352.5 277.45L352.9 277.68L353.3 277.99L353.7 277.79L354.1 278.08L354.5 278.06L354.9 278.17L355.3 278.61L355.7 279.07L356.1 278.54L356.5 278.77L356.9 279.08L357.3 279.97L357.7 278.98L358.1 278.89L358.5 280.88L358.9 279.61L359.3 279.50L359.7 279.55L360.1 280.18L360.5 279.95" fill="none" stroke="#0a8a0a" stroke-width="1" stroke-linejoin="round"/><path d="M190.1 281.22L190.5 280.68L190.9 280.18L191.3 280.76L191.7 280.01L192.1 279.56L192.5 279.73L192.9 278.81L193.3 279.15L193.7 278.42L194.1 278.30L194.5 278.37L194.9 278.03L195.3 277.62L195.7 277.50L196.1 276.63L196.5 276.19L196.9 276.56L197.3 275.37L197.7 275.51L198.1 275.08L198.5 274.82L198.9 273.76L199.3 274.03L199.7 273.70L200.1 273.38L200.5 272.62L200.9 272.06L201.3 271.48L201.7 272.02L202.1 271.32L202.5 270.59L202.9 270.47L203.3 269.42L203.7 269.85L204.1 269.10L204.5 268.88L204.9 268.12L205.3 267.18L205.7 266.91L206.1 266.29L206.5 265.84L206.9 265.04L207.3 264.07L207.7 263.89L208.1 263.50L208.5 262.32L208.9 261.01L209.3 260.80L209.7 260.31L210.1 258.98L210.5 258.44L210.9 257.66L211.3 255.93L211.7 254.93L212.1 254.88L212.5 254.38L212.9 252.48L213.3 251.59L213.7 251.15L214.1 249.91L214.5 249.05L214.9 248.18L215.3 246.80L215.7 246.13L216.1 244.64L216.5 244.19L216.9 243.66L217.3 242.47L217.7 242.41L218.1 241.61L218.5 241.07L218.9 241.36L219.3 240.41L219.7 240.72L220.1 240.77L220.5 241.48L220.9 241.26L221.3 241.88L221.7 241.87L222.1 241.92L222.5 243.17L222.9 243.52L223.3 243.98L223.7 245.96L224.1 245.75L224.5 246.67L224.9 247.25L225.3 247.85L225.7 247.49L226.1 248.46L226.5 248.36L226.9 248.88L227.3 249.31L227.7 249.14L228.1 250.10L228.5 250.03L228.9 249.80L229.3 248.95L229.7 249.40L230.1 248.99L230.5 249.24L230.9 249.31L231.3 249.47L231.7 249.54L232.1 249.93L232.5 248.39L232.9 248.65L233.3 248.75L233.7 248.98L234.1 248.36L234.5 248.38L234.9 249.18L235.3 248.78L235.7 248.04L236.1 247.73L236.5 247.97L236.9 247.79L237.3 247.04L237.7 247.67L238.1 246.55L238.5 246.91L238.9 246.51L239.3 246.70L239.7 246.54L240.1 246.07L240.5 245.89L240.9 245.59L241.3 244.76L241.7 244.91L242.1 244.30L242.5 244.82L242.9 244.20L243.3 243.96L243.7 244.21L244.1 244.29L244.5 243.90L244.9 243.16L245.3 243.24L245.7 243.90L246.1 242.61L246.5 242.32L246.9 242.07L247.3 242.18L247.7 241.93L248.1 242.33L248.5 241.44L248.9 241.76L249.3 241.12L249.7 240.91L250.1 241.03L250.5 240.80L250.9 240.29L251.3 240.07L251.7 240.34L252.1 240.10L252.5 240.06L252.9 239.94L253.3 240.73L253.7 240.10L254.1 240.45L254.5 239.63L254.9 239.91L255.3 239.36L255.7 239.96L256.1 239.56L256.5 240.30L256.9 240.03L257.3 239.39L257.7 239.46L258.1 239.64L258.5 239.47L258.9 239.49L259.3 240.06L259.7 239.75L260.1 240.67L260.5 240.33L260.9 239.83L261.3 240.51L261.7 240.59L262.1 239.99L262.5 240.46L262.9 241.26L263.3 241.08L263.7 241.25L264.1 241.76L264.5 241.38L264.9 242.42L265.3 242.60L265.7 243.06L266.1 243.55L266.5 244.15L266.9 244.85L267.3 245.27L267.7 245.35L268.1 246.76L268.5 247.46L268.9 249.05L269.3 248.39L269.7 249.22L270.1 250.31L270.5 250.94L270.9 251.86L271.3 251.78L271.7 253.29L272.1 253.31L272.5 254.46L272.9 253.86L273.3 254.17L273.7 254.69L274.1 254.83L274.5 254.69L274.9 255.40L275.3 256.32L275.7 256.52L276.1 255.95L276.5 257.12L276.9 256.94L277.3 257.94L277.7 257.20L278.1 257.07L278.5 257.03L278.9 257.61L279.3 257.48L279.7 258.57L280.1 257.65L280.5 258.27L280.9 259.47L281.3 258.26L281.7 258.39L282.1 258.47L282.5 258.53L282.9 258.89L283.3 259.30L283.7 258.03L284.1 258.51L284.5 256.89L284.9 257.22L285.3 255.46L285.7 255.10L286.1 254.44L286.5 252.59L286.9 251.78L287.3 250.61L287.7 249.64L288.1 249.32L288.5 248.84L288.9 246.67L289.3 244.74L289.7 243.63L290.1 242.11L290.5 240.57L290.9 240.19L291.3 238.34L291.7 235.29L292.1 231.80L292.5 227.76L292.9 223.41L293.3 218.77L293.7 213.67L294.1 208.54L294.5 203.69L294.9 198.90L295.3 196.50L295.7 201.30L296.1 206.09L296.5 211.08L296.9 216.25L297.3 221.16L297.7 225.61L298.1 229.83L298.5 233.63L298.9 236.86L299.3 239.87L299.7 242.55L300.1 244.54L300.5 246.77L300.9 248.20L301.3 250.07L301.7 250.92L302.1 251.45L302.5 253.33L302.9 253.89L303.3 255.34L303.7 255.40L304.1 256.02L304.5 257.02L304.9 257.94L305.3 258.57L305.7 259.53L306.1 259.65L306.5 259.96L306.9 261.15L307.3 261.14L307.7 261.25L308.1 261.89L308.5 263.38L308.9 263.21L309.3 263.50L309.7 264.03L310.1 264.91L310.5 264.43L310.9 265.05L311.3 265.49L311.7 265.76L312.1 266.62L312.5 267.12L312.9 267.11L313.3 268.89L313.7 268.54L314.1 268.62L314.5 269.22L314.9 268.98L315.3 269.46L315.7 269.44L316.1 269.94L316.5 270.60L316.9 270.65L317.3 271.58L317.7 271.36L318.1 272.13L318.5 271.51L318.9 272.53L319.3 272.62L319.7 273.39L320.1 272.94L320.5 273.14L320.9 273.17L321.3 273.00L321.7 273.31L322.1 274.60L322.5 273.83L322.9 274.07L323.3 274.15L323.7 274.76L324.1 275.85L324.5 274.60L324.9 275.72L325.3 276.19L325.7 275.73L326.1 275.73L326.5 275.94L326.9 275.87L327.3 275.98L327.7 275.63L328.1 276.00L328.5 276.05L328.9 277.22L329.3 275.90L329.7 276.79L330.1 277.95L330.5 277.83L330.9 277.66L331.3 277.43L331.7 279.01L332.1 277.35L332.5 278.48L332.9 278.41L333.3 278.57L333.7 278.63L334.1 279.45L334.5 278.48L334.9 278.57L335.3 278.53L335.7 278.71L336.1 279.69L336.5 279.52L336.9 279.38L337.3 279.48L337.7 280.36L338.1 280.02L338.5 281.58L338.9 279.85L339.3 280.13L339.7 280.18L340.1 281.35L340.5 280.98L340.9 280.92L341.3 281.31L341.7 281.36L342.1 281.75L342.5 281.27L342.9 281.90L343.3 281.50L343.7 281.52L344.1 281.93L344.5 282.52L344.9 283.27L345.3 282.99L345.7 283.12L346.1 283.01L346.5 282.65L346.9 283.60L347.3 283.58L347.7 284.52L348.1 284.11L348.5 284.38L348.9 284.73L349.3 284.35L349.7 285.56L350.1 285.15L350.5 284.92L350.9 284.41L351.3 285.28L351.7 285.17L352.1 285.19L352.5 285.98L352.9 285.47L353.3 286.17L353.7 286.62L354.1 286.88L354.5 286.39L354.9 287.29L355.3 286.80L355.7 287.48L356.1 287.05L356.5 287.78L356.9 288.22L357.3 287.86L357.7 288.62L358.1 287.08L358.5 288.46L358.9 288.38L359.3 289.63L359.7 288.68L360.1 289.32L360.5 288.94" fill="none" stroke="#8c8c14" stroke-width="1" stroke-linejoin="round"/><path d="M190.1 278.97L190.5 278.76L190.9 278.15L191.3 277.23L191.7 277.42L192.1 277.13L192.5 277.06L192.9 276.45L193.3 276.18L193.7 275.91L194.1 275.07L194.5 275.24L194.9 274.59L195.3 273.98L195.7 273.60L196.1 273.54L196.5 272.80L196.9 272.52L197.3 271.76L197.7 271.43L198.1 271.13L198.5 270.86L198.9 269.85L199.3 269.82L199.7 269.72L200.1 268.63L200.5 267.60L200.9 267.98L201.3 268.00L201.7 266.78L202.1 265.93L202.5 265.54L202.9 264.89L203.3 264.36L203.7 263.58L204.1 263.07L204.5 262.90L204.9 262.37L205.3 261.56L205.7 260.18L206.1 260.31L206.5 258.66L206.9 257.87L207.3 257.36L207.7 256.24L208.1 255.56L208.5 255.05L208.9 253.65L209.3 252.93L209.7 252.76L210.1 251.22L210.5 250.32L210.9 250.22L211.3 248.07L211.7 246.65L212.1 245.72L212.5 245.01L212.9 243.85L213.3 243.15L213.7 241.47L214.1 240.36L214.5 239.35L214.9 238.50L215.3 237.75L215.7 236.47L216.1 235.23L216.5 233.74L216.9 232.61L217.3 231.76L217.7 230.96L218.1 229.74L218.5 229.15L218.9 229.10L219.3 228.97L219.7 228.56L220.1 230.50L220.5 230.00L220.9 231.38L221.3 232.37L221.7 234.26L222.1 234.54L222.5 236.45L222.9 237.81L223.3 240.05L223.7 242.05L224.1 243.94L224.5 244.12L224.9 245.00L225.3 245.61L225.7 246.22L226.1 246.24L226.5 246.64L226.9 247.41L227.3 247.58L227.7 247.51L228.1 247.88L228.5 247.91L228.9 248.82L229.3 248.04L229.7 248.28L230.1 248.86L230.5 248.90L230.9 248.73L231.3 249.04L231.7 249.56L232.1 249.22L232.5 249.17L232.9 249.31L233.3 248.96L233.7 249.13L234.1 249.30L234.5 249.58L234.9 249.73L235.3 249.51L235.7 250.56L236.1 249.76L236.5 250.58L236.9 250.87L237.3 250.89L237.7 250.96L238.1 251.25L238.5 251.73L238.9 252.23L239.3 251.85L239.7 252.96L240.1 253.30L240.5 252.92L240.9 253.65L241.3 252.99L241.7 253.60L242.1 254.05L242.5 253.78L242.9 255.82L243.3 255.00L243.7 255.20L244.1 255.33L244.5 255.63L244.9 255.88L245.3 256.07L245.7 256.01L246.1 256.03L246.5 256.13L246.9 256.81L247.3 256.84L247.7 257.03L248.1 258.32L248.5 257.16L248.9 257.45L249.3 258.08L249.7 257.84L250.1 258.29L250.5 258.54L250.9 258.15L251.3 259.60L251.7 258.55L252.1 258.93L252.5 258.89L252.9 259.17L253.3 259.68L253.7 259.87L254.1 260.08L254.5 260.39L254.9 260.38L255.3 259.98L255.7 259.89L256.1 259.92L256.5 260.22L256.9 260.86L257.3 260.57L257.7 260.88L258.1 260.69L258.5 260.58L258.9 261.58L259.3 261.24L259.7 260.97L260.1 261.21L260.5 261.11L260.9 262.26L261.3 261.46L261.7 261.23L262.1 262.17L262.5 261.70L262.9 261.59L263.3 262.39L263.7 261.80L264.1 261.64L264.5 261.93L264.9 261.77L265.3 261.43L265.7 261.68L266.1 261.90L266.5 261.76L266.9 262.05L267.3 261.57L267.7 261.68L268.1 261.92L268.5 261.81L268.9 262.13L269.3 261.33L269.7 262.03L270.1 261.90L270.5 262.45L270.9 261.92L271.3 262.09L271.7 261.80L272.1 261.26L272.5 261.47L272.9 262.84L273.3 261.94L273.7 261.67L274.1 262.05L274.5 261.66L274.9 262.30L275.3 261.14L275.7 260.83L276.1 261.60L276.5 261.41L276.9 261.58L277.3 260.94L277.7 260.97L278.1 260.96L278.5 261.09L278.9 261.31L279.3 259.91L279.7 260.07L280.1 260.41L280.5 260.15L280.9 260.49L281.3 260.19L281.7 260.55L282.1 259.32L282.5 260.15L282.9 258.72L283.3 258.99L283.7 258.30L284.1 258.95L284.5 257.79L284.9 256.25L285.3 254.92L285.7 255.32L286.1 254.23L286.5 252.09L286.9 252.22L287.3 250.76L287.7 250.30L288.1 248.54L288.5 247.87L288.9 246.79L289.3 244.83L289.7 243.20L290.1 242.11L290.5 240.81L290.9 240.49L291.3 238.21L291.7 235.29L292.1 231.80L292.5 227.76L292.9 223.41L293.3 218.77L293.7 213.67L294.1 208.54L294.5 203.69L294.9 198.90L295.3 196.50L295.7 201.30L296.1 206.09L296.5 211.08L296.9 216.25L297.3 221.16L297.7 225.61L298.1 229.83L298.5 233.63L298.9 236.86L299.3 239.87L299.7 242.60L300.1 244.74L300.5 246.77L300.9 248.04L301.3 249.57L301.7 250.64L302.1 252.18L302.5 252.79L302.9 253.98L303.3 254.51L303.7 255.76L304.1 256.93L304.5 257.42L304.9 257.78L305.3 257.97L305.7 259.05L306.1 260.06L306.5 260.25L306.9 261.20L307.3 260.76L307.7 261.87L308.1 262.46L308.5 262.51L308.9 262.81L309.3 263.68L309.7 264.64L310.1 264.38L310.5 264.35L310.9 265.25L311.3 266.56L311.7 266.25L312.1 266.12L312.5 266.94L312.9 267.46L313.3 268.30L313.7 267.84L314.1 268.23L314.5 269.08L314.9 269.05L315.3 269.59L315.7 269.47L316.1 269.86L316.5 271.08L316.9 271.27L317.3 270.89L317.7 271.88L318.1 272.00L318.5 272.15L318.9 271.97L319.3 272.25L319.7 273.85L320.1 272.85L320.5 273.03L320.9 272.63L321.3 273.69L321.7 273.58L322.1 273.77L322.5 274.37L322.9 274.33L323.3 274.25L323.7 274.11L324.1 274.35L324.5 274.81L324.9 275.18L325.3 275.91L325.7 276.07L326.1 275.62L326.5 275.84L326.9 276.18L327.3 276.54L327.7 275.89L328.1 276.69L328.5 276.77L328.9 276.40L329.3 277.09L329.7 276.65L330.1 276.88L330.5 276.68L330.9 278.12L331.3 277.25L331.7 277.90L332.1 278.43L332.5 278.33L332.9 278.16L333.3 277.77L333.7 278.39L334.1 277.30L334.5 278.27L334.9 277.94L335.3 278.97L335.7 279.06L336.1 279.26L336.5 280.05L336.9 279.29L337.3 279.37L337.7 279.77L338.1 279.37L338.5 279.65L338.9 279.83L339.3 280.21L339.7 280.18L340.1 280.88L340.5 280.09L340.9 282.02L341.3 281.06L341.7 281.22L342.1 281.02L342.5 281.41L342.9 281.69L343.3 281.89L343.7 282.91L344.1 281.81L344.5 282.50L344.9 283.21L345.3 282.70L345.7 282.76L346.1 282.64L346.5 282.24L346.9 283.24L347.3 283.10L347.7 283.78L348.1 284.53L348.5 284.15L348.9 283.90L349.3 283.74L349.7 284.29L350.1 285.12L350.5 285.34L350.9 285.11L351.3 284.73L351.7 285.82L352.1 286.85L352.5 285.81L352.9 285.69L353.3 286.51L353.7 285.86L354.1 286.83L354.5 286.36L354.9 287.03L355.3 287.21L355.7 287.71L356.1 287.38L356.5 286.62L356.9 287.71L357.3 287.73L357.7 287.94L358.1 287.52L358.5 288.84L358.9 287.70L359.3 288.51L359.7 289.15L360.1 288.84L360.5 290.43" fill="none" stroke="#f49a2a" stroke-width="1.1" stroke-linejoin="round"/><path d="M190.1 277.99L190.5 276.77L190.9 277.21L191.3 278.04L191.7 276.30L192.1 275.65L192.5 275.09L192.9 274.40L193.3 274.41L193.7 274.53L194.1 273.60L194.5 273.52L194.9 272.98L195.3 271.99L195.7 271.40L196.1 271.68L196.5 273.98L196.9 270.08L197.3 269.04L197.7 269.31L198.1 268.69L198.5 268.32L198.9 267.58L199.3 267.79L199.7 266.97L200.1 266.32L200.5 265.72L200.9 264.09L201.3 266.47L201.7 263.99L202.1 263.89L202.5 262.90L202.9 261.97L203.3 261.19L203.7 259.94L204.1 260.87L204.5 262.60L204.9 259.97L205.3 258.61L205.7 257.05L206.1 256.11L206.5 255.23L206.9 254.70L207.3 254.16L207.7 252.70L208.1 252.82L208.5 251.46L208.9 250.08L209.3 250.82L209.7 249.51L210.1 251.05L210.5 248.05L210.9 246.51L211.3 245.56L211.7 243.97L212.1 244.26L212.5 243.33L212.9 242.35L213.3 240.26L213.7 239.76L214.1 238.49L214.5 237.07L214.9 237.07L215.3 235.30L215.7 233.67L216.1 233.82L216.5 232.02L216.9 232.36L217.3 231.41L217.7 230.08L218.1 229.84L218.5 228.48L218.9 229.61L219.3 230.78L219.7 228.63L220.1 228.38L220.5 229.71L220.9 229.96L221.3 230.62L221.7 231.81L222.1 233.58L222.5 236.16L222.9 237.68L223.3 239.53L223.7 242.12L224.1 243.71L224.5 245.49L224.9 247.47L225.3 248.62L225.7 250.92L226.1 251.39L226.5 252.31L226.9 253.37L227.3 253.99L227.7 254.78L228.1 255.74L228.5 255.62L228.9 256.60L229.3 256.16L229.7 256.92L230.1 256.30L230.5 258.12L230.9 257.74L231.3 257.63L231.7 257.25L232.1 259.54L232.5 258.00L232.9 257.85L233.3 258.07L233.7 258.57L234.1 258.47L234.5 259.99L234.9 258.74L235.3 258.17L235.7 258.68L236.1 259.30L236.5 260.04L236.9 260.11L237.3 261.24L237.7 260.64L238.1 260.57L238.5 260.29L238.9 261.97L239.3 260.98L239.7 262.00L240.1 260.99L240.5 262.18L240.9 261.18L241.3 262.98L241.7 264.91L242.1 261.72L242.5 262.22L242.9 263.55L243.3 264.98L243.7 263.11L244.1 262.10L244.5 264.35L244.9 265.36L245.3 263.87L245.7 264.05L246.1 263.68L246.5 264.70L246.9 263.68L247.3 265.57L247.7 264.55L248.1 263.29L248.5 263.51L248.9 264.95L249.3 266.17L249.7 263.92L250.1 264.74L250.5 265.09L250.9 265.56L251.3 264.73L251.7 264.93L252.1 265.66L252.5 265.44L252.9 265.10L253.3 265.07L253.7 265.98L254.1 265.49L254.5 265.43L254.9 265.66L255.3 265.56L255.7 266.08L256.1 266.38L256.5 265.89L256.9 265.24L257.3 265.15L257.7 265.65L258.1 266.27L258.5 267.35L258.9 266.25L259.3 266.68L259.7 267.17L260.1 265.73L260.5 267.52L260.9 266.67L261.3 265.79L261.7 270.56L262.1 266.24L262.5 265.61L262.9 266.39L263.3 265.84L263.7 266.26L264.1 267.00L264.5 266.10L264.9 266.45L265.3 267.66L265.7 266.39L266.1 266.74L266.5 265.87L266.9 266.34L267.3 270.83L267.7 267.14L268.1 266.61L268.5 266.64L268.9 266.16L269.3 265.54L269.7 267.74L270.1 266.30L270.5 266.49L270.9 267.28L271.3 266.74L271.7 266.16L272.1 265.90L272.5 266.35L272.9 266.67L273.3 266.27L273.7 266.39L274.1 265.89L274.5 266.83L274.9 266.51L275.3 265.08L275.7 264.76L276.1 265.80L276.5 264.37L276.9 265.67L277.3 265.55L277.7 265.46L278.1 264.42L278.5 264.97L278.9 263.72L279.3 263.73L279.7 263.21L280.1 263.04L280.5 263.58L280.9 263.73L281.3 262.01L281.7 262.28L282.1 262.40L282.5 262.52L282.9 262.13L283.3 262.01L283.7 260.13L284.1 260.61L284.5 259.39L284.9 258.32L285.3 256.59L285.7 255.47L286.1 256.84L286.5 253.94L286.9 255.43L287.3 251.56L287.7 251.08L288.1 249.89L288.5 248.65L288.9 246.71L289.3 247.54L289.7 243.62L290.1 242.95L290.5 240.17L290.9 240.97L291.3 238.30L291.7 235.29L292.1 231.80L292.5 227.76L292.9 223.41L293.3 218.77L293.7 213.67L294.1 208.54L294.5 203.69L294.9 198.90L295.3 196.50L295.7 201.30L296.1 206.09L296.5 211.08L296.9 216.25L297.3 221.16L297.7 225.61L298.1 229.83L298.5 233.63L298.9 236.87L299.3 239.88L299.7 242.66L300.1 244.94L300.5 247.36L300.9 247.73L301.3 249.97L301.7 251.45L302.1 251.75L302.5 253.38L302.9 254.86L303.3 255.35L303.7 255.70L304.1 257.22L304.5 257.25L304.9 258.76L305.3 259.43L305.7 260.36L306.1 261.08L306.5 261.52L306.9 261.53L307.3 261.75L307.7 262.43L308.1 263.55L308.5 263.58L308.9 264.19L309.3 266.41L309.7 265.88L310.1 266.26L310.5 265.14L310.9 266.40L311.3 267.47L311.7 266.97L312.1 266.99L312.5 267.61L312.9 267.30L313.3 269.26L313.7 269.58L314.1 269.47L314.5 269.43L314.9 269.87L315.3 271.32L315.7 270.70L316.1 270.36L316.5 271.18L316.9 271.76L317.3 271.53L317.7 272.32L318.1 272.44L318.5 272.93L318.9 274.17L319.3 273.89L319.7 273.07L320.1 273.23L320.5 273.43L320.9 273.89L321.3 273.29L321.7 273.59L322.1 274.32L322.5 276.27L322.9 275.77L323.3 275.45L323.7 275.65L324.1 276.06L324.5 275.41L324.9 274.73L325.3 276.32L325.7 275.53L326.1 276.86L326.5 276.91L326.9 277.23L327.3 277.04L327.7 277.81L328.1 279.06L328.5 277.33L328.9 276.46L329.3 277.02L329.7 277.27L330.1 278.16L330.5 278.25L330.9 277.69L331.3 278.11L331.7 278.63L332.1 278.27L332.5 278.14L332.9 277.79L333.3 277.99L333.7 279.48L334.1 278.89L334.5 278.70L334.9 283.70L335.3 279.32L335.7 279.53L336.1 279.08L336.5 279.40L336.9 281.39L337.3 279.64L337.7 280.88L338.1 279.95L338.5 280.59L338.9 281.76L339.3 281.87L339.7 281.17L340.1 280.51L340.5 282.65L340.9 282.77L341.3 281.17L341.7 281.96L342.1 282.37L342.5 284.93L342.9 282.89L343.3 282.28L343.7 283.29L344.1 282.89L344.5 285.41L344.9 282.54L345.3 282.42L345.7 283.16L346.1 283.05L346.5 285.70L346.9 283.58L347.3 284.52L347.7 283.76L348.1 284.54L348.5 284.45L348.9 284.85L349.3 284.68L349.7 286.14L350.1 285.28L350.5 285.76L350.9 286.72L351.3 286.07L351.7 286.92L352.1 286.28L352.5 286.38L352.9 287.90L353.3 286.40L353.7 286.27L354.1 287.78L354.5 288.01L354.9 291.35L355.3 287.62L355.7 288.14L356.1 287.27L356.5 289.03L356.9 288.47L357.3 289.38L357.7 289.23L358.1 289.28L358.5 289.97L358.9 290.49L359.3 288.84L359.7 289.69L360.1 290.62L360.5 290.55" fill="none" stroke="#ec2a14" stroke-width="1.4" stroke-linejoin="round"/><rect x="189.5" y="190.8" width="171.7" height="111.2" fill="none" stroke="#111" stroke-width="1.1"/><path d="M189.5 302v-1.8M189.5 190.8v1.8M200.2 302v-1.8M200.2 190.8v1.8M210.9 302v-3M210.9 190.8v3M221.7 302v-1.8M221.7 190.8v1.8M232.4 302v-1.8M232.4 190.8v1.8M243.1 302v-1.8M243.1 190.8v1.8M253.8 302v-3M253.8 190.8v3M264.6 302v-1.8M264.6 190.8v1.8M275.3 302v-1.8M275.3 190.8v1.8M286 302v-1.8M286 190.8v1.8M296.8 302v-3M296.8 190.8v3M307.5 302v-1.8M307.5 190.8v1.8M318.2 302v-1.8M318.2 190.8v1.8M328.9 302v-1.8M328.9 190.8v1.8M339.6 302v-3M339.6 190.8v3M350.4 302v-1.8M350.4 190.8v1.8M361.1 302v-1.8M361.1 190.8v1.8M189.5 206.8h3M361.2 206.8h-3M189.5 222.7h3M361.2 222.7h-3M189.5 238.6h3M361.2 238.6h-3M189.5 254.5h3M361.2 254.5h-3M189.5 270.4h3M361.2 270.4h-3M189.5 286.3h3M361.2 286.3h-3" stroke="#111" stroke-width="1" fill="none"/><text x="210.9" y="312.4" font-size="8.6" text-anchor="middle" font-family="Liberation Sans, Arial, sans-serif">45</text><text x="253.8" y="312.4" font-size="8.6" text-anchor="middle" font-family="Liberation Sans, Arial, sans-serif">46</text><text x="296.8" y="312.4" font-size="8.6" text-anchor="middle" font-family="Liberation Sans, Arial, sans-serif">47</text><text x="339.6" y="312.4" font-size="8.6" text-anchor="middle" font-family="Liberation Sans, Arial, sans-serif">48</text><text x="275.4" y="324.6" font-size="8.8" text-anchor="middle" font-family="Liberation Sans, Arial, sans-serif">2<tspan font-family="Liberation Serif, serif">θ</tspan> (deg)</text><text transform="translate(177.6,245.2) rotate(-90)" font-size="8.9" text-anchor="middle" font-family="Liberation Sans, Arial, sans-serif">Intensity (arb. units)</text><text x="195" y="202.8" font-size="9.6" fill="#222" font-family="Liberation Sans, Arial, sans-serif">(e)</text><text x="202" y="222.6" font-size="10.2" fill="#222" font-family="Liberation Sans, Arial, sans-serif" >(008)<tspan font-size="6.3" dy="1.8">BM</tspan></text><text x="322.7" y="220" font-size="9.6" fill="#222" font-family="Liberation Sans, Arial, sans-serif" >(002)<tspan font-size="6.4" dy="1.4">P</tspan></text><text x="289.6" y="199.6" font-size="9.5" font-family="Liberation Sans, Arial, sans-serif">*</text><path d="M332.6 227.2 Q 285 213.5 229.2 231.6" fill="none" stroke="#111" stroke-width="0.9"/><path d="M224.8 233.6 L230.6 228.8 L231.4 233.4 Z" fill="#111"/><path d="M419.2 205 H487.8" stroke="#222" stroke-width="1.3"/><path d="M402.3 285.7 H475.5" stroke="#222" stroke-width="1.3"/><path d="M405 285.2 L420.3 273.5" fill="none" stroke="#222" stroke-width="1.15" stroke-dasharray="3.4,2.2"/><path d="M421.5 271.5 C 427 250, 430 220, 437 212 C 441 207, 446 205.6, 451 205.4" fill="none" stroke="#222" stroke-width="1.15" stroke-dasharray="3.4,2.2"/><path d="M422 272 C 428 258, 432 240, 436.5 232 C 444 219, 456 207, 466.5 205.2" fill="none" stroke="#222" stroke-width="1.15" stroke-dasharray="3.4,2.2"/><path d="M423 273 C 428 267, 432 262, 435.8 257.5 C 441 250, 447 240, 451.5 232.8 C 456 224, 461 216, 466.8 212.6 C 472 208, 476 206, 481.5 205.5" fill="none" stroke="#222" stroke-width="1.15" stroke-dasharray="3.4,2.2"/><path d="M425.5 281.4 Q 459 252 465.4 231.5" fill="none" stroke="#111" stroke-width="1.1"/><path d="M466.6 226.6 L463 232.6 L467.9 233 Z" fill="#111"/><path d="M404.6 282.5 l2.9 2.9 l-2.9 2.9 l-2.9 -2.9 Z" fill="#fff" fill-opacity="0.6" stroke="#5a2a9c" stroke-width="1.2"/><path d="M420.3 269.7 l2.9 2.9 l-2.9 2.9 l-2.9 -2.9 Z" fill="#fff" fill-opacity="0.6" stroke="#2020e0" stroke-width="1.2"/><path d="M420.6 271.9 l2.9 2.9 l-2.9 2.9 l-2.9 -2.9 Z" fill="#fff" fill-opacity="0.6" stroke="#2020e0" stroke-width="1.2"/><path d="M435.4 254.5 l2.9 2.9 l-2.9 2.9 l-2.9 -2.9 Z" fill="#fff" fill-opacity="0.6" stroke="#1a9a1a" stroke-width="1.2"/><path d="M435.4 230.4 l2.9 2.9 l-2.9 2.9 l-2.9 -2.9 Z" fill="#fff" fill-opacity="0.6" stroke="#1a9a1a" stroke-width="1.2"/><path d="M435.4 210.9 l2.9 2.9 l-2.9 2.9 l-2.9 -2.9 Z" fill="#fff" fill-opacity="0.6" stroke="#1a9a1a" stroke-width="1.2"/><path d="M451.2 229.8 l2.9 2.9 l-2.9 2.9 l-2.9 -2.9 Z" fill="#fff" fill-opacity="0.6" stroke="#a0a020" stroke-width="1.2"/><path d="M451.2 202.5 l2.9 2.9 l-2.9 2.9 l-2.9 -2.9 Z" fill="#fff" fill-opacity="0.6" stroke="#a0a020" stroke-width="1.2"/><path d="M466.6 209.5 l2.9 2.9 l-2.9 2.9 l-2.9 -2.9 Z" fill="#fff" fill-opacity="0.6" stroke="#f09020" stroke-width="1.2"/><path d="M466.6 201.9 l2.9 2.9 l-2.9 2.9 l-2.9 -2.9 Z" fill="#fff" fill-opacity="0.6" stroke="#f09020" stroke-width="1.2"/><path d="M481.8 202.5 l2.9 2.9 l-2.9 2.9 l-2.9 -2.9 Z" fill="#fff" fill-opacity="0.6" stroke="#e02020" stroke-width="1.2"/><rect x="402.3" y="191.2" width="85.5" height="110.7" fill="none" stroke="#111" stroke-width="1.1"/><path d="M406.6 301.9v-1.6M406.6 191.2v1.6M414.1 301.9v-1.6M414.1 191.2v1.6M421.6 301.9v-2.6M421.6 191.2v2.6M429.1 301.9v-1.6M429.1 191.2v1.6M436.6 301.9v-1.6M436.6 191.2v1.6M444.1 301.9v-1.6M444.1 191.2v1.6M451.6 301.9v-2.6M451.6 191.2v2.6M459.1 301.9v-1.6M459.1 191.2v1.6M466.6 301.9v-1.6M466.6 191.2v1.6M474.1 301.9v-1.6M474.1 191.2v1.6M481.6 301.9v-2.6M481.6 191.2v2.6M402.3 301.9h-2.5M487.8 301.9h2.5M402.3 292.6h1.6M487.8 292.6h-1.6M402.3 283.4h-2.5M487.8 283.4h2.5M402.3 274.1h1.6M487.8 274.1h-1.6M402.3 264.8h-2.5M487.8 264.8h2.5M402.3 255.5h1.6M487.8 255.5h-1.6M402.3 246.3h-2.5M487.8 246.3h2.5M402.3 237h1.6M487.8 237h-1.6M402.3 227.7h-2.5M487.8 227.7h2.5M402.3 218.5h1.6M487.8 218.5h-1.6M402.3 209.2h-2.5M487.8 209.2h2.5M402.3 199.9h1.6M487.8 199.9h-1.6" stroke="#111" stroke-width="0.9" fill="none"/><text x="398.6" y="305" font-size="8.6" text-anchor="end" font-family="Liberation Sans, Arial, sans-serif">3.75</text><text x="398.6" y="286.5" font-size="8.6" text-anchor="end" font-family="Liberation Sans, Arial, sans-serif">3.80</text><text x="398.6" y="267.9" font-size="8.6" text-anchor="end" font-family="Liberation Sans, Arial, sans-serif">3.85</text><text x="398.6" y="249.4" font-size="8.6" text-anchor="end" font-family="Liberation Sans, Arial, sans-serif">3.90</text><text x="398.6" y="230.8" font-size="8.6" text-anchor="end" font-family="Liberation Sans, Arial, sans-serif">3.95</text><text x="398.6" y="212.3" font-size="8.6" text-anchor="end" font-family="Liberation Sans, Arial, sans-serif">4.00</text><text x="491.2" y="305" font-size="8.6" font-family="Liberation Sans, Arial, sans-serif">0.03</text><text x="491.2" y="286.5" font-size="8.6" font-family="Liberation Sans, Arial, sans-serif">0.12</text><text x="491.2" y="267.9" font-size="8.6" font-family="Liberation Sans, Arial, sans-serif">0.21</text><text x="491.2" y="249.4" font-size="8.6" font-family="Liberation Sans, Arial, sans-serif">0.30</text><text x="491.2" y="230.8" font-size="8.6" font-family="Liberation Sans, Arial, sans-serif">0.39</text><text x="491.2" y="212.3" font-size="8.6" font-family="Liberation Sans, Arial, sans-serif">0.48</text><text x="421.6" y="311.6" font-size="8.6" text-anchor="middle" font-family="Liberation Sans, Arial, sans-serif">500</text><text x="451.6" y="311.6" font-size="8.6" text-anchor="middle" font-family="Liberation Sans, Arial, sans-serif">520</text><text x="481.6" y="311.6" font-size="8.6" text-anchor="middle" font-family="Liberation Sans, Arial, sans-serif">540</text><text x="445.3" y="325.6" font-size="9" text-anchor="middle" font-family="Liberation Sans, Arial, sans-serif">Vacuum Anneal T (°C)</text><text transform="translate(376,245.9) rotate(-90)" font-size="9.2" text-anchor="middle" font-family="Liberation Sans, Arial, sans-serif">a<tspan font-size="6.3" dy="1.6">op</tspan><tspan dy="-1.6"> (Å)</tspan></text><text transform="translate(515.8,246.6) rotate(-90)" font-size="9.4" text-anchor="middle" fill="#333" font-family="Liberation Serif, serif">δ</text><text x="406.3" y="203.4" font-size="9.4" fill="#222" font-family="Liberation Sans, Arial, sans-serif">(f)</text><text x="469.2" y="202" font-size="9.8" fill="#222" font-family="Liberation Sans, Arial, sans-serif">BM</text><text x="410" y="297.6" font-size="10.2" fill="#222" font-family="Liberation Sans, Arial, sans-serif">P (As dep.)</text>
</svg></body></html>
